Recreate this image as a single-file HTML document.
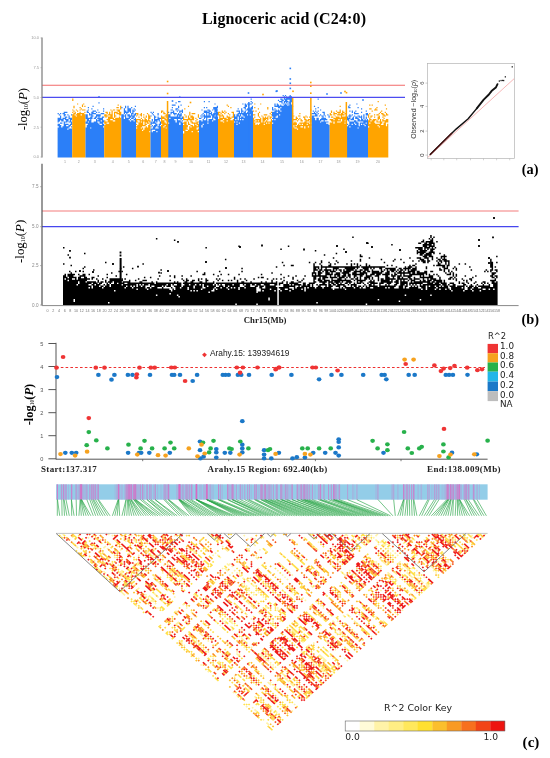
<!DOCTYPE html>
<html><head><meta charset="utf-8"><title>Lignoceric acid (C24:0)</title>
<style>
html,body{margin:0;padding:0;background:#fff;}
body{width:550px;height:758px;overflow:hidden;position:relative;}
svg{position:absolute;left:0;top:0;display:block;}
.serif{font-family:'Liberation Serif', 'Times New Roman', serif;}
.sans{font-family:'Liberation Sans', Arial, sans-serif;}
</style></head><body>
<svg width="550" height="758" viewBox="0 0 550 758" shape-rendering="auto">
<rect width="550" height="758" fill="#fff"/>
<text x="202" y="23.5" class="serif" font-weight="bold" font-size="16" textLength="164" lengthAdjust="spacing">Lignoceric acid (C24:0)</text>
<path d="M63.7 111.8h3.7v1.2h-3.7zM57.6 113h1.2v1.2h-1.2zM60 113h1.2v1.2h-1.2zM62.5 113h2.4v1.2h-2.4zM58.8 114.2h1.2v1.2h-1.2zM63.7 114.2h2.4v1.2h-2.4zM67.3 114.2h1.2v1.2h-1.2zM71 114.2h1.2v1.2h-1.2zM60 115.4h1.2v1.2h-1.2zM63.7 115.4h1.2v1.2h-1.2zM68.5 115.4h1.2v1.2h-1.2zM60 116.6h1.2v1.2h-1.2zM64.9 116.6h2.4v1.2h-2.4zM68.5 116.6h1.2v1.2h-1.2zM57.6 117.8h3.7v1.2h-3.7zM62.5 117.8h3.7v1.2h-3.7zM68.5 117.8h3.7v1.2h-3.7zM57.6 119h6.1v1.2h-6.1zM64.9 119h3.7v1.2h-3.7zM69.8 119h2.4v1.2h-2.4zM57.6 120.2h2.4v1.2h-2.4zM61.2 120.2h2.4v1.2h-2.4zM66.1 120.2h2.4v1.2h-2.4zM69.8 120.2h1.2v1.2h-1.2zM57.6 121.4h1.2v1.2h-1.2zM63.7 121.4h3.7v1.2h-3.7zM68.5 121.4h3.7v1.2h-3.7zM60 122.6h2.4v1.2h-2.4zM63.7 122.6h1.2v1.2h-1.2zM71 122.6h1.2v1.2h-1.2zM57.6 123.8h2.4v1.2h-2.4zM63.7 123.8h4.9v1.2h-4.9zM69.8 123.8h2.4v1.2h-2.4zM57.6 125h3.7v1.2h-3.7zM63.7 125h2.4v1.2h-2.4zM68.5 125h2.4v1.2h-2.4zM58.8 126.2h2.4v1.2h-2.4zM62.5 126.2h7.3v1.2h-7.3zM71 126.2h1.2v1.2h-1.2zM57.6 127.4h11v1.2h-11zM57.6 128.6h9.7v1.2h-9.7zM68.5 128.6h3.7v1.2h-3.7zM57.6 129.8h14.6v1.2h-14.6zM57.6 131h14.6v1.2h-14.6zM57.6 132.2h14.6v1.2h-14.6zM57.6 133.4h14.6v1.2h-14.6zM57.6 134.6h14.6v1.2h-14.6zM57.6 135.8h14.6v1.2h-14.6zM57.6 137h14.6v1.2h-14.6zM57.6 138.2h14.6v1.2h-14.6zM57.6 139.4h14.6v1.2h-14.6zM57.6 140.6h14.6v1.2h-14.6zM57.6 141.8h14.6v1.2h-14.6zM57.6 143h14.6v1.2h-14.6zM57.6 144.2h14.6v1.2h-14.6zM57.6 145.4h14.6v1.2h-14.6zM57.6 146.6h14.6v1.2h-14.6zM57.6 147.8h14.6v1.2h-14.6zM57.6 149h14.6v1.2h-14.6zM57.6 150.2h14.6v1.2h-14.6zM57.6 151.4h14.6v1.2h-14.6zM57.6 152.6h14.6v1.2h-14.6zM57.6 153.8h14.6v1.2h-14.6zM57.6 155h14.6v1.2h-14.6zM57.6 156.2h14.6v1.2h-14.6z" fill="#2b7ff8"/>
<path d="M72.2 98.6h1.2v1.2h-1.2zM72.2 99.8h1.2v1.2h-1.2zM77 103.4h1.2v1.2h-1.2zM83.1 103.4h1.2v1.2h-1.2zM81.9 104.6h1.2v1.2h-1.2zM73.4 105.8h1.2v1.2h-1.2zM81.9 105.8h1.2v1.2h-1.2zM84.3 105.8h1.2v1.2h-1.2zM73.4 107h1.2v1.2h-1.2zM79.5 107h1.2v1.2h-1.2zM80.7 108.2h1.2v1.2h-1.2zM72.2 109.4h1.2v1.2h-1.2zM75.8 109.4h1.2v1.2h-1.2zM79.5 109.4h1.2v1.2h-1.2zM81.9 109.4h3.6v1.2h-3.6zM73.4 110.6h1.2v1.2h-1.2zM77 110.6h1.2v1.2h-1.2zM72.2 111.8h1.2v1.2h-1.2zM74.6 111.8h1.2v1.2h-1.2zM79.5 111.8h1.2v1.2h-1.2zM84.3 111.8h1.2v1.2h-1.2zM73.4 113h2.4v1.2h-2.4zM77 113h7.3v1.2h-7.3zM72.2 114.2h2.4v1.2h-2.4zM75.8 114.2h4.8v1.2h-4.8zM81.9 114.2h3.6v1.2h-3.6zM72.2 115.4h3.6v1.2h-3.6zM77 115.4h8.5v1.2h-8.5zM72.2 116.6h13.3v1.2h-13.3zM72.2 117.8h13.3v1.2h-13.3zM72.2 119h13.3v1.2h-13.3zM72.2 120.2h13.3v1.2h-13.3zM72.2 121.4h13.3v1.2h-13.3zM72.2 122.6h13.3v1.2h-13.3zM72.2 123.8h13.3v1.2h-13.3zM72.2 125h13.3v1.2h-13.3zM72.2 126.2h13.3v1.2h-13.3zM72.2 127.4h13.3v1.2h-13.3zM72.2 128.6h13.3v1.2h-13.3zM72.2 129.8h13.3v1.2h-13.3zM72.2 131h13.3v1.2h-13.3zM72.2 132.2h13.3v1.2h-13.3zM72.2 133.4h13.3v1.2h-13.3zM72.2 134.6h13.3v1.2h-13.3zM72.2 135.8h13.3v1.2h-13.3zM72.2 137h13.3v1.2h-13.3zM72.2 138.2h13.3v1.2h-13.3zM72.2 139.4h13.3v1.2h-13.3zM72.2 140.6h13.3v1.2h-13.3zM72.2 141.8h13.3v1.2h-13.3zM72.2 143h13.3v1.2h-13.3zM72.2 144.2h13.3v1.2h-13.3zM72.2 145.4h13.3v1.2h-13.3zM72.2 146.6h13.3v1.2h-13.3zM72.2 147.8h13.3v1.2h-13.3zM72.2 149h13.3v1.2h-13.3zM72.2 150.2h13.3v1.2h-13.3zM72.2 151.4h13.3v1.2h-13.3zM72.2 152.6h13.3v1.2h-13.3zM72.2 153.8h13.3v1.2h-13.3zM72.2 155h13.3v1.2h-13.3zM72.2 156.2h13.3v1.2h-13.3z" fill="#ffa400"/>
<path d="M98.4 102.2h1.2v1.2h-1.2zM92.5 105.8h1.2v1.2h-1.2zM87.8 107h1.2v1.2h-1.2zM91.3 108.2h1.2v1.2h-1.2zM103 108.2h1.2v1.2h-1.2zM87.8 109.4h1.2v1.2h-1.2zM97.2 109.4h1.2v1.2h-1.2zM86.7 110.6h1.2v1.2h-1.2zM92.5 110.6h3.5v1.2h-3.5zM103 110.6h1.2v1.2h-1.2zM86.7 111.8h2.3v1.2h-2.3zM91.3 111.8h2.3v1.2h-2.3zM96 111.8h1.2v1.2h-1.2zM98.4 111.8h1.2v1.2h-1.2zM89 113h1.2v1.2h-1.2zM91.3 113h4.7v1.2h-4.7zM100.7 113h3.5v1.2h-3.5zM85.5 114.2h2.3v1.2h-2.3zM89 114.2h3.5v1.2h-3.5zM96 114.2h4.7v1.2h-4.7zM85.5 115.4h2.3v1.2h-2.3zM91.3 115.4h2.3v1.2h-2.3zM96 115.4h4.7v1.2h-4.7zM85.5 116.6h2.3v1.2h-2.3zM90.2 116.6h2.3v1.2h-2.3zM94.8 116.6h2.3v1.2h-2.3zM98.4 116.6h1.2v1.2h-1.2zM101.9 116.6h2.3v1.2h-2.3zM85.5 117.8h7v1.2h-7zM93.7 117.8h2.3v1.2h-2.3zM97.2 117.8h5.8v1.2h-5.8zM86.7 119h2.3v1.2h-2.3zM90.2 119h1.2v1.2h-1.2zM96 119h1.2v1.2h-1.2zM98.4 119h4.7v1.2h-4.7zM86.7 120.2h4.7v1.2h-4.7zM96 120.2h4.7v1.2h-4.7zM101.9 120.2h2.3v1.2h-2.3zM85.5 121.4h2.3v1.2h-2.3zM89 121.4h2.3v1.2h-2.3zM93.7 121.4h3.5v1.2h-3.5zM99.5 121.4h4.7v1.2h-4.7zM85.5 122.6h12.9v1.2h-12.9zM99.5 122.6h3.5v1.2h-3.5zM87.8 123.8h11.7v1.2h-11.7zM101.9 123.8h2.3v1.2h-2.3zM86.7 125h17.5v1.2h-17.5zM86.7 126.2h16.4v1.2h-16.4zM85.5 127.4h4.7v1.2h-4.7zM91.3 127.4h12.9v1.2h-12.9zM85.5 128.6h18.7v1.2h-18.7zM85.5 129.8h18.7v1.2h-18.7zM85.5 131h18.7v1.2h-18.7zM85.5 132.2h18.7v1.2h-18.7zM85.5 133.4h18.7v1.2h-18.7zM85.5 134.6h18.7v1.2h-18.7zM85.5 135.8h18.7v1.2h-18.7zM85.5 137h18.7v1.2h-18.7zM85.5 138.2h18.7v1.2h-18.7zM85.5 139.4h18.7v1.2h-18.7zM85.5 140.6h18.7v1.2h-18.7zM85.5 141.8h18.7v1.2h-18.7zM85.5 143h18.7v1.2h-18.7zM85.5 144.2h18.7v1.2h-18.7zM85.5 145.4h18.7v1.2h-18.7zM85.5 146.6h18.7v1.2h-18.7zM85.5 147.8h18.7v1.2h-18.7zM85.5 149h18.7v1.2h-18.7zM85.5 150.2h18.7v1.2h-18.7zM85.5 151.4h18.7v1.2h-18.7zM85.5 152.6h18.7v1.2h-18.7zM85.5 153.8h18.7v1.2h-18.7zM85.5 155h18.7v1.2h-18.7zM85.5 156.2h18.7v1.2h-18.7z" fill="#2b7ff8"/>
<path d="M117.6 104.6h1.2v1.2h-1.2zM120.1 105.8h1.2v1.2h-1.2zM116.4 107h2.4v1.2h-2.4zM120.1 107h1.2v1.2h-1.2zM120.1 108.2h1.2v1.2h-1.2zM110.3 109.4h1.2v1.2h-1.2zM112.8 109.4h2.4v1.2h-2.4zM116.4 109.4h3.7v1.2h-3.7zM111.5 110.6h1.2v1.2h-1.2zM117.6 110.6h2.4v1.2h-2.4zM105.4 111.8h2.4v1.2h-2.4zM109.1 111.8h1.2v1.2h-1.2zM111.5 111.8h1.2v1.2h-1.2zM114 111.8h3.7v1.2h-3.7zM118.9 111.8h2.4v1.2h-2.4zM106.6 113h1.2v1.2h-1.2zM109.1 113h1.2v1.2h-1.2zM111.5 113h1.2v1.2h-1.2zM114 113h1.2v1.2h-1.2zM116.4 113h4.9v1.2h-4.9zM104.2 114.2h2.4v1.2h-2.4zM107.9 114.2h4.9v1.2h-4.9zM114 114.2h1.2v1.2h-1.2zM118.9 114.2h2.4v1.2h-2.4zM104.2 115.4h3.7v1.2h-3.7zM110.3 115.4h2.4v1.2h-2.4zM114 115.4h2.4v1.2h-2.4zM105.4 116.6h1.2v1.2h-1.2zM107.9 116.6h4.9v1.2h-4.9zM114 116.6h1.2v1.2h-1.2zM118.9 116.6h1.2v1.2h-1.2zM107.9 117.8h6.1v1.2h-6.1zM115.2 117.8h6.1v1.2h-6.1zM106.6 119h3.7v1.2h-3.7zM112.8 119h8.5v1.2h-8.5zM104.2 120.2h1.2v1.2h-1.2zM107.9 120.2h4.9v1.2h-4.9zM115.2 120.2h6.1v1.2h-6.1zM104.2 121.4h17.1v1.2h-17.1zM104.2 122.6h2.4v1.2h-2.4zM109.1 122.6h12.2v1.2h-12.2zM105.4 123.8h15.9v1.2h-15.9zM104.2 125h17.1v1.2h-17.1zM104.2 126.2h17.1v1.2h-17.1zM104.2 127.4h17.1v1.2h-17.1zM104.2 128.6h17.1v1.2h-17.1zM104.2 129.8h17.1v1.2h-17.1zM104.2 131h17.1v1.2h-17.1zM104.2 132.2h17.1v1.2h-17.1zM104.2 133.4h17.1v1.2h-17.1zM104.2 134.6h17.1v1.2h-17.1zM104.2 135.8h17.1v1.2h-17.1zM104.2 137h17.1v1.2h-17.1zM104.2 138.2h17.1v1.2h-17.1zM104.2 139.4h17.1v1.2h-17.1zM104.2 140.6h17.1v1.2h-17.1zM104.2 141.8h17.1v1.2h-17.1zM104.2 143h17.1v1.2h-17.1zM104.2 144.2h17.1v1.2h-17.1zM104.2 145.4h17.1v1.2h-17.1zM104.2 146.6h17.1v1.2h-17.1zM104.2 147.8h17.1v1.2h-17.1zM104.2 149h17.1v1.2h-17.1zM104.2 150.2h17.1v1.2h-17.1zM104.2 151.4h17.1v1.2h-17.1zM104.2 152.6h17.1v1.2h-17.1zM104.2 153.8h17.1v1.2h-17.1zM104.2 155h17.1v1.2h-17.1zM104.2 156.2h17.1v1.2h-17.1z" fill="#ffa400"/>
<path d="M125 105.8h1.2v1.2h-1.2zM127.4 105.8h1.2v1.2h-1.2zM134.8 105.8h1.2v1.2h-1.2zM121.3 107h1.2v1.2h-1.2zM125 107h1.2v1.2h-1.2zM127.4 107h1.2v1.2h-1.2zM131.1 107h1.2v1.2h-1.2zM123.8 108.2h1.2v1.2h-1.2zM127.4 108.2h3.7v1.2h-3.7zM133.6 108.2h1.2v1.2h-1.2zM123.8 109.4h1.2v1.2h-1.2zM127.4 109.4h3.7v1.2h-3.7zM132.3 109.4h1.2v1.2h-1.2zM134.8 109.4h1.2v1.2h-1.2zM123.8 110.6h2.5v1.2h-2.5zM127.4 110.6h3.7v1.2h-3.7zM132.3 110.6h2.5v1.2h-2.5zM123.8 111.8h4.9v1.2h-4.9zM129.9 111.8h1.2v1.2h-1.2zM132.3 111.8h1.2v1.2h-1.2zM123.8 113h1.2v1.2h-1.2zM126.2 113h1.2v1.2h-1.2zM131.1 113h2.5v1.2h-2.5zM134.8 113h1.2v1.2h-1.2zM121.3 114.2h2.5v1.2h-2.5zM125 114.2h1.2v1.2h-1.2zM127.4 114.2h2.5v1.2h-2.5zM131.1 114.2h1.2v1.2h-1.2zM133.6 114.2h2.5v1.2h-2.5zM121.3 115.4h4.9v1.2h-4.9zM127.4 115.4h7.4v1.2h-7.4zM121.3 116.6h2.5v1.2h-2.5zM125 116.6h1.2v1.2h-1.2zM128.7 116.6h2.5v1.2h-2.5zM132.3 116.6h2.5v1.2h-2.5zM121.3 117.8h2.5v1.2h-2.5zM125 117.8h4.9v1.2h-4.9zM131.1 117.8h2.5v1.2h-2.5zM134.8 117.8h1.2v1.2h-1.2zM121.3 119h7.4v1.2h-7.4zM129.9 119h1.2v1.2h-1.2zM133.6 119h2.5v1.2h-2.5zM121.3 120.2h8.6v1.2h-8.6zM131.1 120.2h2.5v1.2h-2.5zM134.8 120.2h1.2v1.2h-1.2zM121.3 121.4h14.7v1.2h-14.7zM121.3 122.6h14.7v1.2h-14.7zM121.3 123.8h14.7v1.2h-14.7zM121.3 125h14.7v1.2h-14.7zM121.3 126.2h14.7v1.2h-14.7zM121.3 127.4h14.7v1.2h-14.7zM121.3 128.6h14.7v1.2h-14.7zM121.3 129.8h14.7v1.2h-14.7zM121.3 131h14.7v1.2h-14.7zM121.3 132.2h14.7v1.2h-14.7zM121.3 133.4h14.7v1.2h-14.7zM121.3 134.6h14.7v1.2h-14.7zM121.3 135.8h14.7v1.2h-14.7zM121.3 137h14.7v1.2h-14.7zM121.3 138.2h14.7v1.2h-14.7zM121.3 139.4h14.7v1.2h-14.7zM121.3 140.6h14.7v1.2h-14.7zM121.3 141.8h14.7v1.2h-14.7zM121.3 143h14.7v1.2h-14.7zM121.3 144.2h14.7v1.2h-14.7zM121.3 145.4h14.7v1.2h-14.7zM121.3 146.6h14.7v1.2h-14.7zM121.3 147.8h14.7v1.2h-14.7zM121.3 149h14.7v1.2h-14.7zM121.3 150.2h14.7v1.2h-14.7zM121.3 151.4h14.7v1.2h-14.7zM121.3 152.6h14.7v1.2h-14.7zM121.3 153.8h14.7v1.2h-14.7zM121.3 155h14.7v1.2h-14.7zM121.3 156.2h14.7v1.2h-14.7z" fill="#2b7ff8"/>
<path d="M136 113h2.4v1.2h-2.4zM140.8 113h1.2v1.2h-1.2zM146.9 113h1.2v1.2h-1.2zM137.2 114.2h1.2v1.2h-1.2zM139.6 114.2h2.4v1.2h-2.4zM143.2 114.2h1.2v1.2h-1.2zM148.1 114.2h1.2v1.2h-1.2zM136 115.4h1.2v1.2h-1.2zM140.8 115.4h1.2v1.2h-1.2zM145.7 115.4h1.2v1.2h-1.2zM148.1 115.4h2.4v1.2h-2.4zM138.4 116.6h1.2v1.2h-1.2zM143.2 116.6h1.2v1.2h-1.2zM145.7 116.6h1.2v1.2h-1.2zM148.1 116.6h2.4v1.2h-2.4zM140.8 117.8h1.2v1.2h-1.2zM144.5 117.8h1.2v1.2h-1.2zM148.1 117.8h2.4v1.2h-2.4zM136 119h4.8v1.2h-4.8zM142 119h1.2v1.2h-1.2zM144.5 119h2.4v1.2h-2.4zM148.1 119h1.2v1.2h-1.2zM136 120.2h1.2v1.2h-1.2zM139.6 120.2h10.9v1.2h-10.9zM136 121.4h2.4v1.2h-2.4zM139.6 121.4h1.2v1.2h-1.2zM142 121.4h1.2v1.2h-1.2zM144.5 121.4h3.6v1.2h-3.6zM149.3 121.4h1.2v1.2h-1.2zM138.4 122.6h4.8v1.2h-4.8zM144.5 122.6h1.2v1.2h-1.2zM146.9 122.6h2.4v1.2h-2.4zM136 123.8h1.2v1.2h-1.2zM138.4 123.8h4.8v1.2h-4.8zM144.5 123.8h2.4v1.2h-2.4zM149.3 123.8h1.2v1.2h-1.2zM137.2 125h8.5v1.2h-8.5zM148.1 125h2.4v1.2h-2.4zM136 126.2h6v1.2h-6zM145.7 126.2h1.2v1.2h-1.2zM148.1 126.2h2.4v1.2h-2.4zM137.2 127.4h3.6v1.2h-3.6zM142 127.4h1.2v1.2h-1.2zM144.5 127.4h6v1.2h-6zM136 128.6h7.2v1.2h-7.2zM144.5 128.6h6v1.2h-6zM136 129.8h6v1.2h-6zM143.2 129.8h7.2v1.2h-7.2zM136 131h13.3v1.2h-13.3zM136 132.2h14.5v1.2h-14.5zM136 133.4h14.5v1.2h-14.5zM136 134.6h14.5v1.2h-14.5zM136 135.8h14.5v1.2h-14.5zM136 137h14.5v1.2h-14.5zM136 138.2h14.5v1.2h-14.5zM136 139.4h14.5v1.2h-14.5zM136 140.6h14.5v1.2h-14.5zM136 141.8h14.5v1.2h-14.5zM136 143h14.5v1.2h-14.5zM136 144.2h14.5v1.2h-14.5zM136 145.4h14.5v1.2h-14.5zM136 146.6h14.5v1.2h-14.5zM136 147.8h14.5v1.2h-14.5zM136 149h14.5v1.2h-14.5zM136 150.2h14.5v1.2h-14.5zM136 151.4h14.5v1.2h-14.5zM136 152.6h14.5v1.2h-14.5zM136 153.8h14.5v1.2h-14.5zM136 155h14.5v1.2h-14.5zM136 156.2h14.5v1.2h-14.5z" fill="#ffa400"/>
<path d="M150.5 111.8h1.2v1.2h-1.2zM152.8 111.8h1.2v1.2h-1.2zM151.7 113h1.2v1.2h-1.2zM157.5 113h1.2v1.2h-1.2zM152.8 114.2h1.2v1.2h-1.2zM157.5 114.2h1.2v1.2h-1.2zM150.5 115.4h1.2v1.2h-1.2zM154 115.4h1.2v1.2h-1.2zM154 116.6h2.3v1.2h-2.3zM157.5 116.6h1.2v1.2h-1.2zM154 117.8h1.2v1.2h-1.2zM157.5 117.8h3.5v1.2h-3.5zM151.7 119h1.2v1.2h-1.2zM154 119h5.8v1.2h-5.8zM151.7 120.2h1.2v1.2h-1.2zM154 120.2h3.5v1.2h-3.5zM158.7 120.2h1.2v1.2h-1.2zM150.5 121.4h1.2v1.2h-1.2zM152.8 121.4h2.3v1.2h-2.3zM156.3 121.4h1.2v1.2h-1.2zM159.8 121.4h1.2v1.2h-1.2zM150.5 122.6h5.8v1.2h-5.8zM159.8 122.6h1.2v1.2h-1.2zM150.5 123.8h1.2v1.2h-1.2zM155.2 123.8h2.3v1.2h-2.3zM158.7 123.8h2.3v1.2h-2.3zM151.7 125h1.2v1.2h-1.2zM154 125h3.5v1.2h-3.5zM158.7 125h1.2v1.2h-1.2zM150.5 126.2h1.2v1.2h-1.2zM152.8 126.2h3.5v1.2h-3.5zM157.5 126.2h3.5v1.2h-3.5zM152.8 127.4h2.3v1.2h-2.3zM158.7 127.4h2.3v1.2h-2.3zM150.5 128.6h10.5v1.2h-10.5zM150.5 129.8h1.2v1.2h-1.2zM155.2 129.8h5.8v1.2h-5.8zM150.5 131h1.2v1.2h-1.2zM152.8 131h3.5v1.2h-3.5zM157.5 131h3.5v1.2h-3.5zM150.5 132.2h10.5v1.2h-10.5zM150.5 133.4h10.5v1.2h-10.5zM150.5 134.6h10.5v1.2h-10.5zM150.5 135.8h10.5v1.2h-10.5zM150.5 137h10.5v1.2h-10.5zM150.5 138.2h10.5v1.2h-10.5zM150.5 139.4h10.5v1.2h-10.5zM150.5 140.6h10.5v1.2h-10.5zM150.5 141.8h10.5v1.2h-10.5zM150.5 143h10.5v1.2h-10.5zM150.5 144.2h10.5v1.2h-10.5zM150.5 145.4h10.5v1.2h-10.5zM150.5 146.6h10.5v1.2h-10.5zM150.5 147.8h10.5v1.2h-10.5zM150.5 149h10.5v1.2h-10.5zM150.5 150.2h10.5v1.2h-10.5zM150.5 151.4h10.5v1.2h-10.5zM150.5 152.6h10.5v1.2h-10.5zM150.5 153.8h10.5v1.2h-10.5zM150.5 155h10.5v1.2h-10.5zM150.5 156.2h10.5v1.2h-10.5z" fill="#2b7ff8"/>
<path d="M161 110.6h2.3v1.2h-2.3zM166.8 110.6h1.2v1.2h-1.2zM161 111.8h1.2v1.2h-1.2zM163.3 111.8h1.2v1.2h-1.2zM163.3 113h2.3v1.2h-2.3zM165.7 114.2h2.3v1.2h-2.3zM161 115.4h1.2v1.2h-1.2zM164.5 115.4h2.3v1.2h-2.3zM161 116.6h3.5v1.2h-3.5zM165.7 116.6h1.2v1.2h-1.2zM161 117.8h4.7v1.2h-4.7zM166.8 117.8h1.2v1.2h-1.2zM161 119h1.2v1.2h-1.2zM164.5 119h2.3v1.2h-2.3zM161 120.2h3.5v1.2h-3.5zM165.7 120.2h1.2v1.2h-1.2zM161 121.4h3.5v1.2h-3.5zM166.8 121.4h1.2v1.2h-1.2zM161 122.6h4.7v1.2h-4.7zM166.8 122.6h1.2v1.2h-1.2zM162.2 123.8h5.8v1.2h-5.8zM161 125h3.5v1.2h-3.5zM165.7 125h2.3v1.2h-2.3zM161 126.2h2.3v1.2h-2.3zM164.5 126.2h3.5v1.2h-3.5zM161 127.4h4.7v1.2h-4.7zM166.8 127.4h1.2v1.2h-1.2zM161 128.6h7v1.2h-7zM161 129.8h7v1.2h-7zM161 131h7v1.2h-7zM161 132.2h7v1.2h-7zM161 133.4h7v1.2h-7zM161 134.6h7v1.2h-7zM161 135.8h7v1.2h-7zM161 137h7v1.2h-7zM161 138.2h7v1.2h-7zM161 139.4h7v1.2h-7zM161 140.6h7v1.2h-7zM161 141.8h7v1.2h-7zM161 143h7v1.2h-7zM161 144.2h7v1.2h-7zM161 145.4h7v1.2h-7zM161 146.6h7v1.2h-7zM161 147.8h7v1.2h-7zM161 149h7v1.2h-7zM161 150.2h7v1.2h-7zM161 151.4h7v1.2h-7zM161 152.6h7v1.2h-7zM161 153.8h7v1.2h-7zM161 155h7v1.2h-7zM161 156.2h7v1.2h-7z" fill="#ffa400"/>
<path d="M179.2 96.2h1.2v1.2h-1.2zM178 101h2.5v1.2h-2.5zM175.5 102.2h1.2v1.2h-1.2zM171.8 104.6h3.8v1.2h-3.8zM180.5 104.6h1.2v1.2h-1.2zM178 105.8h1.2v1.2h-1.2zM171.8 107h1.2v1.2h-1.2zM178 107h1.2v1.2h-1.2zM175.5 108.2h2.5v1.2h-2.5zM170.5 109.4h2.5v1.2h-2.5zM175.5 109.4h1.2v1.2h-1.2zM178 109.4h1.2v1.2h-1.2zM181.8 109.4h1.2v1.2h-1.2zM173 110.6h1.2v1.2h-1.2zM176.8 110.6h1.2v1.2h-1.2zM179.2 110.6h3.8v1.2h-3.8zM168 111.8h1.2v1.2h-1.2zM170.5 111.8h3.8v1.2h-3.8zM179.2 111.8h1.2v1.2h-1.2zM181.8 111.8h1.2v1.2h-1.2zM170.5 113h1.2v1.2h-1.2zM173 113h3.8v1.2h-3.8zM178 113h1.2v1.2h-1.2zM180.5 113h1.2v1.2h-1.2zM168 114.2h2.5v1.2h-2.5zM174.2 114.2h1.2v1.2h-1.2zM176.8 114.2h5v1.2h-5zM168 115.4h2.5v1.2h-2.5zM176.8 115.4h1.2v1.2h-1.2zM179.2 115.4h2.5v1.2h-2.5zM168 116.6h12.5v1.2h-12.5zM181.8 116.6h1.2v1.2h-1.2zM168 117.8h1.2v1.2h-1.2zM170.5 117.8h12.5v1.2h-12.5zM168 119h6.2v1.2h-6.2zM176.8 119h1.2v1.2h-1.2zM180.5 119h1.2v1.2h-1.2zM168 120.2h7.5v1.2h-7.5zM176.8 120.2h3.8v1.2h-3.8zM181.8 120.2h1.2v1.2h-1.2zM168 121.4h7.5v1.2h-7.5zM176.8 121.4h5v1.2h-5zM169.2 122.6h10v1.2h-10zM180.5 122.6h2.5v1.2h-2.5zM168 123.8h11.2v1.2h-11.2zM180.5 123.8h2.5v1.2h-2.5zM168 125h15v1.2h-15zM168 126.2h15v1.2h-15zM168 127.4h15v1.2h-15zM168 128.6h15v1.2h-15zM168 129.8h15v1.2h-15zM168 131h15v1.2h-15zM168 132.2h15v1.2h-15zM168 133.4h15v1.2h-15zM168 134.6h15v1.2h-15zM168 135.8h15v1.2h-15zM168 137h15v1.2h-15zM168 138.2h15v1.2h-15zM168 139.4h15v1.2h-15zM168 140.6h15v1.2h-15zM168 141.8h15v1.2h-15zM168 143h15v1.2h-15zM168 144.2h15v1.2h-15zM168 145.4h15v1.2h-15zM168 146.6h15v1.2h-15zM168 147.8h15v1.2h-15zM168 149h15v1.2h-15zM168 150.2h15v1.2h-15zM168 151.4h15v1.2h-15zM168 152.6h15v1.2h-15zM168 153.8h15v1.2h-15zM168 155h15v1.2h-15zM168 156.2h15v1.2h-15z" fill="#2b7ff8"/>
<path d="M187.9 105.8h1.2v1.2h-1.2zM184.2 108.2h1.2v1.2h-1.2zM189.2 111.8h1.2v1.2h-1.2zM189.2 113h1.2v1.2h-1.2zM191.6 113h3.7v1.2h-3.7zM184.2 114.2h1.2v1.2h-1.2zM189.2 114.2h1.2v1.2h-1.2zM197.8 114.2h1.2v1.2h-1.2zM185.5 115.4h1.2v1.2h-1.2zM187.9 115.4h1.2v1.2h-1.2zM190.4 115.4h2.5v1.2h-2.5zM197.8 115.4h1.2v1.2h-1.2zM183 116.6h1.2v1.2h-1.2zM185.5 116.6h1.2v1.2h-1.2zM187.9 116.6h1.2v1.2h-1.2zM190.4 116.6h3.7v1.2h-3.7zM197.8 116.6h1.2v1.2h-1.2zM183 117.8h1.2v1.2h-1.2zM187.9 117.8h2.5v1.2h-2.5zM191.6 117.8h2.5v1.2h-2.5zM195.3 117.8h1.2v1.2h-1.2zM183 119h11.1v1.2h-11.1zM196.5 119h1.2v1.2h-1.2zM186.7 120.2h1.2v1.2h-1.2zM190.4 120.2h1.2v1.2h-1.2zM195.3 120.2h1.2v1.2h-1.2zM184.2 121.4h2.5v1.2h-2.5zM187.9 121.4h1.2v1.2h-1.2zM190.4 121.4h2.5v1.2h-2.5zM196.5 121.4h2.5v1.2h-2.5zM183 122.6h3.7v1.2h-3.7zM187.9 122.6h1.2v1.2h-1.2zM191.6 122.6h6.2v1.2h-6.2zM184.2 123.8h2.5v1.2h-2.5zM187.9 123.8h2.5v1.2h-2.5zM194.1 123.8h1.2v1.2h-1.2zM196.5 123.8h2.5v1.2h-2.5zM183 125h4.9v1.2h-4.9zM190.4 125h2.5v1.2h-2.5zM194.1 125h2.5v1.2h-2.5zM197.8 125h1.2v1.2h-1.2zM183 126.2h4.9v1.2h-4.9zM189.2 126.2h1.2v1.2h-1.2zM191.6 126.2h7.4v1.2h-7.4zM183 127.4h3.7v1.2h-3.7zM189.2 127.4h7.4v1.2h-7.4zM183 128.6h4.9v1.2h-4.9zM189.2 128.6h7.4v1.2h-7.4zM197.8 128.6h1.2v1.2h-1.2zM183 129.8h2.5v1.2h-2.5zM187.9 129.8h11.1v1.2h-11.1zM184.2 131h7.4v1.2h-7.4zM192.8 131h4.9v1.2h-4.9zM184.2 132.2h14.8v1.2h-14.8zM183 133.4h16v1.2h-16zM183 134.6h16v1.2h-16zM183 135.8h16v1.2h-16zM183 137h16v1.2h-16zM183 138.2h16v1.2h-16zM183 139.4h16v1.2h-16zM183 140.6h16v1.2h-16zM183 141.8h16v1.2h-16zM183 143h16v1.2h-16zM183 144.2h16v1.2h-16zM183 145.4h16v1.2h-16zM183 146.6h16v1.2h-16zM183 147.8h16v1.2h-16zM183 149h16v1.2h-16zM183 150.2h16v1.2h-16zM183 151.4h16v1.2h-16zM183 152.6h16v1.2h-16zM183 153.8h16v1.2h-16zM183 155h16v1.2h-16zM183 156.2h16v1.2h-16z" fill="#ffa400"/>
<path d="M203.8 101h1.2v1.2h-1.2zM208.5 101h1.2v1.2h-1.2zM214.4 103.4h1.2v1.2h-1.2zM216.8 105.8h1.2v1.2h-1.2zM203.8 107h1.2v1.2h-1.2zM206.1 107h1.2v1.2h-1.2zM213.2 107h4.8v1.2h-4.8zM213.2 108.2h3.6v1.2h-3.6zM201.4 109.4h1.2v1.2h-1.2zM207.3 109.4h2.4v1.2h-2.4zM212.1 109.4h1.2v1.2h-1.2zM214.4 109.4h3.6v1.2h-3.6zM203.8 110.6h3.6v1.2h-3.6zM208.5 110.6h2.4v1.2h-2.4zM214.4 110.6h2.4v1.2h-2.4zM203.8 111.8h5.9v1.2h-5.9zM210.9 111.8h1.2v1.2h-1.2zM214.4 111.8h1.2v1.2h-1.2zM216.8 111.8h1.2v1.2h-1.2zM202.6 113h1.2v1.2h-1.2zM206.1 113h1.2v1.2h-1.2zM208.5 113h3.6v1.2h-3.6zM213.2 113h4.8v1.2h-4.8zM201.4 114.2h1.2v1.2h-1.2zM203.8 114.2h1.2v1.2h-1.2zM206.1 114.2h1.2v1.2h-1.2zM208.5 114.2h1.2v1.2h-1.2zM210.9 114.2h4.8v1.2h-4.8zM216.8 114.2h1.2v1.2h-1.2zM200.2 115.4h1.2v1.2h-1.2zM202.6 115.4h8.3v1.2h-8.3zM212.1 115.4h2.4v1.2h-2.4zM215.6 115.4h1.2v1.2h-1.2zM201.4 116.6h1.2v1.2h-1.2zM203.8 116.6h7.1v1.2h-7.1zM212.1 116.6h5.9v1.2h-5.9zM199 117.8h2.4v1.2h-2.4zM203.8 117.8h1.2v1.2h-1.2zM206.1 117.8h1.2v1.2h-1.2zM212.1 117.8h1.2v1.2h-1.2zM214.4 117.8h3.6v1.2h-3.6zM202.6 119h1.2v1.2h-1.2zM206.1 119h1.2v1.2h-1.2zM208.5 119h4.8v1.2h-4.8zM215.6 119h2.4v1.2h-2.4zM199 120.2h2.4v1.2h-2.4zM202.6 120.2h4.8v1.2h-4.8zM208.5 120.2h3.6v1.2h-3.6zM213.2 120.2h4.8v1.2h-4.8zM199 121.4h19v1.2h-19zM199 122.6h8.3v1.2h-8.3zM208.5 122.6h9.5v1.2h-9.5zM199 123.8h3.6v1.2h-3.6zM203.8 123.8h14.2v1.2h-14.2zM199 125h2.4v1.2h-2.4zM202.6 125h15.4v1.2h-15.4zM199 126.2h2.4v1.2h-2.4zM202.6 126.2h15.4v1.2h-15.4zM199 127.4h19v1.2h-19zM199 128.6h19v1.2h-19zM199 129.8h19v1.2h-19zM199 131h19v1.2h-19zM199 132.2h19v1.2h-19zM199 133.4h19v1.2h-19zM199 134.6h19v1.2h-19zM199 135.8h19v1.2h-19zM199 137h19v1.2h-19zM199 138.2h19v1.2h-19zM199 139.4h19v1.2h-19zM199 140.6h19v1.2h-19zM199 141.8h19v1.2h-19zM199 143h19v1.2h-19zM199 144.2h19v1.2h-19zM199 145.4h19v1.2h-19zM199 146.6h19v1.2h-19zM199 147.8h19v1.2h-19zM199 149h19v1.2h-19zM199 150.2h19v1.2h-19zM199 151.4h19v1.2h-19zM199 152.6h19v1.2h-19zM199 153.8h19v1.2h-19zM199 155h19v1.2h-19zM199 156.2h19v1.2h-19z" fill="#2b7ff8"/>
<path d="M226.6 104.6h1.2v1.2h-1.2zM227.8 105.8h1.2v1.2h-1.2zM230.3 107h1.2v1.2h-1.2zM221.7 110.6h1.2v1.2h-1.2zM224.2 110.6h1.2v1.2h-1.2zM218 111.8h2.5v1.2h-2.5zM221.7 111.8h2.5v1.2h-2.5zM225.4 111.8h1.2v1.2h-1.2zM231.5 111.8h2.5v1.2h-2.5zM218 113h1.2v1.2h-1.2zM220.5 113h1.2v1.2h-1.2zM224.2 113h1.2v1.2h-1.2zM227.8 113h1.2v1.2h-1.2zM232.8 113h1.2v1.2h-1.2zM218 114.2h2.5v1.2h-2.5zM221.7 114.2h1.2v1.2h-1.2zM229.1 114.2h1.2v1.2h-1.2zM232.8 114.2h1.2v1.2h-1.2zM219.2 115.4h4.9v1.2h-4.9zM226.6 115.4h1.2v1.2h-1.2zM232.8 115.4h1.2v1.2h-1.2zM219.2 116.6h1.2v1.2h-1.2zM222.9 116.6h1.2v1.2h-1.2zM226.6 116.6h3.7v1.2h-3.7zM231.5 116.6h2.5v1.2h-2.5zM219.2 117.8h7.4v1.2h-7.4zM227.8 117.8h3.7v1.2h-3.7zM218 119h4.9v1.2h-4.9zM224.2 119h6.2v1.2h-6.2zM232.8 119h1.2v1.2h-1.2zM218 120.2h2.5v1.2h-2.5zM222.9 120.2h3.7v1.2h-3.7zM227.8 120.2h6.2v1.2h-6.2zM218 121.4h4.9v1.2h-4.9zM224.2 121.4h9.8v1.2h-9.8zM218 122.6h16v1.2h-16zM218 123.8h16v1.2h-16zM218 125h16v1.2h-16zM218 126.2h16v1.2h-16zM218 127.4h16v1.2h-16zM218 128.6h16v1.2h-16zM218 129.8h16v1.2h-16zM218 131h16v1.2h-16zM218 132.2h16v1.2h-16zM218 133.4h16v1.2h-16zM218 134.6h16v1.2h-16zM218 135.8h16v1.2h-16zM218 137h16v1.2h-16zM218 138.2h16v1.2h-16zM218 139.4h16v1.2h-16zM218 140.6h16v1.2h-16zM218 141.8h16v1.2h-16zM218 143h16v1.2h-16zM218 144.2h16v1.2h-16zM218 145.4h16v1.2h-16zM218 146.6h16v1.2h-16zM218 147.8h16v1.2h-16zM218 149h16v1.2h-16zM218 150.2h16v1.2h-16zM218 151.4h16v1.2h-16zM218 152.6h16v1.2h-16zM218 153.8h16v1.2h-16zM218 155h16v1.2h-16zM218 156.2h16v1.2h-16z" fill="#ffa400"/>
<path d="M250.6 98.6h1.2v1.2h-1.2zM250.6 101h1.2v1.2h-1.2zM251.8 102.2h1.2v1.2h-1.2zM242.3 103.4h1.2v1.2h-1.2zM244.7 103.4h1.2v1.2h-1.2zM247.1 103.4h4.8v1.2h-4.8zM244.7 104.6h2.4v1.2h-2.4zM248.2 104.6h1.2v1.2h-1.2zM244.7 105.8h2.4v1.2h-2.4zM251.8 105.8h1.2v1.2h-1.2zM243.5 107h2.4v1.2h-2.4zM248.2 107h1.2v1.2h-1.2zM250.6 107h2.4v1.2h-2.4zM237.6 108.2h1.2v1.2h-1.2zM241.1 108.2h1.2v1.2h-1.2zM244.7 108.2h1.2v1.2h-1.2zM247.1 108.2h5.9v1.2h-5.9zM241.1 109.4h1.2v1.2h-1.2zM245.9 109.4h5.9v1.2h-5.9zM236.4 110.6h3.6v1.2h-3.6zM241.1 110.6h2.4v1.2h-2.4zM244.7 110.6h1.2v1.2h-1.2zM248.2 110.6h4.8v1.2h-4.8zM238.8 111.8h1.2v1.2h-1.2zM241.1 111.8h1.2v1.2h-1.2zM243.5 111.8h2.4v1.2h-2.4zM247.1 111.8h1.2v1.2h-1.2zM249.4 111.8h3.6v1.2h-3.6zM237.6 113h15.4v1.2h-15.4zM234 114.2h1.2v1.2h-1.2zM236.4 114.2h2.4v1.2h-2.4zM239.9 114.2h1.2v1.2h-1.2zM242.3 114.2h4.8v1.2h-4.8zM248.2 114.2h1.2v1.2h-1.2zM250.6 114.2h2.4v1.2h-2.4zM234 115.4h1.2v1.2h-1.2zM236.4 115.4h4.8v1.2h-4.8zM243.5 115.4h9.5v1.2h-9.5zM234 116.6h3.6v1.2h-3.6zM238.8 116.6h1.2v1.2h-1.2zM241.1 116.6h2.4v1.2h-2.4zM244.7 116.6h8.3v1.2h-8.3zM234 117.8h3.6v1.2h-3.6zM238.8 117.8h14.2v1.2h-14.2zM234 119h1.2v1.2h-1.2zM236.4 119h1.2v1.2h-1.2zM238.8 119h1.2v1.2h-1.2zM241.1 119h1.2v1.2h-1.2zM243.5 119h9.5v1.2h-9.5zM234 120.2h19v1.2h-19zM235.2 121.4h1.2v1.2h-1.2zM237.6 121.4h15.4v1.2h-15.4zM234 122.6h4.8v1.2h-4.8zM239.9 122.6h13.1v1.2h-13.1zM234 123.8h2.4v1.2h-2.4zM237.6 123.8h15.4v1.2h-15.4zM234 125h19v1.2h-19zM234 126.2h19v1.2h-19zM234 127.4h19v1.2h-19zM234 128.6h19v1.2h-19zM234 129.8h19v1.2h-19zM234 131h19v1.2h-19zM234 132.2h19v1.2h-19zM234 133.4h19v1.2h-19zM234 134.6h19v1.2h-19zM234 135.8h19v1.2h-19zM234 137h19v1.2h-19zM234 138.2h19v1.2h-19zM234 139.4h19v1.2h-19zM234 140.6h19v1.2h-19zM234 141.8h19v1.2h-19zM234 143h19v1.2h-19zM234 144.2h19v1.2h-19zM234 145.4h19v1.2h-19zM234 146.6h19v1.2h-19zM234 147.8h19v1.2h-19zM234 149h19v1.2h-19zM234 150.2h19v1.2h-19zM234 151.4h19v1.2h-19zM234 152.6h19v1.2h-19zM234 153.8h19v1.2h-19zM234 155h19v1.2h-19zM234 156.2h19v1.2h-19z" fill="#2b7ff8"/>
<path d="M254.2 103.4h1.2v1.2h-1.2zM260.1 103.4h1.2v1.2h-1.2zM254.2 107h1.2v1.2h-1.2zM267.2 107h1.2v1.2h-1.2zM257.8 108.2h1.2v1.2h-1.2zM267.2 108.2h1.2v1.2h-1.2zM253 110.6h1.2v1.2h-1.2zM255.4 110.6h1.2v1.2h-1.2zM258.9 111.8h1.2v1.2h-1.2zM270.8 111.8h1.2v1.2h-1.2zM257.8 113h1.2v1.2h-1.2zM269.6 113h1.2v1.2h-1.2zM253 114.2h2.4v1.2h-2.4zM257.8 114.2h1.2v1.2h-1.2zM263.7 114.2h3.6v1.2h-3.6zM270.8 114.2h1.2v1.2h-1.2zM257.8 115.4h1.2v1.2h-1.2zM261.3 115.4h1.2v1.2h-1.2zM268.4 115.4h1.2v1.2h-1.2zM254.2 116.6h1.2v1.2h-1.2zM258.9 116.6h1.2v1.2h-1.2zM262.5 116.6h1.2v1.2h-1.2zM264.9 116.6h1.2v1.2h-1.2zM267.2 116.6h1.2v1.2h-1.2zM269.6 116.6h2.4v1.2h-2.4zM253 117.8h1.2v1.2h-1.2zM260.1 117.8h1.2v1.2h-1.2zM262.5 117.8h5.9v1.2h-5.9zM269.6 117.8h1.2v1.2h-1.2zM253 119h1.2v1.2h-1.2zM255.4 119h5.9v1.2h-5.9zM262.5 119h3.6v1.2h-3.6zM267.2 119h1.2v1.2h-1.2zM270.8 119h1.2v1.2h-1.2zM253 120.2h2.4v1.2h-2.4zM256.6 120.2h1.2v1.2h-1.2zM258.9 120.2h2.4v1.2h-2.4zM262.5 120.2h2.4v1.2h-2.4zM266.1 120.2h1.2v1.2h-1.2zM270.8 120.2h1.2v1.2h-1.2zM253 121.4h1.2v1.2h-1.2zM255.4 121.4h5.9v1.2h-5.9zM262.5 121.4h1.2v1.2h-1.2zM264.9 121.4h7.1v1.2h-7.1zM253 122.6h2.4v1.2h-2.4zM260.1 122.6h5.9v1.2h-5.9zM267.2 122.6h1.2v1.2h-1.2zM269.6 122.6h2.4v1.2h-2.4zM253 123.8h2.4v1.2h-2.4zM256.6 123.8h1.2v1.2h-1.2zM258.9 123.8h4.8v1.2h-4.8zM264.9 123.8h7.1v1.2h-7.1zM253 125h19v1.2h-19zM253 126.2h19v1.2h-19zM253 127.4h19v1.2h-19zM253 128.6h19v1.2h-19zM253 129.8h19v1.2h-19zM253 131h19v1.2h-19zM253 132.2h19v1.2h-19zM253 133.4h19v1.2h-19zM253 134.6h19v1.2h-19zM253 135.8h19v1.2h-19zM253 137h19v1.2h-19zM253 138.2h19v1.2h-19zM253 139.4h19v1.2h-19zM253 140.6h19v1.2h-19zM253 141.8h19v1.2h-19zM253 143h19v1.2h-19zM253 144.2h19v1.2h-19zM253 145.4h19v1.2h-19zM253 146.6h19v1.2h-19zM253 147.8h19v1.2h-19zM253 149h19v1.2h-19zM253 150.2h19v1.2h-19zM253 151.4h19v1.2h-19zM253 152.6h19v1.2h-19zM253 153.8h19v1.2h-19zM253 155h19v1.2h-19zM253 156.2h19v1.2h-19z" fill="#ffa400"/>
<path d="M282.6 95h1.2v1.2h-1.2zM284.9 95h1.2v1.2h-1.2zM289.6 95h1.2v1.2h-1.2zM283.8 96.2h1.2v1.2h-1.2zM286.1 96.2h1.2v1.2h-1.2zM288.5 96.2h3.5v1.2h-3.5zM283.8 97.4h1.2v1.2h-1.2zM286.1 97.4h5.9v1.2h-5.9zM280.2 98.6h2.4v1.2h-2.4zM283.8 98.6h8.2v1.2h-8.2zM277.9 99.8h1.2v1.2h-1.2zM281.4 99.8h2.4v1.2h-2.4zM284.9 99.8h2.4v1.2h-2.4zM290.8 99.8h1.2v1.2h-1.2zM279.1 101h3.5v1.2h-3.5zM283.8 101h4.7v1.2h-4.7zM289.6 101h2.4v1.2h-2.4zM281.4 102.2h1.2v1.2h-1.2zM283.8 102.2h1.2v1.2h-1.2zM286.1 102.2h1.2v1.2h-1.2zM288.5 102.2h2.4v1.2h-2.4zM274.4 103.4h1.2v1.2h-1.2zM276.7 103.4h1.2v1.2h-1.2zM282.6 103.4h1.2v1.2h-1.2zM284.9 103.4h1.2v1.2h-1.2zM287.3 103.4h1.2v1.2h-1.2zM289.6 103.4h1.2v1.2h-1.2zM274.4 104.6h1.2v1.2h-1.2zM276.7 104.6h2.4v1.2h-2.4zM280.2 104.6h1.2v1.2h-1.2zM283.8 104.6h3.5v1.2h-3.5zM288.5 104.6h1.2v1.2h-1.2zM290.8 104.6h1.2v1.2h-1.2zM274.4 105.8h17.6v1.2h-17.6zM272 107h1.2v1.2h-1.2zM277.9 107h2.4v1.2h-2.4zM281.4 107h10.6v1.2h-10.6zM272 108.2h1.2v1.2h-1.2zM274.4 108.2h1.2v1.2h-1.2zM280.2 108.2h11.8v1.2h-11.8zM272 109.4h2.4v1.2h-2.4zM275.5 109.4h1.2v1.2h-1.2zM277.9 109.4h1.2v1.2h-1.2zM280.2 109.4h11.8v1.2h-11.8zM274.4 110.6h5.9v1.2h-5.9zM281.4 110.6h10.6v1.2h-10.6zM272 111.8h4.7v1.2h-4.7zM277.9 111.8h14.1v1.2h-14.1zM272 113h20v1.2h-20zM272 114.2h7.1v1.2h-7.1zM280.2 114.2h11.8v1.2h-11.8zM272 115.4h4.7v1.2h-4.7zM277.9 115.4h14.1v1.2h-14.1zM273.2 116.6h2.4v1.2h-2.4zM277.9 116.6h14.1v1.2h-14.1zM272 117.8h20v1.2h-20zM273.2 119h1.2v1.2h-1.2zM275.5 119h16.5v1.2h-16.5zM272 120.2h20v1.2h-20zM272 121.4h20v1.2h-20zM273.2 122.6h18.8v1.2h-18.8zM272 123.8h20v1.2h-20zM272 125h20v1.2h-20zM272 126.2h20v1.2h-20zM272 127.4h20v1.2h-20zM272 128.6h20v1.2h-20zM272 129.8h20v1.2h-20zM272 131h20v1.2h-20zM272 132.2h20v1.2h-20zM272 133.4h20v1.2h-20zM272 134.6h20v1.2h-20zM272 135.8h20v1.2h-20zM272 137h20v1.2h-20zM272 138.2h20v1.2h-20zM272 139.4h20v1.2h-20zM272 140.6h20v1.2h-20zM272 141.8h20v1.2h-20zM272 143h20v1.2h-20zM272 144.2h20v1.2h-20zM272 145.4h20v1.2h-20zM272 146.6h20v1.2h-20zM272 147.8h20v1.2h-20zM272 149h20v1.2h-20zM272 150.2h20v1.2h-20zM272 151.4h20v1.2h-20zM272 152.6h20v1.2h-20zM272 153.8h20v1.2h-20zM272 155h20v1.2h-20zM272 156.2h20v1.2h-20z" fill="#2b7ff8"/>
<path d="M292 105.8h1.2v1.2h-1.2zM310.3 109.4h1.2v1.2h-1.2zM292 113h1.2v1.2h-1.2zM299.3 113h1.2v1.2h-1.2zM310.3 114.2h1.2v1.2h-1.2zM293.2 115.4h1.2v1.2h-1.2zM298.1 115.4h2.4v1.2h-2.4zM305.4 115.4h1.2v1.2h-1.2zM292 116.6h1.2v1.2h-1.2zM295.7 116.6h1.2v1.2h-1.2zM303 116.6h2.4v1.2h-2.4zM306.6 116.6h1.2v1.2h-1.2zM309.1 116.6h1.2v1.2h-1.2zM292 117.8h1.2v1.2h-1.2zM295.7 117.8h2.4v1.2h-2.4zM299.3 117.8h1.2v1.2h-1.2zM304.2 117.8h1.2v1.2h-1.2zM310.3 117.8h1.2v1.2h-1.2zM292 119h4.9v1.2h-4.9zM298.1 119h1.2v1.2h-1.2zM300.5 119h1.2v1.2h-1.2zM304.2 119h2.4v1.2h-2.4zM307.8 119h3.7v1.2h-3.7zM292 120.2h1.2v1.2h-1.2zM296.9 120.2h1.2v1.2h-1.2zM300.5 120.2h2.4v1.2h-2.4zM305.4 120.2h3.7v1.2h-3.7zM310.3 120.2h1.2v1.2h-1.2zM294.4 121.4h1.2v1.2h-1.2zM304.2 121.4h2.4v1.2h-2.4zM309.1 121.4h2.4v1.2h-2.4zM293.2 122.6h3.7v1.2h-3.7zM299.3 122.6h9.8v1.2h-9.8zM292 123.8h4.9v1.2h-4.9zM298.1 123.8h1.2v1.2h-1.2zM300.5 123.8h1.2v1.2h-1.2zM303 123.8h3.7v1.2h-3.7zM307.8 123.8h3.7v1.2h-3.7zM292 125h1.2v1.2h-1.2zM294.4 125h1.2v1.2h-1.2zM296.9 125h14.6v1.2h-14.6zM292 126.2h1.2v1.2h-1.2zM294.4 126.2h6.1v1.2h-6.1zM303 126.2h1.2v1.2h-1.2zM305.4 126.2h2.4v1.2h-2.4zM309.1 126.2h1.2v1.2h-1.2zM292 127.4h2.4v1.2h-2.4zM296.9 127.4h7.3v1.2h-7.3zM305.4 127.4h6.1v1.2h-6.1zM292 128.6h4.9v1.2h-4.9zM298.1 128.6h13.4v1.2h-13.4zM292 129.8h19.5v1.2h-19.5zM292 131h19.5v1.2h-19.5zM292 132.2h19.5v1.2h-19.5zM292 133.4h19.5v1.2h-19.5zM292 134.6h19.5v1.2h-19.5zM292 135.8h19.5v1.2h-19.5zM292 137h19.5v1.2h-19.5zM292 138.2h19.5v1.2h-19.5zM292 139.4h19.5v1.2h-19.5zM292 140.6h19.5v1.2h-19.5zM292 141.8h19.5v1.2h-19.5zM292 143h19.5v1.2h-19.5zM292 144.2h19.5v1.2h-19.5zM292 145.4h19.5v1.2h-19.5zM292 146.6h19.5v1.2h-19.5zM292 147.8h19.5v1.2h-19.5zM292 149h19.5v1.2h-19.5zM292 150.2h19.5v1.2h-19.5zM292 151.4h19.5v1.2h-19.5zM292 152.6h19.5v1.2h-19.5zM292 153.8h19.5v1.2h-19.5zM292 155h19.5v1.2h-19.5zM292 156.2h19.5v1.2h-19.5z" fill="#ffa400"/>
<path d="M317.6 98.6h1.2v1.2h-1.2zM313.9 105.8h1.2v1.2h-1.2zM317.6 107h1.2v1.2h-1.2zM315.1 108.2h1.2v1.2h-1.2zM320 109.4h1.2v1.2h-1.2zM312.7 110.6h1.2v1.2h-1.2zM315.1 110.6h1.2v1.2h-1.2zM317.6 110.6h1.2v1.2h-1.2zM313.9 111.8h1.2v1.2h-1.2zM316.4 111.8h1.2v1.2h-1.2zM322.4 111.8h2.4v1.2h-2.4zM311.5 113h4.9v1.2h-4.9zM317.6 113h1.2v1.2h-1.2zM323.6 113h1.2v1.2h-1.2zM315.1 114.2h2.4v1.2h-2.4zM320 114.2h1.2v1.2h-1.2zM323.6 114.2h1.2v1.2h-1.2zM327.3 114.2h1.2v1.2h-1.2zM311.5 115.4h6.1v1.2h-6.1zM318.8 115.4h1.2v1.2h-1.2zM321.2 115.4h2.4v1.2h-2.4zM324.8 115.4h1.2v1.2h-1.2zM328.5 115.4h1.2v1.2h-1.2zM311.5 116.6h2.4v1.2h-2.4zM322.4 116.6h1.2v1.2h-1.2zM328.5 116.6h1.2v1.2h-1.2zM311.5 117.8h3.6v1.2h-3.6zM316.4 117.8h2.4v1.2h-2.4zM321.2 117.8h4.9v1.2h-4.9zM311.5 119h3.6v1.2h-3.6zM316.4 119h2.4v1.2h-2.4zM320 119h7.3v1.2h-7.3zM311.5 120.2h9.7v1.2h-9.7zM323.6 120.2h1.2v1.2h-1.2zM311.5 121.4h8.5v1.2h-8.5zM321.2 121.4h7.3v1.2h-7.3zM311.5 122.6h14.6v1.2h-14.6zM311.5 123.8h17v1.2h-17zM311.5 125h18.2v1.2h-18.2zM311.5 126.2h18.2v1.2h-18.2zM311.5 127.4h18.2v1.2h-18.2zM311.5 128.6h18.2v1.2h-18.2zM311.5 129.8h18.2v1.2h-18.2zM311.5 131h18.2v1.2h-18.2zM311.5 132.2h18.2v1.2h-18.2zM311.5 133.4h18.2v1.2h-18.2zM311.5 134.6h18.2v1.2h-18.2zM311.5 135.8h18.2v1.2h-18.2zM311.5 137h18.2v1.2h-18.2zM311.5 138.2h18.2v1.2h-18.2zM311.5 139.4h18.2v1.2h-18.2zM311.5 140.6h18.2v1.2h-18.2zM311.5 141.8h18.2v1.2h-18.2zM311.5 143h18.2v1.2h-18.2zM311.5 144.2h18.2v1.2h-18.2zM311.5 145.4h18.2v1.2h-18.2zM311.5 146.6h18.2v1.2h-18.2zM311.5 147.8h18.2v1.2h-18.2zM311.5 149h18.2v1.2h-18.2zM311.5 150.2h18.2v1.2h-18.2zM311.5 151.4h18.2v1.2h-18.2zM311.5 152.6h18.2v1.2h-18.2zM311.5 153.8h18.2v1.2h-18.2zM311.5 155h18.2v1.2h-18.2zM311.5 156.2h18.2v1.2h-18.2z" fill="#2b7ff8"/>
<path d="M339.6 105.8h1.2v1.2h-1.2zM339.6 109.4h1.2v1.2h-1.2zM330.9 110.6h1.2v1.2h-1.2zM335.9 110.6h1.2v1.2h-1.2zM339.6 110.6h1.2v1.2h-1.2zM342.1 110.6h1.2v1.2h-1.2zM345.8 110.6h1.2v1.2h-1.2zM330.9 111.8h1.2v1.2h-1.2zM333.4 111.8h1.2v1.2h-1.2zM337.1 111.8h3.7v1.2h-3.7zM342.1 111.8h2.5v1.2h-2.5zM329.7 113h1.2v1.2h-1.2zM333.4 113h3.7v1.2h-3.7zM338.4 113h1.2v1.2h-1.2zM340.8 113h2.5v1.2h-2.5zM344.5 113h2.5v1.2h-2.5zM329.7 114.2h2.5v1.2h-2.5zM333.4 114.2h1.2v1.2h-1.2zM337.1 114.2h7.4v1.2h-7.4zM345.8 114.2h1.2v1.2h-1.2zM334.6 115.4h1.2v1.2h-1.2zM340.8 115.4h1.2v1.2h-1.2zM345.8 115.4h1.2v1.2h-1.2zM330.9 116.6h2.5v1.2h-2.5zM335.9 116.6h3.7v1.2h-3.7zM340.8 116.6h6.2v1.2h-6.2zM333.4 117.8h13.6v1.2h-13.6zM329.7 119h3.7v1.2h-3.7zM334.6 119h3.7v1.2h-3.7zM339.6 119h1.2v1.2h-1.2zM342.1 119h3.7v1.2h-3.7zM330.9 120.2h9.9v1.2h-9.9zM342.1 120.2h2.5v1.2h-2.5zM345.8 120.2h1.2v1.2h-1.2zM332.2 121.4h1.2v1.2h-1.2zM334.6 121.4h2.5v1.2h-2.5zM340.8 121.4h6.2v1.2h-6.2zM329.7 122.6h3.7v1.2h-3.7zM334.6 122.6h9.9v1.2h-9.9zM345.8 122.6h1.2v1.2h-1.2zM329.7 123.8h17.3v1.2h-17.3zM329.7 125h17.3v1.2h-17.3zM329.7 126.2h17.3v1.2h-17.3zM329.7 127.4h17.3v1.2h-17.3zM329.7 128.6h17.3v1.2h-17.3zM329.7 129.8h17.3v1.2h-17.3zM329.7 131h17.3v1.2h-17.3zM329.7 132.2h17.3v1.2h-17.3zM329.7 133.4h17.3v1.2h-17.3zM329.7 134.6h17.3v1.2h-17.3zM329.7 135.8h17.3v1.2h-17.3zM329.7 137h17.3v1.2h-17.3zM329.7 138.2h17.3v1.2h-17.3zM329.7 139.4h17.3v1.2h-17.3zM329.7 140.6h17.3v1.2h-17.3zM329.7 141.8h17.3v1.2h-17.3zM329.7 143h17.3v1.2h-17.3zM329.7 144.2h17.3v1.2h-17.3zM329.7 145.4h17.3v1.2h-17.3zM329.7 146.6h17.3v1.2h-17.3zM329.7 147.8h17.3v1.2h-17.3zM329.7 149h17.3v1.2h-17.3zM329.7 150.2h17.3v1.2h-17.3zM329.7 151.4h17.3v1.2h-17.3zM329.7 152.6h17.3v1.2h-17.3zM329.7 153.8h17.3v1.2h-17.3zM329.7 155h17.3v1.2h-17.3zM329.7 156.2h17.3v1.2h-17.3z" fill="#ffa400"/>
<path d="M356.3 103.4h1.2v1.2h-1.2zM349.3 104.6h1.2v1.2h-1.2zM348.2 105.8h1.2v1.2h-1.2zM348.2 107h2.3v1.2h-2.3zM357.5 107h1.2v1.2h-1.2zM361 108.2h1.2v1.2h-1.2zM349.3 110.6h1.2v1.2h-1.2zM351.7 110.6h1.2v1.2h-1.2zM355.2 110.6h1.2v1.2h-1.2zM365.7 110.6h1.2v1.2h-1.2zM351.7 111.8h1.2v1.2h-1.2zM354 111.8h1.2v1.2h-1.2zM361 111.8h1.2v1.2h-1.2zM354 113h4.7v1.2h-4.7zM365.7 113h2.3v1.2h-2.3zM349.3 114.2h1.2v1.2h-1.2zM351.7 114.2h1.2v1.2h-1.2zM363.3 114.2h1.2v1.2h-1.2zM365.7 114.2h2.3v1.2h-2.3zM348.2 115.4h3.5v1.2h-3.5zM354 115.4h1.2v1.2h-1.2zM357.5 115.4h2.3v1.2h-2.3zM361 115.4h1.2v1.2h-1.2zM363.3 115.4h1.2v1.2h-1.2zM347 116.6h1.2v1.2h-1.2zM349.3 116.6h1.2v1.2h-1.2zM352.8 116.6h1.2v1.2h-1.2zM355.2 116.6h2.3v1.2h-2.3zM358.7 116.6h3.5v1.2h-3.5zM363.3 116.6h1.2v1.2h-1.2zM365.7 116.6h1.2v1.2h-1.2zM347 117.8h3.5v1.2h-3.5zM351.7 117.8h2.3v1.2h-2.3zM355.2 117.8h3.5v1.2h-3.5zM361 117.8h1.2v1.2h-1.2zM363.3 117.8h1.2v1.2h-1.2zM365.7 117.8h1.2v1.2h-1.2zM347 119h2.3v1.2h-2.3zM350.5 119h3.5v1.2h-3.5zM357.5 119h2.3v1.2h-2.3zM361 119h2.3v1.2h-2.3zM364.5 119h1.2v1.2h-1.2zM366.8 119h1.2v1.2h-1.2zM348.2 120.2h1.2v1.2h-1.2zM354 120.2h2.3v1.2h-2.3zM357.5 120.2h10.5v1.2h-10.5zM349.3 121.4h8.2v1.2h-8.2zM363.3 121.4h4.7v1.2h-4.7zM349.3 122.6h4.7v1.2h-4.7zM355.2 122.6h3.5v1.2h-3.5zM359.8 122.6h5.8v1.2h-5.8zM366.8 122.6h1.2v1.2h-1.2zM347 123.8h1.2v1.2h-1.2zM349.3 123.8h2.3v1.2h-2.3zM352.8 123.8h2.3v1.2h-2.3zM356.3 123.8h2.3v1.2h-2.3zM359.8 123.8h1.2v1.2h-1.2zM362.2 123.8h1.2v1.2h-1.2zM364.5 123.8h3.5v1.2h-3.5zM348.2 125h10.5v1.2h-10.5zM359.8 125h4.7v1.2h-4.7zM365.7 125h2.3v1.2h-2.3zM347 126.2h2.3v1.2h-2.3zM350.5 126.2h17.5v1.2h-17.5zM347 127.4h10.5v1.2h-10.5zM358.7 127.4h9.3v1.2h-9.3zM347 128.6h21v1.2h-21zM347 129.8h21v1.2h-21zM347 131h21v1.2h-21zM347 132.2h21v1.2h-21zM347 133.4h21v1.2h-21zM347 134.6h21v1.2h-21zM347 135.8h21v1.2h-21zM347 137h21v1.2h-21zM347 138.2h21v1.2h-21zM347 139.4h21v1.2h-21zM347 140.6h21v1.2h-21zM347 141.8h21v1.2h-21zM347 143h21v1.2h-21zM347 144.2h21v1.2h-21zM347 145.4h21v1.2h-21zM347 146.6h21v1.2h-21zM347 147.8h21v1.2h-21zM347 149h21v1.2h-21zM347 150.2h21v1.2h-21zM347 151.4h21v1.2h-21zM347 152.6h21v1.2h-21zM347 153.8h21v1.2h-21zM347 155h21v1.2h-21zM347 156.2h21v1.2h-21z" fill="#2b7ff8"/>
<path d="M377.6 101h1.2v1.2h-1.2zM369.2 104.6h1.2v1.2h-1.2zM371.6 104.6h1.2v1.2h-1.2zM384.7 104.6h1.2v1.2h-1.2zM376.4 107h1.2v1.2h-1.2zM369.2 108.2h2.4v1.2h-2.4zM375.2 108.2h1.2v1.2h-1.2zM385.9 108.2h1.2v1.2h-1.2zM374 109.4h3.6v1.2h-3.6zM371.6 110.6h1.2v1.2h-1.2zM381.1 110.6h1.2v1.2h-1.2zM379.9 111.8h1.2v1.2h-1.2zM384.7 111.8h1.2v1.2h-1.2zM369.2 113h1.2v1.2h-1.2zM378.7 113h1.2v1.2h-1.2zM381.1 113h2.4v1.2h-2.4zM385.9 113h1.2v1.2h-1.2zM368 114.2h1.2v1.2h-1.2zM374 114.2h1.2v1.2h-1.2zM376.4 114.2h2.4v1.2h-2.4zM382.3 114.2h2.4v1.2h-2.4zM385.9 114.2h2.4v1.2h-2.4zM368 115.4h1.2v1.2h-1.2zM370.4 115.4h2.4v1.2h-2.4zM378.7 115.4h1.2v1.2h-1.2zM383.5 115.4h2.4v1.2h-2.4zM368 116.6h1.2v1.2h-1.2zM370.4 116.6h1.2v1.2h-1.2zM374 116.6h1.2v1.2h-1.2zM377.6 116.6h2.4v1.2h-2.4zM382.3 116.6h1.2v1.2h-1.2zM369.2 117.8h1.2v1.2h-1.2zM377.6 117.8h2.4v1.2h-2.4zM383.5 117.8h1.2v1.2h-1.2zM369.2 119h2.4v1.2h-2.4zM372.8 119h3.6v1.2h-3.6zM377.6 119h1.2v1.2h-1.2zM379.9 119h1.2v1.2h-1.2zM382.3 119h1.2v1.2h-1.2zM385.9 119h2.4v1.2h-2.4zM368 120.2h2.4v1.2h-2.4zM371.6 120.2h3.6v1.2h-3.6zM376.4 120.2h1.2v1.2h-1.2zM379.9 120.2h1.2v1.2h-1.2zM382.3 120.2h6v1.2h-6zM368 121.4h6v1.2h-6zM376.4 121.4h6v1.2h-6zM384.7 121.4h3.6v1.2h-3.6zM368 122.6h1.2v1.2h-1.2zM370.4 122.6h4.8v1.2h-4.8zM379.9 122.6h2.4v1.2h-2.4zM383.5 122.6h2.4v1.2h-2.4zM368 123.8h13.1v1.2h-13.1zM383.5 123.8h2.4v1.2h-2.4zM387.1 123.8h1.2v1.2h-1.2zM368 125h9.6v1.2h-9.6zM378.7 125h7.2v1.2h-7.2zM387.1 125h1.2v1.2h-1.2zM369.2 126.2h9.6v1.2h-9.6zM379.9 126.2h8.4v1.2h-8.4zM368 127.4h20.3v1.2h-20.3zM368 128.6h20.3v1.2h-20.3zM368 129.8h20.3v1.2h-20.3zM368 131h20.3v1.2h-20.3zM368 132.2h20.3v1.2h-20.3zM368 133.4h20.3v1.2h-20.3zM368 134.6h20.3v1.2h-20.3zM368 135.8h20.3v1.2h-20.3zM368 137h20.3v1.2h-20.3zM368 138.2h20.3v1.2h-20.3zM368 139.4h20.3v1.2h-20.3zM368 140.6h20.3v1.2h-20.3zM368 141.8h20.3v1.2h-20.3zM368 143h20.3v1.2h-20.3zM368 144.2h20.3v1.2h-20.3zM368 145.4h20.3v1.2h-20.3zM368 146.6h20.3v1.2h-20.3zM368 147.8h20.3v1.2h-20.3zM368 149h20.3v1.2h-20.3zM368 150.2h20.3v1.2h-20.3zM368 151.4h20.3v1.2h-20.3zM368 152.6h20.3v1.2h-20.3zM368 153.8h20.3v1.2h-20.3zM368 155h20.3v1.2h-20.3zM368 156.2h20.3v1.2h-20.3z" fill="#ffa400"/>
<rect x="166.8" y="101" width="1.5" height="56" fill="#ffa400"/>
<rect x="215.8" y="107" width="1.5" height="50" fill="#2b7ff8"/>
<rect x="248.1" y="102" width="1.5" height="55" fill="#2b7ff8"/>
<rect x="289.6" y="97" width="1.5" height="60" fill="#2b7ff8"/>
<rect x="310.1" y="97" width="1.5" height="60" fill="#ffa400"/>
<rect x="345.6" y="102" width="1.5" height="55" fill="#ffa400"/>
<rect x="291.9" y="97" width="1.5" height="60" fill="#ffa400"/>
<rect x="166.8" y="80.7" width="1.6" height="1.6" fill="#ffa400"/>
<rect x="166.8" y="92.7" width="1.6" height="1.6" fill="#ffa400"/>
<rect x="289.5" y="67.6" width="1.6" height="1.6" fill="#2b7ff8"/>
<rect x="289.5" y="78.2" width="1.6" height="1.6" fill="#2b7ff8"/>
<rect x="289.5" y="82.5" width="1.6" height="1.6" fill="#2b7ff8"/>
<rect x="289.5" y="87.6" width="1.6" height="1.6" fill="#2b7ff8"/>
<rect x="292.2" y="90.5" width="1.6" height="1.6" fill="#ffa400"/>
<rect x="310" y="81.7" width="1.6" height="1.6" fill="#ffa400"/>
<rect x="310" y="85.4" width="1.6" height="1.6" fill="#ffa400"/>
<rect x="310" y="92.4" width="1.6" height="1.6" fill="#ffa400"/>
<rect x="275.5" y="90.5" width="1.6" height="1.6" fill="#2b7ff8"/>
<rect x="345.7" y="91.9" width="1.6" height="1.6" fill="#ffa400"/>
<rect x="247.7" y="92.2" width="1.6" height="1.6" fill="#2b7ff8"/>
<rect x="276.2" y="90.2" width="1.6" height="1.6" fill="#2b7ff8"/>
<rect x="262.2" y="93.7" width="1.6" height="1.6" fill="#ffa400"/>
<rect x="340.2" y="92.2" width="1.6" height="1.6" fill="#2b7ff8"/>
<rect x="98.2" y="96.2" width="1.6" height="1.6" fill="#2b7ff8"/>
<rect x="362.2" y="99.2" width="1.6" height="1.6" fill="#2b7ff8"/>
<rect x="171.7" y="100.2" width="1.6" height="1.6" fill="#2b7ff8"/>
<rect x="189.7" y="101.7" width="1.6" height="1.6" fill="#ffa400"/>
<rect x="344.2" y="90.7" width="1.6" height="1.6" fill="#ffa400"/>
<rect x="326.2" y="93.2" width="1.6" height="1.6" fill="#2b7ff8"/>
<line x1="42" y1="85.2" x2="405" y2="85.2" stroke="#f26a6a" stroke-width="1.1"/>
<line x1="42" y1="97.4" x2="405" y2="97.4" stroke="#4c4cf0" stroke-width="1.1"/>
<line x1="42" y1="37.5" x2="42" y2="157.5" stroke="#7a7a7a" stroke-width="1.2"/>
<text x="39" y="39.4" text-anchor="end" class="sans" font-size="4" fill="#999">10.0</text>
<line x1="40.5" y1="38" x2="42" y2="38" stroke="#999" stroke-width="0.6"/>
<text x="39" y="69.1" text-anchor="end" class="sans" font-size="4" fill="#999">7.5</text>
<line x1="40.5" y1="67.7" x2="42" y2="67.7" stroke="#999" stroke-width="0.6"/>
<text x="39" y="98.9" text-anchor="end" class="sans" font-size="4" fill="#999">5.0</text>
<line x1="40.5" y1="97.5" x2="42" y2="97.5" stroke="#999" stroke-width="0.6"/>
<text x="39" y="128.6" text-anchor="end" class="sans" font-size="4" fill="#999">2.5</text>
<line x1="40.5" y1="127.2" x2="42" y2="127.2" stroke="#999" stroke-width="0.6"/>
<text x="39" y="158.4" text-anchor="end" class="sans" font-size="4" fill="#999">0.0</text>
<line x1="40.5" y1="157" x2="42" y2="157" stroke="#999" stroke-width="0.6"/>
<text x="64.9" y="163.4" text-anchor="middle" class="sans" font-size="3.6" fill="#999">1</text>
<text x="78.8" y="163.4" text-anchor="middle" class="sans" font-size="3.6" fill="#999">2</text>
<text x="94.8" y="163.4" text-anchor="middle" class="sans" font-size="3.6" fill="#999">3</text>
<text x="112.8" y="163.4" text-anchor="middle" class="sans" font-size="3.6" fill="#999">4</text>
<text x="128.7" y="163.4" text-anchor="middle" class="sans" font-size="3.6" fill="#999">5</text>
<text x="143.2" y="163.4" text-anchor="middle" class="sans" font-size="3.6" fill="#999">6</text>
<text x="155.8" y="163.4" text-anchor="middle" class="sans" font-size="3.6" fill="#999">7</text>
<text x="164.5" y="163.4" text-anchor="middle" class="sans" font-size="3.6" fill="#999">8</text>
<text x="175.5" y="163.4" text-anchor="middle" class="sans" font-size="3.6" fill="#999">9</text>
<text x="191" y="163.4" text-anchor="middle" class="sans" font-size="3.6" fill="#999">10</text>
<text x="208.5" y="163.4" text-anchor="middle" class="sans" font-size="3.6" fill="#999">11</text>
<text x="226" y="163.4" text-anchor="middle" class="sans" font-size="3.6" fill="#999">12</text>
<text x="243.5" y="163.4" text-anchor="middle" class="sans" font-size="3.6" fill="#999">13</text>
<text x="262.5" y="163.4" text-anchor="middle" class="sans" font-size="3.6" fill="#999">14</text>
<text x="282" y="163.4" text-anchor="middle" class="sans" font-size="3.6" fill="#999">15</text>
<text x="301.8" y="163.4" text-anchor="middle" class="sans" font-size="3.6" fill="#999">16</text>
<text x="320.6" y="163.4" text-anchor="middle" class="sans" font-size="3.6" fill="#999">17</text>
<text x="338.4" y="163.4" text-anchor="middle" class="sans" font-size="3.6" fill="#999">18</text>
<text x="357.5" y="163.4" text-anchor="middle" class="sans" font-size="3.6" fill="#999">19</text>
<text x="378.1" y="163.4" text-anchor="middle" class="sans" font-size="3.6" fill="#999">20</text>
<text transform="translate(27.0,109.1) rotate(-90)" text-anchor="middle" class="serif" font-weight="normal" font-size="12.2" textLength="42.4" lengthAdjust="spacingAndGlyphs">-log<tspan font-size="5.5" font-weight="normal" dy="1.2">10</tspan><tspan dy="-1.2">(</tspan><tspan font-style="italic">P</tspan>)</text>
<rect x="427.5" y="63.5" width="87" height="95" fill="none" stroke="#b4b4b4" stroke-width="0.7"/>
<line x1="427.9" y1="157.3" x2="514.1" y2="78.7" stroke="#f5a3a3" stroke-width="0.8"/>
<path d="M430.2 154.6 L442.3 142.6 L456.1 129.1 L468.2 118.7 L476.8 108.4" fill="none" stroke="#111" stroke-width="1.45" stroke-linecap="round" stroke-linejoin="round"/>
<path d="M476.8 108.4 L483.7 99.7 L488.9 94.5 L491.5 91.1 L495.8 87.6 L497.5 84.2" fill="none" stroke="#111" stroke-width="1.9" stroke-linecap="round" stroke-linejoin="round"/>
<path d="M430.2 154.6 L442.3 142.6 L452 133" fill="none" stroke="#4a0d0d" stroke-width="1.3"/>
<rect x="498.7" y="80.4" width="1.3" height="1.3" fill="#222"/>
<rect x="500.4" y="79.9" width="1.3" height="1.3" fill="#222"/>
<rect x="501.9" y="79.8" width="1.3" height="1.3" fill="#222"/>
<rect x="503" y="79.9" width="1.3" height="1.3" fill="#222"/>
<rect x="504.7" y="76.2" width="1.3" height="1.3" fill="#222"/>
<rect x="511.6" y="66.2" width="1.3" height="1.3" fill="#222"/>
<text transform="translate(423.9,155.1) rotate(-90)" text-anchor="middle" class="sans" font-size="5.8" fill="#333">0</text>
<line x1="425.5" y1="155.1" x2="427.5" y2="155.1" stroke="#999" stroke-width="0.5"/>
<text transform="translate(423.9,131.1) rotate(-90)" text-anchor="middle" class="sans" font-size="5.8" fill="#333">2</text>
<line x1="425.5" y1="131.1" x2="427.5" y2="131.1" stroke="#999" stroke-width="0.5"/>
<text transform="translate(423.9,106.4) rotate(-90)" text-anchor="middle" class="sans" font-size="5.8" fill="#333">4</text>
<line x1="425.5" y1="106.4" x2="427.5" y2="106.4" stroke="#999" stroke-width="0.5"/>
<text transform="translate(423.9,83.1) rotate(-90)" text-anchor="middle" class="sans" font-size="5.8" fill="#333">6</text>
<line x1="425.5" y1="83.1" x2="427.5" y2="83.1" stroke="#999" stroke-width="0.5"/>
<line x1="431.2" y1="158.5" x2="431.2" y2="160.3" stroke="#aaa" stroke-width="0.5"/>
<line x1="443.8" y1="158.5" x2="443.8" y2="160.3" stroke="#aaa" stroke-width="0.5"/>
<line x1="456.7" y1="158.5" x2="456.7" y2="160.3" stroke="#aaa" stroke-width="0.5"/>
<line x1="470.5" y1="158.5" x2="470.5" y2="160.3" stroke="#aaa" stroke-width="0.5"/>
<line x1="483.5" y1="158.5" x2="483.5" y2="160.3" stroke="#aaa" stroke-width="0.5"/>
<line x1="496.6" y1="158.5" x2="496.6" y2="160.3" stroke="#aaa" stroke-width="0.5"/>
<line x1="509.7" y1="158.5" x2="509.7" y2="160.3" stroke="#aaa" stroke-width="0.5"/>
<text transform="translate(416.4,109.3) rotate(-90)" text-anchor="middle" class="sans" font-size="6.8" textLength="58.9" lengthAdjust="spacingAndGlyphs" fill="#333">Observed  −log<tspan font-size="4" dy="1">10</tspan><tspan dy="-1">(</tspan><tspan font-style="italic">p</tspan>)</text>
<text x="521.8" y="173.8" class="serif" font-weight="bold" font-size="13.8" textLength="16.7" lengthAdjust="spacingAndGlyphs">(a)</text>
<line x1="42" y1="211" x2="518.6" y2="211" stroke="#f47c7c" stroke-width="1.1"/>
<line x1="42" y1="226.6" x2="518.6" y2="226.6" stroke="#4646ee" stroke-width="1.1"/>
<path d="M430.2 235h1.5v1.5h-1.5zM352.2 236.5h1.5v1.5h-1.5zM430.2 236.5h1.5v1.5h-1.5zM433.2 236.5h1.5v1.5h-1.5zM155.9 237.9h1.5v1.5h-1.5zM428.7 237.9h1.5v1.5h-1.5zM431.7 237.9h1.5v1.5h-1.5zM173.9 239.4h1.5v1.5h-1.5zM422.7 239.4h1.5v1.5h-1.5zM430.2 239.4h3v1.5h-3zM421.2 240.9h3v1.5h-3zM425.7 240.9h7.5v1.5h-7.5zM436.2 240.9h1.5v1.5h-1.5zM367.2 242.4h1.5v1.5h-1.5zM418.2 242.4h3v1.5h-3zM424.2 242.4h3v1.5h-3zM428.7 242.4h6v1.5h-6zM391.2 243.9h1.5v1.5h-1.5zM422.7 243.9h9v1.5h-9zM433.2 243.9h1.5v1.5h-1.5zM238.3 245.4h1.5v1.5h-1.5zM287.8 245.4h1.5v1.5h-1.5zM422.7 245.4h4.5v1.5h-4.5zM428.7 245.4h6v1.5h-6zM63 246.9h1.5v1.5h-1.5zM205.4 246.9h1.5v1.5h-1.5zM415.2 246.9h7.5v1.5h-7.5zM424.2 246.9h6v1.5h-6zM431.7 246.9h1.5v1.5h-1.5zM434.7 246.9h1.5v1.5h-1.5zM280.3 248.4h1.5v1.5h-1.5zM343.2 248.4h1.5v1.5h-1.5zM418.2 248.4h4.5v1.5h-4.5zM424.2 248.4h1.5v1.5h-1.5zM427.2 248.4h1.5v1.5h-1.5zM430.2 248.4h4.5v1.5h-4.5zM314.8 249.9h1.5v1.5h-1.5zM416.7 249.9h1.5v1.5h-1.5zM419.7 249.9h7.5v1.5h-7.5zM430.2 249.9h3v1.5h-3zM416.7 251.4h9v1.5h-9zM428.7 251.4h6v1.5h-6zM84 252.8h1.5v1.5h-1.5zM335.7 252.8h1.5v1.5h-1.5zM416.7 252.8h1.5v1.5h-1.5zM419.7 252.8h4.5v1.5h-4.5zM425.7 252.8h6v1.5h-6zM433.2 252.8h1.5v1.5h-1.5zM439.2 252.8h1.5v1.5h-1.5zM67.5 254.3h1.5v1.5h-1.5zM323.8 254.3h1.5v1.5h-1.5zM359.7 254.3h1.5v1.5h-1.5zM419.7 254.3h3v1.5h-3zM424.2 254.3h7.5v1.5h-7.5zM443.6 254.3h1.5v1.5h-1.5zM359.7 255.8h3v1.5h-3zM422.7 255.8h4.5v1.5h-4.5zM428.7 255.8h4.5v1.5h-4.5zM440.7 255.8h6v1.5h-6zM496.1 255.8h1.5v1.5h-1.5zM332.8 257.3h1.5v1.5h-1.5zM368.7 257.3h1.5v1.5h-1.5zM409.2 257.3h1.5v1.5h-1.5zM416.7 257.3h4.5v1.5h-4.5zM424.2 257.3h4.5v1.5h-4.5zM431.7 257.3h1.5v1.5h-1.5zM436.2 257.3h1.5v1.5h-1.5zM440.7 257.3h1.5v1.5h-1.5zM443.6 257.3h1.5v1.5h-1.5zM224.9 258.8h1.5v1.5h-1.5zM359.7 258.8h1.5v1.5h-1.5zM380.7 258.8h1.5v1.5h-1.5zM394.2 258.8h1.5v1.5h-1.5zM400.2 258.8h1.5v1.5h-1.5zM419.7 258.8h4.5v1.5h-4.5zM427.2 258.8h1.5v1.5h-1.5zM431.7 258.8h1.5v1.5h-1.5zM437.7 258.8h3v1.5h-3zM442.2 258.8h4.5v1.5h-4.5zM490.1 258.8h1.5v1.5h-1.5zM320.8 260.3h1.5v1.5h-1.5zM335.7 260.3h1.5v1.5h-1.5zM350.7 260.3h1.5v1.5h-1.5zM359.7 260.3h1.5v1.5h-1.5zM392.7 260.3h1.5v1.5h-1.5zM412.2 260.3h1.5v1.5h-1.5zM418.2 260.3h1.5v1.5h-1.5zM421.2 260.3h4.5v1.5h-4.5zM427.2 260.3h3v1.5h-3zM436.2 260.3h1.5v1.5h-1.5zM439.2 260.3h3v1.5h-3zM443.6 260.3h6v1.5h-6zM490.1 260.3h1.5v1.5h-1.5zM105 261.8h1.5v1.5h-1.5zM281.8 261.8h1.5v1.5h-1.5zM308.8 261.8h1.5v1.5h-1.5zM314.8 261.8h1.5v1.5h-1.5zM320.8 261.8h1.5v1.5h-1.5zM328.3 261.8h1.5v1.5h-1.5zM337.2 261.8h1.5v1.5h-1.5zM383.7 261.8h1.5v1.5h-1.5zM403.2 261.8h1.5v1.5h-1.5zM422.7 261.8h3v1.5h-3zM427.2 261.8h1.5v1.5h-1.5zM437.7 261.8h1.5v1.5h-1.5zM440.7 261.8h1.5v1.5h-1.5zM445.1 261.8h1.5v1.5h-1.5zM448.1 261.8h1.5v1.5h-1.5zM490.1 261.8h3v1.5h-3zM496.1 261.8h1.5v1.5h-1.5zM63 263.3h1.5v1.5h-1.5zM142.4 263.3h1.5v1.5h-1.5zM313.3 263.3h1.5v1.5h-1.5zM319.3 263.3h1.5v1.5h-1.5zM329.8 263.3h1.5v1.5h-1.5zM334.3 263.3h1.5v1.5h-1.5zM346.2 263.3h1.5v1.5h-1.5zM350.7 263.3h1.5v1.5h-1.5zM353.7 263.3h1.5v1.5h-1.5zM356.7 263.3h1.5v1.5h-1.5zM365.7 263.3h1.5v1.5h-1.5zM415.2 263.3h1.5v1.5h-1.5zM437.7 263.3h3v1.5h-3zM445.1 263.3h1.5v1.5h-1.5zM448.1 263.3h1.5v1.5h-1.5zM458.6 263.3h1.5v1.5h-1.5zM464.6 263.3h1.5v1.5h-1.5zM490.1 263.3h3v1.5h-3zM70.5 264.8h1.5v1.5h-1.5zM283.3 264.8h1.5v1.5h-1.5zM290.8 264.8h3v1.5h-3zM313.3 264.8h1.5v1.5h-1.5zM320.8 264.8h1.5v1.5h-1.5zM328.3 264.8h3v1.5h-3zM350.7 264.8h1.5v1.5h-1.5zM356.7 264.8h1.5v1.5h-1.5zM359.7 264.8h1.5v1.5h-1.5zM365.7 264.8h1.5v1.5h-1.5zM368.7 264.8h1.5v1.5h-1.5zM386.7 264.8h1.5v1.5h-1.5zM391.2 264.8h1.5v1.5h-1.5zM409.2 264.8h1.5v1.5h-1.5zM412.2 264.8h3v1.5h-3zM433.2 264.8h1.5v1.5h-1.5zM436.2 264.8h9v1.5h-9zM446.6 264.8h3v1.5h-3zM490.1 264.8h3v1.5h-3zM84 266.3h1.5v1.5h-1.5zM122.9 266.3h1.5v1.5h-1.5zM275.8 266.3h1.5v1.5h-1.5zM313.3 266.3h6v1.5h-6zM320.8 266.3h39v1.5h-39zM361.2 266.3h24v1.5h-24zM395.7 266.3h1.5v1.5h-1.5zM404.7 266.3h1.5v1.5h-1.5zM407.7 266.3h4.5v1.5h-4.5zM415.2 266.3h1.5v1.5h-1.5zM425.7 266.3h1.5v1.5h-1.5zM442.2 266.3h3v1.5h-3zM446.6 266.3h1.5v1.5h-1.5zM454.1 266.3h1.5v1.5h-1.5zM469.1 266.3h1.5v1.5h-1.5zM490.1 266.3h3v1.5h-3zM494.6 266.3h1.5v1.5h-1.5zM82.5 267.7h1.5v1.5h-1.5zM119.9 267.7h1.5v1.5h-1.5zM131.9 267.7h1.5v1.5h-1.5zM241.3 267.7h1.5v1.5h-1.5zM313.3 267.7h3v1.5h-3zM317.8 267.7h1.5v1.5h-1.5zM320.8 267.7h1.5v1.5h-1.5zM325.3 267.7h1.5v1.5h-1.5zM332.8 267.7h6v1.5h-6zM344.7 267.7h10.5v1.5h-10.5zM356.7 267.7h1.5v1.5h-1.5zM362.7 267.7h6v1.5h-6zM370.2 267.7h1.5v1.5h-1.5zM373.2 267.7h1.5v1.5h-1.5zM379.2 267.7h3v1.5h-3zM385.2 267.7h10.5v1.5h-10.5zM398.7 267.7h3v1.5h-3zM403.2 267.7h7.5v1.5h-7.5zM412.2 267.7h4.5v1.5h-4.5zM425.7 267.7h1.5v1.5h-1.5zM439.2 267.7h1.5v1.5h-1.5zM443.6 267.7h4.5v1.5h-4.5zM452.6 267.7h1.5v1.5h-1.5zM455.6 267.7h1.5v1.5h-1.5zM491.6 267.7h1.5v1.5h-1.5zM93 269.2h1.5v1.5h-1.5zM160.4 269.2h1.5v1.5h-1.5zM313.3 269.2h4.5v1.5h-4.5zM319.3 269.2h3v1.5h-3zM323.8 269.2h7.5v1.5h-7.5zM332.8 269.2h1.5v1.5h-1.5zM335.7 269.2h1.5v1.5h-1.5zM338.7 269.2h3v1.5h-3zM343.2 269.2h1.5v1.5h-1.5zM346.2 269.2h7.5v1.5h-7.5zM355.2 269.2h1.5v1.5h-1.5zM359.7 269.2h3v1.5h-3zM364.2 269.2h4.5v1.5h-4.5zM371.7 269.2h1.5v1.5h-1.5zM380.7 269.2h1.5v1.5h-1.5zM383.7 269.2h1.5v1.5h-1.5zM386.7 269.2h1.5v1.5h-1.5zM389.7 269.2h6v1.5h-6zM397.2 269.2h1.5v1.5h-1.5zM400.2 269.2h3v1.5h-3zM404.7 269.2h1.5v1.5h-1.5zM407.7 269.2h1.5v1.5h-1.5zM410.7 269.2h6v1.5h-6zM439.2 269.2h3v1.5h-3zM443.6 269.2h1.5v1.5h-1.5zM448.1 269.2h1.5v1.5h-1.5zM455.6 269.2h1.5v1.5h-1.5zM470.6 269.2h1.5v1.5h-1.5zM485.6 269.2h1.5v1.5h-1.5zM490.1 269.2h3v1.5h-3zM494.6 269.2h3v1.5h-3zM69 270.7h1.5v1.5h-1.5zM75 270.7h1.5v1.5h-1.5zM82.5 270.7h1.5v1.5h-1.5zM118.4 270.7h1.5v1.5h-1.5zM121.4 270.7h1.5v1.5h-1.5zM196.4 270.7h1.5v1.5h-1.5zM218.9 270.7h1.5v1.5h-1.5zM241.3 270.7h1.5v1.5h-1.5zM313.3 270.7h1.5v1.5h-1.5zM317.8 270.7h3v1.5h-3zM322.3 270.7h1.5v1.5h-1.5zM325.3 270.7h3v1.5h-3zM329.8 270.7h6v1.5h-6zM340.2 270.7h1.5v1.5h-1.5zM343.2 270.7h7.5v1.5h-7.5zM353.7 270.7h7.5v1.5h-7.5zM362.7 270.7h3v1.5h-3zM367.2 270.7h3v1.5h-3zM371.7 270.7h7.5v1.5h-7.5zM380.7 270.7h3v1.5h-3zM386.7 270.7h3v1.5h-3zM391.2 270.7h3v1.5h-3zM395.7 270.7h1.5v1.5h-1.5zM398.7 270.7h3v1.5h-3zM403.2 270.7h1.5v1.5h-1.5zM407.7 270.7h7.5v1.5h-7.5zM416.7 270.7h3v1.5h-3zM424.2 270.7h3v1.5h-3zM430.2 270.7h3v1.5h-3zM443.6 270.7h1.5v1.5h-1.5zM448.1 270.7h1.5v1.5h-1.5zM451.1 270.7h1.5v1.5h-1.5zM484.1 270.7h1.5v1.5h-1.5zM487.1 270.7h1.5v1.5h-1.5zM490.1 270.7h1.5v1.5h-1.5zM496.1 270.7h1.5v1.5h-1.5zM70.5 272.2h1.5v1.5h-1.5zM111 272.2h1.5v1.5h-1.5zM160.4 272.2h1.5v1.5h-1.5zM203.9 272.2h1.5v1.5h-1.5zM271.3 272.2h1.5v1.5h-1.5zM311.8 272.2h4.5v1.5h-4.5zM317.8 272.2h4.5v1.5h-4.5zM325.3 272.2h4.5v1.5h-4.5zM331.3 272.2h1.5v1.5h-1.5zM335.7 272.2h4.5v1.5h-4.5zM341.7 272.2h7.5v1.5h-7.5zM352.2 272.2h4.5v1.5h-4.5zM359.7 272.2h7.5v1.5h-7.5zM371.7 272.2h10.5v1.5h-10.5zM385.2 272.2h4.5v1.5h-4.5zM394.2 272.2h1.5v1.5h-1.5zM397.2 272.2h13.5v1.5h-13.5zM412.2 272.2h3v1.5h-3zM416.7 272.2h10.5v1.5h-10.5zM445.1 272.2h1.5v1.5h-1.5zM449.6 272.2h1.5v1.5h-1.5zM452.6 272.2h1.5v1.5h-1.5zM491.6 272.2h4.5v1.5h-4.5zM64.5 273.7h1.5v1.5h-1.5zM67.5 273.7h7.5v1.5h-7.5zM78 273.7h1.5v1.5h-1.5zM82.5 273.7h3v1.5h-3zM88.5 273.7h1.5v1.5h-1.5zM106.5 273.7h1.5v1.5h-1.5zM125.9 273.7h1.5v1.5h-1.5zM202.4 273.7h3v1.5h-3zM212.9 273.7h1.5v1.5h-1.5zM220.4 273.7h1.5v1.5h-1.5zM227.8 273.7h1.5v1.5h-1.5zM238.3 273.7h1.5v1.5h-1.5zM260.8 273.7h1.5v1.5h-1.5zM280.3 273.7h1.5v1.5h-1.5zM311.8 273.7h1.5v1.5h-1.5zM314.8 273.7h1.5v1.5h-1.5zM317.8 273.7h3v1.5h-3zM325.3 273.7h7.5v1.5h-7.5zM334.3 273.7h6v1.5h-6zM343.2 273.7h3v1.5h-3zM347.7 273.7h3v1.5h-3zM352.2 273.7h12v1.5h-12zM365.7 273.7h1.5v1.5h-1.5zM370.2 273.7h4.5v1.5h-4.5zM376.2 273.7h4.5v1.5h-4.5zM382.2 273.7h7.5v1.5h-7.5zM391.2 273.7h1.5v1.5h-1.5zM394.2 273.7h3v1.5h-3zM400.2 273.7h1.5v1.5h-1.5zM403.2 273.7h1.5v1.5h-1.5zM409.2 273.7h15v1.5h-15zM425.7 273.7h1.5v1.5h-1.5zM428.7 273.7h1.5v1.5h-1.5zM433.2 273.7h1.5v1.5h-1.5zM436.2 273.7h1.5v1.5h-1.5zM446.6 273.7h4.5v1.5h-4.5zM452.6 273.7h1.5v1.5h-1.5zM455.6 273.7h1.5v1.5h-1.5zM491.6 273.7h3v1.5h-3zM63 275.2h3v1.5h-3zM67.5 275.2h6v1.5h-6zM79.5 275.2h6v1.5h-6zM97.5 275.2h1.5v1.5h-1.5zM115.5 275.2h1.5v1.5h-1.5zM158.9 275.2h1.5v1.5h-1.5zM169.4 275.2h1.5v1.5h-1.5zM173.9 275.2h1.5v1.5h-1.5zM181.4 275.2h1.5v1.5h-1.5zM190.4 275.2h1.5v1.5h-1.5zM217.4 275.2h1.5v1.5h-1.5zM287.8 275.2h1.5v1.5h-1.5zM295.3 275.2h1.5v1.5h-1.5zM304.3 275.2h1.5v1.5h-1.5zM311.8 275.2h15v1.5h-15zM329.8 275.2h1.5v1.5h-1.5zM334.3 275.2h1.5v1.5h-1.5zM337.2 275.2h3v1.5h-3zM341.7 275.2h4.5v1.5h-4.5zM347.7 275.2h3v1.5h-3zM353.7 275.2h3v1.5h-3zM359.7 275.2h3v1.5h-3zM365.7 275.2h6v1.5h-6zM374.7 275.2h4.5v1.5h-4.5zM385.2 275.2h3v1.5h-3zM391.2 275.2h4.5v1.5h-4.5zM397.2 275.2h4.5v1.5h-4.5zM403.2 275.2h9v1.5h-9zM419.7 275.2h1.5v1.5h-1.5zM422.7 275.2h1.5v1.5h-1.5zM428.7 275.2h4.5v1.5h-4.5zM437.7 275.2h1.5v1.5h-1.5zM452.6 275.2h1.5v1.5h-1.5zM455.6 275.2h1.5v1.5h-1.5zM464.6 275.2h1.5v1.5h-1.5zM475.1 275.2h1.5v1.5h-1.5zM490.1 275.2h3v1.5h-3zM494.6 275.2h3v1.5h-3zM63 276.7h4.5v1.5h-4.5zM69 276.7h7.5v1.5h-7.5zM78 276.7h3v1.5h-3zM84 276.7h3v1.5h-3zM91.5 276.7h3v1.5h-3zM106.5 276.7h1.5v1.5h-1.5zM143.9 276.7h1.5v1.5h-1.5zM149.9 276.7h1.5v1.5h-1.5zM173.9 276.7h1.5v1.5h-1.5zM233.8 276.7h1.5v1.5h-1.5zM257.8 276.7h1.5v1.5h-1.5zM260.8 276.7h3v1.5h-3zM283.3 276.7h1.5v1.5h-1.5zM292.3 276.7h1.5v1.5h-1.5zM313.3 276.7h3v1.5h-3zM319.3 276.7h1.5v1.5h-1.5zM322.3 276.7h6v1.5h-6zM329.8 276.7h7.5v1.5h-7.5zM338.7 276.7h6v1.5h-6zM346.2 276.7h1.5v1.5h-1.5zM349.2 276.7h1.5v1.5h-1.5zM353.7 276.7h1.5v1.5h-1.5zM356.7 276.7h1.5v1.5h-1.5zM359.7 276.7h1.5v1.5h-1.5zM364.2 276.7h6v1.5h-6zM371.7 276.7h1.5v1.5h-1.5zM377.7 276.7h1.5v1.5h-1.5zM385.2 276.7h4.5v1.5h-4.5zM392.7 276.7h1.5v1.5h-1.5zM397.2 276.7h3v1.5h-3zM401.7 276.7h1.5v1.5h-1.5zM407.7 276.7h3v1.5h-3zM413.7 276.7h1.5v1.5h-1.5zM419.7 276.7h13.5v1.5h-13.5zM439.2 276.7h1.5v1.5h-1.5zM449.6 276.7h3v1.5h-3zM454.1 276.7h1.5v1.5h-1.5zM472.1 276.7h1.5v1.5h-1.5zM491.6 276.7h3v1.5h-3zM496.1 276.7h1.5v1.5h-1.5zM63 278.2h1.5v1.5h-1.5zM66 278.2h6v1.5h-6zM75 278.2h1.5v1.5h-1.5zM78 278.2h12v1.5h-12zM91.5 278.2h1.5v1.5h-1.5zM96 278.2h1.5v1.5h-1.5zM102 278.2h1.5v1.5h-1.5zM109.5 278.2h10.5v1.5h-10.5zM121.4 278.2h1.5v1.5h-1.5zM124.4 278.2h1.5v1.5h-1.5zM137.9 278.2h1.5v1.5h-1.5zM157.4 278.2h1.5v1.5h-1.5zM181.4 278.2h1.5v1.5h-1.5zM185.9 278.2h1.5v1.5h-1.5zM197.9 278.2h1.5v1.5h-1.5zM200.9 278.2h1.5v1.5h-1.5zM205.4 278.2h1.5v1.5h-1.5zM215.9 278.2h1.5v1.5h-1.5zM218.9 278.2h1.5v1.5h-1.5zM233.8 278.2h1.5v1.5h-1.5zM239.8 278.2h1.5v1.5h-1.5zM244.3 278.2h1.5v1.5h-1.5zM253.3 278.2h1.5v1.5h-1.5zM266.8 278.2h1.5v1.5h-1.5zM272.8 278.2h1.5v1.5h-1.5zM275.8 278.2h1.5v1.5h-1.5zM280.3 278.2h1.5v1.5h-1.5zM292.3 278.2h1.5v1.5h-1.5zM302.8 278.2h1.5v1.5h-1.5zM313.3 278.2h3v1.5h-3zM317.8 278.2h3v1.5h-3zM322.3 278.2h3v1.5h-3zM331.3 278.2h1.5v1.5h-1.5zM337.2 278.2h4.5v1.5h-4.5zM344.7 278.2h1.5v1.5h-1.5zM350.7 278.2h3v1.5h-3zM355.2 278.2h3v1.5h-3zM359.7 278.2h1.5v1.5h-1.5zM364.2 278.2h3v1.5h-3zM368.7 278.2h1.5v1.5h-1.5zM371.7 278.2h1.5v1.5h-1.5zM377.7 278.2h1.5v1.5h-1.5zM380.7 278.2h3v1.5h-3zM385.2 278.2h10.5v1.5h-10.5zM397.2 278.2h10.5v1.5h-10.5zM409.2 278.2h3v1.5h-3zM413.7 278.2h6v1.5h-6zM422.7 278.2h1.5v1.5h-1.5zM427.2 278.2h1.5v1.5h-1.5zM430.2 278.2h6v1.5h-6zM439.2 278.2h1.5v1.5h-1.5zM448.1 278.2h3v1.5h-3zM452.6 278.2h1.5v1.5h-1.5zM455.6 278.2h1.5v1.5h-1.5zM461.6 278.2h1.5v1.5h-1.5zM469.1 278.2h3v1.5h-3zM494.6 278.2h1.5v1.5h-1.5zM63 279.7h4.5v1.5h-4.5zM69 279.7h18v1.5h-18zM97.5 279.7h1.5v1.5h-1.5zM105 279.7h1.5v1.5h-1.5zM109.5 279.7h13.5v1.5h-13.5zM128.9 279.7h1.5v1.5h-1.5zM134.9 279.7h1.5v1.5h-1.5zM142.4 279.7h4.5v1.5h-4.5zM169.4 279.7h1.5v1.5h-1.5zM182.9 279.7h1.5v1.5h-1.5zM185.9 279.7h3v1.5h-3zM191.9 279.7h3v1.5h-3zM197.9 279.7h1.5v1.5h-1.5zM205.4 279.7h3v1.5h-3zM217.4 279.7h1.5v1.5h-1.5zM221.9 279.7h1.5v1.5h-1.5zM227.8 279.7h1.5v1.5h-1.5zM230.8 279.7h1.5v1.5h-1.5zM236.8 279.7h1.5v1.5h-1.5zM245.8 279.7h1.5v1.5h-1.5zM271.3 279.7h1.5v1.5h-1.5zM283.3 279.7h1.5v1.5h-1.5zM296.8 279.7h1.5v1.5h-1.5zM301.3 279.7h1.5v1.5h-1.5zM313.3 279.7h1.5v1.5h-1.5zM317.8 279.7h4.5v1.5h-4.5zM323.8 279.7h6v1.5h-6zM331.3 279.7h19.5v1.5h-19.5zM353.7 279.7h1.5v1.5h-1.5zM356.7 279.7h9v1.5h-9zM370.2 279.7h1.5v1.5h-1.5zM373.2 279.7h1.5v1.5h-1.5zM377.7 279.7h1.5v1.5h-1.5zM380.7 279.7h9v1.5h-9zM391.2 279.7h1.5v1.5h-1.5zM395.7 279.7h3v1.5h-3zM400.2 279.7h1.5v1.5h-1.5zM403.2 279.7h1.5v1.5h-1.5zM407.7 279.7h1.5v1.5h-1.5zM410.7 279.7h4.5v1.5h-4.5zM419.7 279.7h1.5v1.5h-1.5zM422.7 279.7h3v1.5h-3zM427.2 279.7h4.5v1.5h-4.5zM433.2 279.7h9v1.5h-9zM443.6 279.7h1.5v1.5h-1.5zM455.6 279.7h1.5v1.5h-1.5zM463.1 279.7h1.5v1.5h-1.5zM466.1 279.7h1.5v1.5h-1.5zM470.6 279.7h1.5v1.5h-1.5zM490.1 279.7h6v1.5h-6zM63 281.2h15v1.5h-15zM79.5 281.2h6v1.5h-6zM87 281.2h9v1.5h-9zM97.5 281.2h1.5v1.5h-1.5zM100.5 281.2h3v1.5h-3zM105 281.2h1.5v1.5h-1.5zM108 281.2h4.5v1.5h-4.5zM114 281.2h7.5v1.5h-7.5zM122.9 281.2h7.5v1.5h-7.5zM139.4 281.2h3v1.5h-3zM151.4 281.2h1.5v1.5h-1.5zM155.9 281.2h1.5v1.5h-1.5zM173.9 281.2h1.5v1.5h-1.5zM176.9 281.2h1.5v1.5h-1.5zM184.4 281.2h3v1.5h-3zM190.4 281.2h3v1.5h-3zM199.4 281.2h3v1.5h-3zM205.4 281.2h1.5v1.5h-1.5zM212.9 281.2h1.5v1.5h-1.5zM236.8 281.2h1.5v1.5h-1.5zM241.3 281.2h3v1.5h-3zM250.3 281.2h1.5v1.5h-1.5zM260.8 281.2h1.5v1.5h-1.5zM265.3 281.2h1.5v1.5h-1.5zM271.3 281.2h1.5v1.5h-1.5zM275.8 281.2h1.5v1.5h-1.5zM281.8 281.2h1.5v1.5h-1.5zM286.3 281.2h1.5v1.5h-1.5zM290.8 281.2h3v1.5h-3zM298.3 281.2h3v1.5h-3zM313.3 281.2h3v1.5h-3zM319.3 281.2h7.5v1.5h-7.5zM328.3 281.2h4.5v1.5h-4.5zM334.3 281.2h6v1.5h-6zM341.7 281.2h1.5v1.5h-1.5zM346.2 281.2h6v1.5h-6zM356.7 281.2h1.5v1.5h-1.5zM359.7 281.2h3v1.5h-3zM368.7 281.2h6v1.5h-6zM380.7 281.2h12v1.5h-12zM394.2 281.2h4.5v1.5h-4.5zM400.2 281.2h7.5v1.5h-7.5zM410.7 281.2h1.5v1.5h-1.5zM413.7 281.2h16.5v1.5h-16.5zM431.7 281.2h3v1.5h-3zM436.2 281.2h6v1.5h-6zM443.6 281.2h1.5v1.5h-1.5zM458.6 281.2h1.5v1.5h-1.5zM466.1 281.2h1.5v1.5h-1.5zM475.1 281.2h1.5v1.5h-1.5zM482.6 281.2h3v1.5h-3zM491.6 281.2h3v1.5h-3zM496.1 281.2h1.5v1.5h-1.5zM63 282.6h15v1.5h-15zM79.5 282.6h12v1.5h-12zM93 282.6h4.5v1.5h-4.5zM99 282.6h3v1.5h-3zM106.5 282.6h1.5v1.5h-1.5zM109.5 282.6h1.5v1.5h-1.5zM114 282.6h3v1.5h-3zM118.4 282.6h6v1.5h-6zM127.4 282.6h27v1.5h-27zM155.9 282.6h25.5v1.5h-25.5zM182.9 282.6h31.5v1.5h-31.5zM215.9 282.6h61.4v1.5h-61.4zM278.8 282.6h4.5v1.5h-4.5zM286.3 282.6h1.5v1.5h-1.5zM289.3 282.6h9v1.5h-9zM302.8 282.6h3v1.5h-3zM308.8 282.6h6v1.5h-6zM322.3 282.6h3v1.5h-3zM328.3 282.6h1.5v1.5h-1.5zM331.3 282.6h3v1.5h-3zM335.7 282.6h3v1.5h-3zM340.2 282.6h1.5v1.5h-1.5zM344.7 282.6h3v1.5h-3zM349.2 282.6h1.5v1.5h-1.5zM353.7 282.6h1.5v1.5h-1.5zM356.7 282.6h4.5v1.5h-4.5zM362.7 282.6h1.5v1.5h-1.5zM367.2 282.6h1.5v1.5h-1.5zM370.2 282.6h7.5v1.5h-7.5zM379.2 282.6h4.5v1.5h-4.5zM386.7 282.6h4.5v1.5h-4.5zM395.7 282.6h3v1.5h-3zM400.2 282.6h7.5v1.5h-7.5zM409.2 282.6h13.5v1.5h-13.5zM427.2 282.6h6v1.5h-6zM434.7 282.6h4.5v1.5h-4.5zM440.7 282.6h6v1.5h-6zM449.6 282.6h4.5v1.5h-4.5zM458.6 282.6h1.5v1.5h-1.5zM461.6 282.6h3v1.5h-3zM467.6 282.6h1.5v1.5h-1.5zM473.6 282.6h1.5v1.5h-1.5zM481.1 282.6h1.5v1.5h-1.5zM484.1 282.6h1.5v1.5h-1.5zM487.1 282.6h1.5v1.5h-1.5zM491.6 282.6h6v1.5h-6zM63 284.1h13.5v1.5h-13.5zM78 284.1h10.5v1.5h-10.5zM91.5 284.1h3v1.5h-3zM96 284.1h4.5v1.5h-4.5zM103.5 284.1h1.5v1.5h-1.5zM106.5 284.1h3v1.5h-3zM111 284.1h9v1.5h-9zM122.9 284.1h13.5v1.5h-13.5zM137.9 284.1h1.5v1.5h-1.5zM140.9 284.1h1.5v1.5h-1.5zM143.9 284.1h4.5v1.5h-4.5zM149.9 284.1h16.5v1.5h-16.5zM167.9 284.1h3v1.5h-3zM172.4 284.1h1.5v1.5h-1.5zM176.9 284.1h4.5v1.5h-4.5zM184.4 284.1h4.5v1.5h-4.5zM190.4 284.1h4.5v1.5h-4.5zM196.4 284.1h3v1.5h-3zM200.9 284.1h1.5v1.5h-1.5zM203.9 284.1h9v1.5h-9zM214.4 284.1h1.5v1.5h-1.5zM217.4 284.1h1.5v1.5h-1.5zM220.4 284.1h1.5v1.5h-1.5zM224.9 284.1h7.5v1.5h-7.5zM233.8 284.1h6v1.5h-6zM242.8 284.1h1.5v1.5h-1.5zM245.8 284.1h4.5v1.5h-4.5zM251.8 284.1h3v1.5h-3zM256.3 284.1h4.5v1.5h-4.5zM263.8 284.1h6v1.5h-6zM274.3 284.1h3v1.5h-3zM278.8 284.1h1.5v1.5h-1.5zM283.3 284.1h6v1.5h-6zM290.8 284.1h1.5v1.5h-1.5zM293.8 284.1h7.5v1.5h-7.5zM302.8 284.1h3v1.5h-3zM307.3 284.1h3v1.5h-3zM311.8 284.1h1.5v1.5h-1.5zM316.3 284.1h1.5v1.5h-1.5zM319.3 284.1h7.5v1.5h-7.5zM328.3 284.1h3v1.5h-3zM332.8 284.1h3v1.5h-3zM337.2 284.1h7.5v1.5h-7.5zM347.7 284.1h1.5v1.5h-1.5zM350.7 284.1h6v1.5h-6zM364.2 284.1h1.5v1.5h-1.5zM368.7 284.1h3v1.5h-3zM373.2 284.1h1.5v1.5h-1.5zM379.2 284.1h1.5v1.5h-1.5zM385.2 284.1h1.5v1.5h-1.5zM388.2 284.1h1.5v1.5h-1.5zM394.2 284.1h3v1.5h-3zM400.2 284.1h4.5v1.5h-4.5zM406.2 284.1h1.5v1.5h-1.5zM409.2 284.1h1.5v1.5h-1.5zM412.2 284.1h1.5v1.5h-1.5zM415.2 284.1h1.5v1.5h-1.5zM419.7 284.1h1.5v1.5h-1.5zM422.7 284.1h18v1.5h-18zM442.2 284.1h4.5v1.5h-4.5zM448.1 284.1h1.5v1.5h-1.5zM452.6 284.1h3v1.5h-3zM463.1 284.1h3v1.5h-3zM470.6 284.1h1.5v1.5h-1.5zM476.6 284.1h1.5v1.5h-1.5zM482.6 284.1h1.5v1.5h-1.5zM488.6 284.1h1.5v1.5h-1.5zM493.1 284.1h4.5v1.5h-4.5zM63 285.6h28.5v1.5h-28.5zM93 285.6h6v1.5h-6zM100.5 285.6h3v1.5h-3zM105 285.6h4.5v1.5h-4.5zM111 285.6h15v1.5h-15zM127.4 285.6h3v1.5h-3zM131.9 285.6h1.5v1.5h-1.5zM134.9 285.6h1.5v1.5h-1.5zM137.9 285.6h3v1.5h-3zM142.4 285.6h3v1.5h-3zM149.9 285.6h1.5v1.5h-1.5zM154.4 285.6h7.5v1.5h-7.5zM163.4 285.6h1.5v1.5h-1.5zM166.4 285.6h4.5v1.5h-4.5zM173.9 285.6h7.5v1.5h-7.5zM182.9 285.6h10.5v1.5h-10.5zM194.9 285.6h7.5v1.5h-7.5zM203.9 285.6h3v1.5h-3zM208.4 285.6h7.5v1.5h-7.5zM218.9 285.6h4.5v1.5h-4.5zM224.9 285.6h3v1.5h-3zM229.3 285.6h10.5v1.5h-10.5zM244.3 285.6h6v1.5h-6zM254.8 285.6h3v1.5h-3zM259.3 285.6h4.5v1.5h-4.5zM265.3 285.6h10.5v1.5h-10.5zM283.3 285.6h12v1.5h-12zM298.3 285.6h1.5v1.5h-1.5zM301.3 285.6h9v1.5h-9zM311.8 285.6h1.5v1.5h-1.5zM317.8 285.6h3v1.5h-3zM325.3 285.6h1.5v1.5h-1.5zM328.3 285.6h4.5v1.5h-4.5zM335.7 285.6h4.5v1.5h-4.5zM343.2 285.6h3v1.5h-3zM350.7 285.6h1.5v1.5h-1.5zM353.7 285.6h3v1.5h-3zM358.2 285.6h3v1.5h-3zM362.7 285.6h1.5v1.5h-1.5zM365.7 285.6h1.5v1.5h-1.5zM368.7 285.6h9v1.5h-9zM379.2 285.6h16.5v1.5h-16.5zM398.7 285.6h4.5v1.5h-4.5zM404.7 285.6h3v1.5h-3zM410.7 285.6h1.5v1.5h-1.5zM413.7 285.6h1.5v1.5h-1.5zM416.7 285.6h1.5v1.5h-1.5zM419.7 285.6h6v1.5h-6zM427.2 285.6h1.5v1.5h-1.5zM430.2 285.6h4.5v1.5h-4.5zM436.2 285.6h3v1.5h-3zM440.7 285.6h1.5v1.5h-1.5zM443.6 285.6h4.5v1.5h-4.5zM449.6 285.6h6v1.5h-6zM457.1 285.6h7.5v1.5h-7.5zM466.1 285.6h1.5v1.5h-1.5zM469.1 285.6h4.5v1.5h-4.5zM475.1 285.6h1.5v1.5h-1.5zM478.1 285.6h12v1.5h-12zM493.1 285.6h4.5v1.5h-4.5zM63 287.1h25.5v1.5h-25.5zM90 287.1h1.5v1.5h-1.5zM93 287.1h9v1.5h-9zM103.5 287.1h21v1.5h-21zM125.9 287.1h6v1.5h-6zM133.4 287.1h12v1.5h-12zM146.9 287.1h3v1.5h-3zM151.4 287.1h6v1.5h-6zM161.9 287.1h1.5v1.5h-1.5zM170.9 287.1h1.5v1.5h-1.5zM175.4 287.1h4.5v1.5h-4.5zM181.4 287.1h6v1.5h-6zM188.9 287.1h4.5v1.5h-4.5zM194.9 287.1h7.5v1.5h-7.5zM205.4 287.1h9v1.5h-9zM215.9 287.1h4.5v1.5h-4.5zM221.9 287.1h4.5v1.5h-4.5zM227.8 287.1h3v1.5h-3zM232.3 287.1h1.5v1.5h-1.5zM235.3 287.1h3v1.5h-3zM239.8 287.1h4.5v1.5h-4.5zM245.8 287.1h10.5v1.5h-10.5zM259.3 287.1h3v1.5h-3zM265.3 287.1h12v1.5h-12zM278.8 287.1h10.5v1.5h-10.5zM293.8 287.1h1.5v1.5h-1.5zM296.8 287.1h7.5v1.5h-7.5zM305.8 287.1h1.5v1.5h-1.5zM308.8 287.1h6v1.5h-6zM316.3 287.1h6v1.5h-6zM323.8 287.1h7.5v1.5h-7.5zM338.7 287.1h1.5v1.5h-1.5zM341.7 287.1h1.5v1.5h-1.5zM344.7 287.1h9v1.5h-9zM355.2 287.1h4.5v1.5h-4.5zM361.2 287.1h1.5v1.5h-1.5zM365.7 287.1h4.5v1.5h-4.5zM373.2 287.1h12v1.5h-12zM386.7 287.1h1.5v1.5h-1.5zM389.7 287.1h4.5v1.5h-4.5zM398.7 287.1h4.5v1.5h-4.5zM404.7 287.1h1.5v1.5h-1.5zM409.2 287.1h9v1.5h-9zM421.2 287.1h4.5v1.5h-4.5zM427.2 287.1h9v1.5h-9zM437.7 287.1h10.5v1.5h-10.5zM451.1 287.1h10.5v1.5h-10.5zM463.1 287.1h1.5v1.5h-1.5zM467.6 287.1h4.5v1.5h-4.5zM473.6 287.1h4.5v1.5h-4.5zM481.1 287.1h16.5v1.5h-16.5zM63 288.6h73.4v1.5h-73.4zM137.9 288.6h9v1.5h-9zM148.4 288.6h21v1.5h-21zM172.4 288.6h1.5v1.5h-1.5zM175.4 288.6h12v1.5h-12zM188.9 288.6h12v1.5h-12zM202.4 288.6h10.5v1.5h-10.5zM214.4 288.6h1.5v1.5h-1.5zM217.4 288.6h10.5v1.5h-10.5zM229.3 288.6h9v1.5h-9zM239.8 288.6h16.5v1.5h-16.5zM260.8 288.6h9v1.5h-9zM271.3 288.6h6v1.5h-6zM280.3 288.6h4.5v1.5h-4.5zM287.8 288.6h4.5v1.5h-4.5zM293.8 288.6h7.5v1.5h-7.5zM302.8 288.6h1.5v1.5h-1.5zM305.8 288.6h27v1.5h-27zM334.3 288.6h10.5v1.5h-10.5zM346.2 288.6h74.9v1.5h-74.9zM422.7 288.6h3v1.5h-3zM427.2 288.6h7.5v1.5h-7.5zM436.2 288.6h3v1.5h-3zM440.7 288.6h4.5v1.5h-4.5zM446.6 288.6h3v1.5h-3zM451.1 288.6h13.5v1.5h-13.5zM467.6 288.6h3v1.5h-3zM472.1 288.6h10.5v1.5h-10.5zM485.6 288.6h3v1.5h-3zM490.1 288.6h3v1.5h-3zM494.6 288.6h3v1.5h-3zM63 290.1h51v1.5h-51zM115.5 290.1h55.4v1.5h-55.4zM172.4 290.1h18v1.5h-18zM191.9 290.1h1.5v1.5h-1.5zM194.9 290.1h1.5v1.5h-1.5zM197.9 290.1h13.5v1.5h-13.5zM214.4 290.1h42v1.5h-42zM260.8 290.1h1.5v1.5h-1.5zM263.8 290.1h10.5v1.5h-10.5zM275.8 290.1h1.5v1.5h-1.5zM278.8 290.1h1.5v1.5h-1.5zM281.8 290.1h7.5v1.5h-7.5zM290.8 290.1h13.5v1.5h-13.5zM305.8 290.1h145.4v1.5h-145.4zM452.6 290.1h10.5v1.5h-10.5zM464.6 290.1h7.5v1.5h-7.5zM473.6 290.1h6v1.5h-6zM481.1 290.1h16.5v1.5h-16.5zM63 291.6h145.4v1.5h-145.4zM209.9 291.6h46.5v1.5h-46.5zM257.8 291.6h19.5v1.5h-19.5zM278.8 291.6h218.8v1.5h-218.8zM63 293.1h106.4v1.5h-106.4zM170.9 293.1h106.4v1.5h-106.4zM278.8 293.1h218.8v1.5h-218.8zM63 294.6h92.9v1.5h-92.9zM157.4 294.6h19.5v1.5h-19.5zM178.4 294.6h98.9v1.5h-98.9zM278.8 294.6h125.9v1.5h-125.9zM406.2 294.6h24v1.5h-24zM431.7 294.6h65.9v1.5h-65.9zM63 296.1h115.4v1.5h-115.4zM179.9 296.1h97.4v1.5h-97.4zM278.8 296.1h218.8v1.5h-218.8zM63 297.5h205.3v1.5h-205.3zM269.8 297.5h7.5v1.5h-7.5zM278.8 297.5h218.8v1.5h-218.8zM63 299h10.5v1.5h-10.5zM75 299h193.3v1.5h-193.3zM269.8 299h7.5v1.5h-7.5zM278.8 299h98.9v1.5h-98.9zM379.2 299h40.5v1.5h-40.5zM421.2 299h76.4v1.5h-76.4zM63 300.5h10.5v1.5h-10.5zM75 300.5h202.3v1.5h-202.3zM278.8 300.5h119.9v1.5h-119.9zM400.2 300.5h97.4v1.5h-97.4zM63 302h45v1.5h-45zM109.5 302h167.8v1.5h-167.8zM278.8 302h37.5v1.5h-37.5zM317.8 302h179.8v1.5h-179.8zM63 303.5h172.3v1.5h-172.3zM236.8 303.5h19.5v1.5h-19.5zM257.8 303.5h19.5v1.5h-19.5zM278.8 303.5h86.9v1.5h-86.9zM367.2 303.5h130.4v1.5h-130.4z" fill="#000"/>
<rect x="119.6" y="258" width="2" height="40" fill="#000"/>
<path d="M119.6 251.6h1.8v1.8h-1.8zM119.6 254.6h1.8v1.8h-1.8zM493.1 217.1h1.8v1.8h-1.8zM492.1 236.5h1.8v1.8h-1.8zM478.1 239.1h1.8v1.8h-1.8zM478.1 245.1h1.8v1.8h-1.8zM177.1 240.9h1.8v1.8h-1.8zM239.1 246.1h1.8v1.8h-1.8zM261.1 244.6h1.8v1.8h-1.8zM303.1 248.6h1.8v1.8h-1.8zM399.1 249.1h1.8v1.8h-1.8zM488.1 257.1h1.8v1.8h-1.8zM488.1 262.1h1.8v1.8h-1.8zM69.1 249.9h1.8v1.8h-1.8zM69.1 256.8h1.8v1.8h-1.8zM112.1 263.1h1.8v1.8h-1.8zM137.1 265.7h1.8v1.8h-1.8zM158.1 271.7h1.8v1.8h-1.8zM167.1 270.1h1.8v1.8h-1.8zM205.1 261.1h1.8v1.8h-1.8zM225.1 267.1h1.8v1.8h-1.8zM336.1 245.1h1.8v1.8h-1.8zM345.1 251.1h1.8v1.8h-1.8zM366.1 242.1h1.8v1.8h-1.8zM371.1 246.1h1.8v1.8h-1.8zM92.1 271.1h1.8v1.8h-1.8zM79.1 270.1h1.8v1.8h-1.8z" fill="#000"/>
<line x1="42" y1="163.8" x2="42" y2="305.5" stroke="#555" stroke-width="1.2"/>
<line x1="42" y1="305.6" x2="518.6" y2="305.6" stroke="#888" stroke-width="1"/>
<text x="38.5" y="188.3" text-anchor="end" class="sans" font-size="4.6" fill="#888">7.5</text>
<line x1="40" y1="186.7" x2="42" y2="186.7" stroke="#888" stroke-width="0.6"/>
<text x="38.5" y="228.3" text-anchor="end" class="sans" font-size="4.6" fill="#888">5.0</text>
<line x1="40" y1="226.7" x2="42" y2="226.7" stroke="#888" stroke-width="0.6"/>
<text x="38.5" y="267.2" text-anchor="end" class="sans" font-size="4.6" fill="#888">2.5</text>
<line x1="40" y1="265.6" x2="42" y2="265.6" stroke="#888" stroke-width="0.6"/>
<text x="38.5" y="306.6" text-anchor="end" class="sans" font-size="4.6" fill="#888">0.0</text>
<line x1="40" y1="305" x2="42" y2="305" stroke="#888" stroke-width="0.6"/>
<text x="47.6" y="312.4" text-anchor="middle" class="sans" font-size="3.7" fill="#777">0</text>
<text x="53.3" y="312.4" text-anchor="middle" class="sans" font-size="3.7" fill="#777">2</text>
<text x="59" y="312.4" text-anchor="middle" class="sans" font-size="3.7" fill="#777">4</text>
<text x="64.7" y="312.4" text-anchor="middle" class="sans" font-size="3.7" fill="#777">6</text>
<text x="70.4" y="312.4" text-anchor="middle" class="sans" font-size="3.7" fill="#777">8</text>
<text x="76" y="312.4" text-anchor="middle" class="sans" font-size="3.7" fill="#777">10</text>
<text x="81.7" y="312.4" text-anchor="middle" class="sans" font-size="3.7" fill="#777">12</text>
<text x="87.4" y="312.4" text-anchor="middle" class="sans" font-size="3.7" fill="#777">14</text>
<text x="93.1" y="312.4" text-anchor="middle" class="sans" font-size="3.7" fill="#777">16</text>
<text x="98.8" y="312.4" text-anchor="middle" class="sans" font-size="3.7" fill="#777">18</text>
<text x="104.5" y="312.4" text-anchor="middle" class="sans" font-size="3.7" fill="#777">20</text>
<text x="110.2" y="312.4" text-anchor="middle" class="sans" font-size="3.7" fill="#777">22</text>
<text x="115.9" y="312.4" text-anchor="middle" class="sans" font-size="3.7" fill="#777">24</text>
<text x="121.6" y="312.4" text-anchor="middle" class="sans" font-size="3.7" fill="#777">26</text>
<text x="127.2" y="312.4" text-anchor="middle" class="sans" font-size="3.7" fill="#777">28</text>
<text x="132.9" y="312.4" text-anchor="middle" class="sans" font-size="3.7" fill="#777">30</text>
<text x="138.6" y="312.4" text-anchor="middle" class="sans" font-size="3.7" fill="#777">32</text>
<text x="144.3" y="312.4" text-anchor="middle" class="sans" font-size="3.7" fill="#777">34</text>
<text x="150" y="312.4" text-anchor="middle" class="sans" font-size="3.7" fill="#777">36</text>
<text x="155.7" y="312.4" text-anchor="middle" class="sans" font-size="3.7" fill="#777">38</text>
<text x="161.4" y="312.4" text-anchor="middle" class="sans" font-size="3.7" fill="#777">40</text>
<text x="167.1" y="312.4" text-anchor="middle" class="sans" font-size="3.7" fill="#777">42</text>
<text x="172.7" y="312.4" text-anchor="middle" class="sans" font-size="3.7" fill="#777">44</text>
<text x="178.4" y="312.4" text-anchor="middle" class="sans" font-size="3.7" fill="#777">46</text>
<text x="184.1" y="312.4" text-anchor="middle" class="sans" font-size="3.7" fill="#777">48</text>
<text x="189.8" y="312.4" text-anchor="middle" class="sans" font-size="3.7" fill="#777">50</text>
<text x="195.5" y="312.4" text-anchor="middle" class="sans" font-size="3.7" fill="#777">52</text>
<text x="201.2" y="312.4" text-anchor="middle" class="sans" font-size="3.7" fill="#777">54</text>
<text x="206.9" y="312.4" text-anchor="middle" class="sans" font-size="3.7" fill="#777">56</text>
<text x="212.6" y="312.4" text-anchor="middle" class="sans" font-size="3.7" fill="#777">58</text>
<text x="218.3" y="312.4" text-anchor="middle" class="sans" font-size="3.7" fill="#777">60</text>
<text x="223.9" y="312.4" text-anchor="middle" class="sans" font-size="3.7" fill="#777">62</text>
<text x="229.6" y="312.4" text-anchor="middle" class="sans" font-size="3.7" fill="#777">64</text>
<text x="235.3" y="312.4" text-anchor="middle" class="sans" font-size="3.7" fill="#777">66</text>
<text x="241" y="312.4" text-anchor="middle" class="sans" font-size="3.7" fill="#777">68</text>
<text x="246.7" y="312.4" text-anchor="middle" class="sans" font-size="3.7" fill="#777">70</text>
<text x="252.4" y="312.4" text-anchor="middle" class="sans" font-size="3.7" fill="#777">72</text>
<text x="258.1" y="312.4" text-anchor="middle" class="sans" font-size="3.7" fill="#777">74</text>
<text x="263.8" y="312.4" text-anchor="middle" class="sans" font-size="3.7" fill="#777">76</text>
<text x="269.5" y="312.4" text-anchor="middle" class="sans" font-size="3.7" fill="#777">78</text>
<text x="275.1" y="312.4" text-anchor="middle" class="sans" font-size="3.7" fill="#777">80</text>
<text x="280.8" y="312.4" text-anchor="middle" class="sans" font-size="3.7" fill="#777">82</text>
<text x="286.5" y="312.4" text-anchor="middle" class="sans" font-size="3.7" fill="#777">84</text>
<text x="292.2" y="312.4" text-anchor="middle" class="sans" font-size="3.7" fill="#777">86</text>
<text x="297.9" y="312.4" text-anchor="middle" class="sans" font-size="3.7" fill="#777">88</text>
<text x="303.6" y="312.4" text-anchor="middle" class="sans" font-size="3.7" fill="#777">90</text>
<text x="309.3" y="312.4" text-anchor="middle" class="sans" font-size="3.7" fill="#777">92</text>
<text x="315" y="312.4" text-anchor="middle" class="sans" font-size="3.7" fill="#777">94</text>
<text x="320.7" y="312.4" text-anchor="middle" class="sans" font-size="3.7" fill="#777">96</text>
<text x="326.3" y="312.4" text-anchor="middle" class="sans" font-size="3.7" fill="#777">98</text>
<text x="332" y="312.4" text-anchor="middle" class="sans" font-size="3.7" fill="#777">100</text>
<text x="337.7" y="312.4" text-anchor="middle" class="sans" font-size="3.7" fill="#777">102</text>
<text x="343.4" y="312.4" text-anchor="middle" class="sans" font-size="3.7" fill="#777">104</text>
<text x="349.1" y="312.4" text-anchor="middle" class="sans" font-size="3.7" fill="#777">106</text>
<text x="354.8" y="312.4" text-anchor="middle" class="sans" font-size="3.7" fill="#777">108</text>
<text x="360.5" y="312.4" text-anchor="middle" class="sans" font-size="3.7" fill="#777">110</text>
<text x="366.2" y="312.4" text-anchor="middle" class="sans" font-size="3.7" fill="#777">112</text>
<text x="371.9" y="312.4" text-anchor="middle" class="sans" font-size="3.7" fill="#777">114</text>
<text x="377.5" y="312.4" text-anchor="middle" class="sans" font-size="3.7" fill="#777">116</text>
<text x="383.2" y="312.4" text-anchor="middle" class="sans" font-size="3.7" fill="#777">118</text>
<text x="388.9" y="312.4" text-anchor="middle" class="sans" font-size="3.7" fill="#777">120</text>
<text x="394.6" y="312.4" text-anchor="middle" class="sans" font-size="3.7" fill="#777">122</text>
<text x="400.3" y="312.4" text-anchor="middle" class="sans" font-size="3.7" fill="#777">124</text>
<text x="406" y="312.4" text-anchor="middle" class="sans" font-size="3.7" fill="#777">126</text>
<text x="411.7" y="312.4" text-anchor="middle" class="sans" font-size="3.7" fill="#777">128</text>
<text x="417.4" y="312.4" text-anchor="middle" class="sans" font-size="3.7" fill="#777">130</text>
<text x="423" y="312.4" text-anchor="middle" class="sans" font-size="3.7" fill="#777">132</text>
<text x="428.7" y="312.4" text-anchor="middle" class="sans" font-size="3.7" fill="#777">134</text>
<text x="434.4" y="312.4" text-anchor="middle" class="sans" font-size="3.7" fill="#777">136</text>
<text x="440.1" y="312.4" text-anchor="middle" class="sans" font-size="3.7" fill="#777">138</text>
<text x="445.8" y="312.4" text-anchor="middle" class="sans" font-size="3.7" fill="#777">140</text>
<text x="451.5" y="312.4" text-anchor="middle" class="sans" font-size="3.7" fill="#777">142</text>
<text x="457.2" y="312.4" text-anchor="middle" class="sans" font-size="3.7" fill="#777">144</text>
<text x="462.9" y="312.4" text-anchor="middle" class="sans" font-size="3.7" fill="#777">146</text>
<text x="468.6" y="312.4" text-anchor="middle" class="sans" font-size="3.7" fill="#777">148</text>
<text x="474.2" y="312.4" text-anchor="middle" class="sans" font-size="3.7" fill="#777">150</text>
<text x="479.9" y="312.4" text-anchor="middle" class="sans" font-size="3.7" fill="#777">152</text>
<text x="485.6" y="312.4" text-anchor="middle" class="sans" font-size="3.7" fill="#777">154</text>
<text x="491.3" y="312.4" text-anchor="middle" class="sans" font-size="3.7" fill="#777">156</text>
<text x="497" y="312.4" text-anchor="middle" class="sans" font-size="3.7" fill="#777">158</text>
<text x="243.8" y="323.3" class="serif" font-weight="bold" font-size="9.2" textLength="42.6" lengthAdjust="spacingAndGlyphs" fill="#222">Chr15(Mb)</text>
<text transform="translate(24.0,241.4) rotate(-90)" text-anchor="middle" class="serif" font-weight="normal" font-size="12.2" textLength="43.2" lengthAdjust="spacingAndGlyphs">-log<tspan font-size="5.5" font-weight="normal" dy="1.2">10</tspan><tspan dy="-1.2">(</tspan><tspan font-style="italic">P</tspan>)</text>
<text x="521.4" y="323.7" class="serif" font-weight="bold" font-size="13.8" textLength="17.6" lengthAdjust="spacingAndGlyphs">(b)</text>
<line x1="56" y1="342.8" x2="56" y2="459.4" stroke="#555" stroke-width="1"/>
<line x1="56" y1="459.2" x2="487.6" y2="459.2" stroke="#555" stroke-width="1"/>
<line x1="48.4" y1="458.8" x2="56" y2="458.8" stroke="#555" stroke-width="1"/>
<text x="41.8" y="460.8" text-anchor="middle" class="sans" font-size="5.6" fill="#555">0</text>
<line x1="48.4" y1="435.7" x2="56" y2="435.7" stroke="#555" stroke-width="1"/>
<text x="41.8" y="437.7" text-anchor="middle" class="sans" font-size="5.6" fill="#555">1</text>
<line x1="48.4" y1="412.7" x2="56" y2="412.7" stroke="#555" stroke-width="1"/>
<text x="41.8" y="414.7" text-anchor="middle" class="sans" font-size="5.6" fill="#555">2</text>
<line x1="48.4" y1="389.6" x2="56" y2="389.6" stroke="#555" stroke-width="1"/>
<text x="41.8" y="391.6" text-anchor="middle" class="sans" font-size="5.6" fill="#555">3</text>
<line x1="48.4" y1="366.5" x2="56" y2="366.5" stroke="#555" stroke-width="1"/>
<text x="41.8" y="368.5" text-anchor="middle" class="sans" font-size="5.6" fill="#555">4</text>
<line x1="48.4" y1="343.5" x2="56" y2="343.5" stroke="#555" stroke-width="1"/>
<text x="41.8" y="345.5" text-anchor="middle" class="sans" font-size="5.6" fill="#555">5</text>
<line x1="142.7" y1="459.2" x2="142.7" y2="461.2" stroke="#555" stroke-width="0.8"/>
<line x1="228.7" y1="459.2" x2="228.7" y2="461.2" stroke="#555" stroke-width="0.8"/>
<line x1="315.4" y1="459.2" x2="315.4" y2="461.2" stroke="#555" stroke-width="0.8"/>
<line x1="401" y1="459.2" x2="401" y2="461.2" stroke="#555" stroke-width="0.8"/>
<line x1="56" y1="367.5" x2="485" y2="367.5" stroke="#ee3030" stroke-width="1" stroke-dasharray="2.6,2.2"/>
<g fill="#1b78c8"><ellipse cx="57" cy="377.1" rx="2.35" ry="2.1"/><ellipse cx="98.4" cy="374.9" rx="2.35" ry="2.1"/><ellipse cx="111.5" cy="379.7" rx="2.35" ry="2.1"/><ellipse cx="114.4" cy="374.9" rx="2.35" ry="2.1"/><ellipse cx="127.9" cy="374.9" rx="2.35" ry="2.1"/><ellipse cx="132.5" cy="374.9" rx="2.35" ry="2.1"/><ellipse cx="150" cy="374.9" rx="2.35" ry="2.1"/><ellipse cx="172" cy="374.9" rx="2.35" ry="2.1"/><ellipse cx="174.2" cy="374.9" rx="2.35" ry="2.1"/><ellipse cx="180" cy="374.9" rx="2.35" ry="2.1"/><ellipse cx="197.1" cy="374.9" rx="2.35" ry="2.1"/><ellipse cx="222.8" cy="374.9" rx="2.35" ry="2.1"/><ellipse cx="225.5" cy="374.9" rx="2.35" ry="2.1"/><ellipse cx="228.7" cy="374.9" rx="2.35" ry="2.1"/><ellipse cx="237.9" cy="374.9" rx="2.35" ry="2.1"/><ellipse cx="241.2" cy="374.9" rx="2.35" ry="2.1"/><ellipse cx="249" cy="374.9" rx="2.35" ry="2.1"/><ellipse cx="271.7" cy="374.9" rx="2.35" ry="2.1"/><ellipse cx="192.7" cy="381" rx="2.35" ry="2.1"/><ellipse cx="242.3" cy="421.2" rx="2.35" ry="2.1"/><ellipse cx="291.4" cy="374.9" rx="2.35" ry="2.1"/><ellipse cx="331.5" cy="374.9" rx="2.35" ry="2.1"/><ellipse cx="341.4" cy="374.9" rx="2.35" ry="2.1"/><ellipse cx="363.2" cy="374.9" rx="2.35" ry="2.1"/><ellipse cx="381.7" cy="374.9" rx="2.35" ry="2.1"/><ellipse cx="384.6" cy="374.9" rx="2.35" ry="2.1"/><ellipse cx="319.1" cy="379.3" rx="2.35" ry="2.1"/><ellipse cx="386.3" cy="379.3" rx="2.35" ry="2.1"/><ellipse cx="408.7" cy="374.9" rx="2.35" ry="2.1"/><ellipse cx="414.7" cy="374.9" rx="2.35" ry="2.1"/><ellipse cx="445.8" cy="374.9" rx="2.35" ry="2.1"/><ellipse cx="449.1" cy="374.9" rx="2.35" ry="2.1"/><ellipse cx="452.9" cy="374.9" rx="2.35" ry="2.1"/><ellipse cx="467.5" cy="374.8" rx="2.35" ry="2.1"/><ellipse cx="65.3" cy="452.8" rx="2.35" ry="2.1"/><ellipse cx="71.8" cy="452.8" rx="2.35" ry="2.1"/><ellipse cx="76.2" cy="452.8" rx="2.35" ry="2.1"/><ellipse cx="128.1" cy="452.8" rx="2.35" ry="2.1"/><ellipse cx="139" cy="452.8" rx="2.35" ry="2.1"/><ellipse cx="141.2" cy="452.8" rx="2.35" ry="2.1"/><ellipse cx="149.3" cy="452.8" rx="2.35" ry="2.1"/><ellipse cx="169.8" cy="452.8" rx="2.35" ry="2.1"/><ellipse cx="200" cy="441.5" rx="2.35" ry="2.1"/><ellipse cx="200" cy="450.2" rx="2.35" ry="2.1"/><ellipse cx="200.4" cy="458.4" rx="2.35" ry="2.1"/><ellipse cx="203.6" cy="456.7" rx="2.35" ry="2.1"/><ellipse cx="216.3" cy="449.1" rx="2.35" ry="2.1"/><ellipse cx="216.3" cy="452.4" rx="2.35" ry="2.1"/><ellipse cx="216.3" cy="457.6" rx="2.35" ry="2.1"/><ellipse cx="224.8" cy="452.8" rx="2.35" ry="2.1"/><ellipse cx="230.3" cy="452.8" rx="2.35" ry="2.1"/><ellipse cx="242.3" cy="444.7" rx="2.35" ry="2.1"/><ellipse cx="242.3" cy="448.4" rx="2.35" ry="2.1"/><ellipse cx="242.3" cy="452.4" rx="2.35" ry="2.1"/><ellipse cx="264.1" cy="450.2" rx="2.35" ry="2.1"/><ellipse cx="264.1" cy="454.6" rx="2.35" ry="2.1"/><ellipse cx="264.1" cy="458.4" rx="2.35" ry="2.1"/><ellipse cx="271.3" cy="458.4" rx="2.35" ry="2.1"/><ellipse cx="278.9" cy="452.8" rx="2.35" ry="2.1"/><ellipse cx="292.5" cy="458.4" rx="2.35" ry="2.1"/><ellipse cx="296.8" cy="457.2" rx="2.35" ry="2.1"/><ellipse cx="304.9" cy="457.6" rx="2.35" ry="2.1"/><ellipse cx="313.2" cy="452.8" rx="2.35" ry="2.1"/><ellipse cx="325.2" cy="452.8" rx="2.35" ry="2.1"/><ellipse cx="335.5" cy="452.8" rx="2.35" ry="2.1"/><ellipse cx="338.7" cy="439.3" rx="2.35" ry="2.1"/><ellipse cx="338.7" cy="442" rx="2.35" ry="2.1"/><ellipse cx="338.7" cy="447.4" rx="2.35" ry="2.1"/><ellipse cx="338.7" cy="455.6" rx="2.35" ry="2.1"/><ellipse cx="383.5" cy="452.8" rx="2.35" ry="2.1"/><ellipse cx="452" cy="452.7" rx="2.35" ry="2.1"/><ellipse cx="476.8" cy="454.3" rx="2.35" ry="2.1"/></g>
<g fill="#27b14b"><ellipse cx="88.8" cy="432.1" rx="2.35" ry="2.1"/><ellipse cx="86.7" cy="445.2" rx="2.35" ry="2.1"/><ellipse cx="96.3" cy="440.4" rx="2.35" ry="2.1"/><ellipse cx="107.4" cy="448.4" rx="2.35" ry="2.1"/><ellipse cx="128.5" cy="444.7" rx="2.35" ry="2.1"/><ellipse cx="140.6" cy="448.4" rx="2.35" ry="2.1"/><ellipse cx="144.5" cy="440.8" rx="2.35" ry="2.1"/><ellipse cx="152.1" cy="448.4" rx="2.35" ry="2.1"/><ellipse cx="164.6" cy="448.4" rx="2.35" ry="2.1"/><ellipse cx="170.5" cy="442.6" rx="2.35" ry="2.1"/><ellipse cx="174.2" cy="448.4" rx="2.35" ry="2.1"/><ellipse cx="203" cy="442.6" rx="2.35" ry="2.1"/><ellipse cx="213.5" cy="440.8" rx="2.35" ry="2.1"/><ellipse cx="210.6" cy="448.4" rx="2.35" ry="2.1"/><ellipse cx="209.1" cy="452.4" rx="2.35" ry="2.1"/><ellipse cx="229.4" cy="448.4" rx="2.35" ry="2.1"/><ellipse cx="231.6" cy="449" rx="2.35" ry="2.1"/><ellipse cx="240.3" cy="441.5" rx="2.35" ry="2.1"/><ellipse cx="248.4" cy="448.4" rx="2.35" ry="2.1"/><ellipse cx="268" cy="450.2" rx="2.35" ry="2.1"/><ellipse cx="302.3" cy="448.4" rx="2.35" ry="2.1"/><ellipse cx="307.7" cy="448.4" rx="2.35" ry="2.1"/><ellipse cx="319.1" cy="448.4" rx="2.35" ry="2.1"/><ellipse cx="330.7" cy="448.4" rx="2.35" ry="2.1"/><ellipse cx="372.6" cy="440.8" rx="2.35" ry="2.1"/><ellipse cx="377.6" cy="448.4" rx="2.35" ry="2.1"/><ellipse cx="387.4" cy="444.3" rx="2.35" ry="2.1"/><ellipse cx="387.4" cy="450.2" rx="2.35" ry="2.1"/><ellipse cx="270" cy="449" rx="2.35" ry="2.1"/><ellipse cx="404.1" cy="432" rx="2.35" ry="2.1"/><ellipse cx="407.8" cy="448.4" rx="2.35" ry="2.1"/><ellipse cx="411.8" cy="453" rx="2.35" ry="2.1"/><ellipse cx="419.3" cy="448.4" rx="2.35" ry="2.1"/><ellipse cx="421.7" cy="446.8" rx="2.35" ry="2.1"/><ellipse cx="443.4" cy="444.4" rx="2.35" ry="2.1"/><ellipse cx="443.4" cy="451.5" rx="2.35" ry="2.1"/><ellipse cx="448.6" cy="457.4" rx="2.35" ry="2.1"/><ellipse cx="487.6" cy="440.7" rx="2.35" ry="2.1"/></g>
<g fill="#f6a21f"><ellipse cx="60.5" cy="454.1" rx="2.35" ry="2.1"/><ellipse cx="75.1" cy="455.6" rx="2.35" ry="2.1"/><ellipse cx="87.1" cy="451.7" rx="2.35" ry="2.1"/><ellipse cx="137.3" cy="454.6" rx="2.35" ry="2.1"/><ellipse cx="158" cy="455.2" rx="2.35" ry="2.1"/><ellipse cx="165.6" cy="455.6" rx="2.35" ry="2.1"/><ellipse cx="188.8" cy="448.4" rx="2.35" ry="2.1"/><ellipse cx="197.5" cy="456.3" rx="2.35" ry="2.1"/><ellipse cx="201.5" cy="444.7" rx="2.35" ry="2.1"/><ellipse cx="204.7" cy="453.5" rx="2.35" ry="2.1"/><ellipse cx="239.6" cy="454.6" rx="2.35" ry="2.1"/><ellipse cx="275.6" cy="453.9" rx="2.35" ry="2.1"/><ellipse cx="304.9" cy="453.9" rx="2.35" ry="2.1"/><ellipse cx="310.4" cy="454.6" rx="2.35" ry="2.1"/><ellipse cx="404.6" cy="359.6" rx="2.35" ry="2.1"/><ellipse cx="413.6" cy="359.6" rx="2.35" ry="2.1"/><ellipse cx="439.4" cy="456.1" rx="2.35" ry="2.1"/><ellipse cx="450.5" cy="454.6" rx="2.35" ry="2.1"/><ellipse cx="474.3" cy="454.3" rx="2.35" ry="2.1"/></g>
<g fill="#ef3434"><ellipse cx="56.5" cy="367.7" rx="2.35" ry="2.1"/><ellipse cx="63.1" cy="357" rx="2.35" ry="2.1"/><ellipse cx="95.8" cy="367.7" rx="2.35" ry="2.1"/><ellipse cx="104.5" cy="367.7" rx="2.35" ry="2.1"/><ellipse cx="136.8" cy="374.3" rx="2.35" ry="2.1"/><ellipse cx="136.4" cy="377.5" rx="2.35" ry="2.1"/><ellipse cx="139.5" cy="367.7" rx="2.35" ry="2.1"/><ellipse cx="150.8" cy="367.7" rx="2.35" ry="2.1"/><ellipse cx="154.7" cy="367.7" rx="2.35" ry="2.1"/><ellipse cx="88.8" cy="418.1" rx="2.35" ry="2.1"/><ellipse cx="171.3" cy="367.5" rx="2.35" ry="2.1"/><ellipse cx="174.8" cy="367.5" rx="2.35" ry="2.1"/><ellipse cx="236.8" cy="367.5" rx="2.35" ry="2.1"/><ellipse cx="242.9" cy="367.5" rx="2.35" ry="2.1"/><ellipse cx="257.5" cy="367.5" rx="2.35" ry="2.1"/><ellipse cx="275.6" cy="369.5" rx="2.35" ry="2.1"/><ellipse cx="278.9" cy="367.5" rx="2.35" ry="2.1"/><ellipse cx="185.1" cy="381" rx="2.35" ry="2.1"/><ellipse cx="240.1" cy="372.7" rx="2.35" ry="2.1"/><ellipse cx="276.1" cy="368.8" rx="2.35" ry="2.1"/><ellipse cx="279.2" cy="367.5" rx="2.35" ry="2.1"/><ellipse cx="312.5" cy="367.5" rx="2.35" ry="2.1"/><ellipse cx="315.8" cy="367.5" rx="2.35" ry="2.1"/><ellipse cx="337.6" cy="370.5" rx="2.35" ry="2.1"/><ellipse cx="405.7" cy="364" rx="2.35" ry="2.1"/><ellipse cx="434.4" cy="365.4" rx="2.35" ry="2.1"/><ellipse cx="440.9" cy="371.1" rx="2.35" ry="2.1"/><ellipse cx="443.6" cy="368.6" rx="2.35" ry="2.1"/><ellipse cx="450.2" cy="368.1" rx="2.35" ry="2.1"/><ellipse cx="454.5" cy="365.9" rx="2.35" ry="2.1"/><ellipse cx="467.2" cy="367.7" rx="2.35" ry="2.1"/><ellipse cx="477.4" cy="370.2" rx="2.35" ry="2.1"/><ellipse cx="482" cy="369.3" rx="2.35" ry="2.1"/><ellipse cx="444" cy="428.9" rx="2.35" ry="2.1"/></g>
<rect x="-1.7" y="-1.7" width="3.4" height="3.4" fill="#ef3434" transform="translate(204.5,354.8) rotate(45)"/>
<text x="209.9" y="356.1" class="sans" font-size="8.6" textLength="79.6" lengthAdjust="spacingAndGlyphs" fill="#222">Arahy.15: 139394619</text>
<text transform="translate(32.8,404.6) rotate(-90)" text-anchor="middle" class="serif" font-weight="bold" font-size="12.4" textLength="41.5" lengthAdjust="spacingAndGlyphs">-log<tspan font-size="5.6" font-weight="normal" dy="1.2">10</tspan><tspan dy="-1.2">(</tspan><tspan font-style="italic">P</tspan>)</text>
<text x="488" y="338.8" font-family="'DejaVu Sans', Verdana, sans-serif" font-size="8.4" fill="#222">R^2</text>
<rect x="487.6" y="343.9" width="10.4" height="9.3" fill="#ef3434"/>
<rect x="487.6" y="353.2" width="10.4" height="9.3" fill="#f6a21f"/>
<rect x="487.6" y="362.5" width="10.4" height="9.2" fill="#27b14b"/>
<rect x="487.6" y="371.7" width="10.4" height="9.9" fill="#22b6e8"/>
<rect x="487.6" y="381.6" width="10.4" height="9.6" fill="#1b78c8"/>
<rect x="487.6" y="391.2" width="10.4" height="9.9" fill="#bdbdbd"/>
<text x="500" y="348.7" font-family="'DejaVu Sans', Verdana, sans-serif" font-size="8.8" fill="#222">1.0</text>
<text x="500" y="358.5" font-family="'DejaVu Sans', Verdana, sans-serif" font-size="8.8" fill="#222">0.8</text>
<text x="500" y="368.2" font-family="'DejaVu Sans', Verdana, sans-serif" font-size="8.8" fill="#222">0.6</text>
<text x="500" y="378" font-family="'DejaVu Sans', Verdana, sans-serif" font-size="8.8" fill="#222">0.4</text>
<text x="500" y="387.9" font-family="'DejaVu Sans', Verdana, sans-serif" font-size="8.8" fill="#222">0.2</text>
<text x="500" y="397.5" font-family="'DejaVu Sans', Verdana, sans-serif" font-size="8.8" fill="#222">0.0</text>
<text x="500" y="407.4" font-family="'DejaVu Sans', Verdana, sans-serif" font-size="8.8" fill="#222">NA</text>
<text x="41" y="472.2" class="serif" font-weight="bold" font-size="9" textLength="55.8" lengthAdjust="spacing" fill="#222">Start:137.317</text>
<text x="207.6" y="472.4" class="serif" font-weight="bold" font-size="9" textLength="119.7" lengthAdjust="spacing" fill="#222">Arahy.15 Region: 692.40(kb)</text>
<text x="427" y="472.4" class="serif" font-weight="bold" font-size="9" textLength="73.6" lengthAdjust="spacing" fill="#222">End:138.009(Mb)</text>
<rect x="56.1" y="484.3" width="431.5" height="15.4" fill="#93cde8"/>
<path fill="#d070c8" fill-opacity="0.28" d="M465.6 484.3h0.8v15.4h-0.8zM60.7 484.3h0.8v15.4h-0.8zM116 484.3h0.8v15.4h-0.8zM143.8 484.3h0.8v15.4h-0.8zM166.7 484.3h0.8v15.4h-0.8zM437.8 484.3h0.8v15.4h-0.8zM182.3 484.3h0.8v15.4h-0.8zM134.5 484.3h0.8v15.4h-0.8zM195.3 484.3h0.8v15.4h-0.8zM302.7 484.3h0.8v15.4h-0.8zM203.7 484.3h0.8v15.4h-0.8zM137.3 484.3h0.8v15.4h-0.8zM95.2 484.3h0.8v15.4h-0.8zM78 484.3h0.8v15.4h-0.8zM227.1 484.3h0.8v15.4h-0.8zM132.3 484.3h0.8v15.4h-0.8zM260 484.3h0.8v15.4h-0.8zM299.3 484.3h0.8v15.4h-0.8zM202.9 484.3h0.8v15.4h-0.8zM239.6 484.3h0.8v15.4h-0.8zM81.8 484.3h0.8v15.4h-0.8zM262 484.3h0.8v15.4h-0.8zM135.3 484.3h0.8v15.4h-0.8zM211.5 484.3h0.8v15.4h-0.8zM93.6 484.3h0.8v15.4h-0.8zM150.5 484.3h0.8v15.4h-0.8zM206 484.3h0.8v15.4h-0.8zM229.1 484.3h0.8v15.4h-0.8zM63.2 484.3h0.8v15.4h-0.8zM453.1 484.3h0.8v15.4h-0.8zM206.1 484.3h0.8v15.4h-0.8zM130 484.3h0.8v15.4h-0.8zM133.6 484.3h0.8v15.4h-0.8zM323.5 484.3h0.8v15.4h-0.8zM205.9 484.3h0.8v15.4h-0.8zM153.2 484.3h0.8v15.4h-0.8zM209.8 484.3h0.8v15.4h-0.8zM134.6 484.3h0.8v15.4h-0.8zM131.2 484.3h0.8v15.4h-0.8zM183.6 484.3h0.8v15.4h-0.8zM466.6 484.3h0.8v15.4h-0.8zM84.6 484.3h0.8v15.4h-0.8zM259.5 484.3h0.8v15.4h-0.8zM456.1 484.3h0.8v15.4h-0.8zM212.8 484.3h0.8v15.4h-0.8zM185.2 484.3h0.8v15.4h-0.8zM257.9 484.3h0.8v15.4h-0.8zM122.3 484.3h0.8v15.4h-0.8zM309.6 484.3h0.8v15.4h-0.8zM56.8 484.3h0.8v15.4h-0.8zM261.6 484.3h0.8v15.4h-0.8zM76.6 484.3h0.8v15.4h-0.8zM61.3 484.3h0.8v15.4h-0.8zM132 484.3h0.8v15.4h-0.8zM319 484.3h0.8v15.4h-0.8zM206.1 484.3h0.8v15.4h-0.8zM204.7 484.3h0.8v15.4h-0.8zM277.1 484.3h0.8v15.4h-0.8zM82.6 484.3h0.8v15.4h-0.8zM469.2 484.3h0.8v15.4h-0.8zM229.3 484.3h0.8v15.4h-0.8zM446.3 484.3h0.8v15.4h-0.8zM335.3 484.3h0.8v15.4h-0.8zM139.3 484.3h0.8v15.4h-0.8zM168 484.3h0.8v15.4h-0.8zM271.5 484.3h0.8v15.4h-0.8zM417.9 484.3h0.8v15.4h-0.8zM454.1 484.3h0.8v15.4h-0.8zM232.8 484.3h0.8v15.4h-0.8zM97.4 484.3h0.8v15.4h-0.8zM479.2 484.3h0.8v15.4h-0.8zM434.7 484.3h0.8v15.4h-0.8zM319.9 484.3h0.8v15.4h-0.8zM191 484.3h0.8v15.4h-0.8zM121.1 484.3h0.8v15.4h-0.8zM375.5 484.3h0.8v15.4h-0.8zM135 484.3h0.8v15.4h-0.8zM179.7 484.3h0.8v15.4h-0.8zM447.3 484.3h0.8v15.4h-0.8zM284.8 484.3h0.8v15.4h-0.8zM165.9 484.3h0.8v15.4h-0.8zM238.7 484.3h0.8v15.4h-0.8zM277.2 484.3h0.8v15.4h-0.8zM91.2 484.3h0.8v15.4h-0.8zM160.6 484.3h0.8v15.4h-0.8zM334.5 484.3h0.8v15.4h-0.8zM285.8 484.3h0.8v15.4h-0.8zM414 484.3h0.8v15.4h-0.8zM333.5 484.3h0.8v15.4h-0.8zM230.4 484.3h0.8v15.4h-0.8zM164 484.3h0.8v15.4h-0.8zM197.1 484.3h0.8v15.4h-0.8zM136.7 484.3h0.8v15.4h-0.8zM456.6 484.3h0.8v15.4h-0.8zM65.5 484.3h0.8v15.4h-0.8zM188.6 484.3h0.8v15.4h-0.8zM81.9 484.3h0.8v15.4h-0.8zM443.7 484.3h0.8v15.4h-0.8zM302.2 484.3h0.8v15.4h-0.8zM204.9 484.3h0.8v15.4h-0.8zM397.7 484.3h0.8v15.4h-0.8zM197.3 484.3h0.8v15.4h-0.8zM221.6 484.3h0.8v15.4h-0.8zM188.6 484.3h0.8v15.4h-0.8zM337.6 484.3h0.8v15.4h-0.8zM78.7 484.3h0.8v15.4h-0.8zM259.6 484.3h0.8v15.4h-0.8zM157.3 484.3h0.8v15.4h-0.8zM469 484.3h0.8v15.4h-0.8zM138.5 484.3h0.8v15.4h-0.8zM196.7 484.3h0.8v15.4h-0.8zM78.9 484.3h0.8v15.4h-0.8zM232 484.3h0.8v15.4h-0.8zM260.1 484.3h0.8v15.4h-0.8zM338.8 484.3h0.8v15.4h-0.8zM205.8 484.3h0.8v15.4h-0.8zM140.5 484.3h0.8v15.4h-0.8zM68 484.3h0.8v15.4h-0.8zM455 484.3h0.8v15.4h-0.8zM128.2 484.3h0.8v15.4h-0.8zM352 484.3h0.8v15.4h-0.8zM451.6 484.3h0.8v15.4h-0.8zM177.2 484.3h0.8v15.4h-0.8zM118.7 484.3h0.8v15.4h-0.8zM300.9 484.3h0.8v15.4h-0.8zM195.5 484.3h0.8v15.4h-0.8zM72 484.3h0.8v15.4h-0.8zM460.6 484.3h0.8v15.4h-0.8zM446.6 484.3h0.8v15.4h-0.8zM95 484.3h0.8v15.4h-0.8zM328.3 484.3h0.8v15.4h-0.8zM190.6 484.3h0.8v15.4h-0.8zM81.6 484.3h0.8v15.4h-0.8zM406.2 484.3h0.8v15.4h-0.8zM431.5 484.3h0.8v15.4h-0.8zM66 484.3h0.8v15.4h-0.8zM92.2 484.3h0.8v15.4h-0.8zM85.1 484.3h0.8v15.4h-0.8zM461.1 484.3h0.8v15.4h-0.8zM457.8 484.3h0.8v15.4h-0.8zM420.5 484.3h0.8v15.4h-0.8zM307.6 484.3h0.8v15.4h-0.8zM94 484.3h0.8v15.4h-0.8zM142.5 484.3h0.8v15.4h-0.8zM242.1 484.3h0.8v15.4h-0.8zM230.5 484.3h0.8v15.4h-0.8zM95.7 484.3h0.8v15.4h-0.8zM142 484.3h0.8v15.4h-0.8zM311.6 484.3h0.8v15.4h-0.8zM444.8 484.3h0.8v15.4h-0.8zM94.1 484.3h0.8v15.4h-0.8zM455 484.3h0.8v15.4h-0.8zM179.7 484.3h0.8v15.4h-0.8zM79.1 484.3h0.8v15.4h-0.8zM450.2 484.3h0.8v15.4h-0.8zM249 484.3h0.8v15.4h-0.8zM306.7 484.3h0.8v15.4h-0.8zM125.6 484.3h0.8v15.4h-0.8zM448.7 484.3h0.8v15.4h-0.8zM199.8 484.3h0.8v15.4h-0.8zM187.8 484.3h0.8v15.4h-0.8zM339.4 484.3h0.8v15.4h-0.8zM334.5 484.3h0.8v15.4h-0.8zM320.2 484.3h0.8v15.4h-0.8zM136.7 484.3h0.8v15.4h-0.8zM136.5 484.3h0.8v15.4h-0.8zM266.3 484.3h0.8v15.4h-0.8zM180.8 484.3h0.8v15.4h-0.8zM71.9 484.3h0.8v15.4h-0.8zM200.8 484.3h0.8v15.4h-0.8zM353.4 484.3h0.8v15.4h-0.8zM201 484.3h0.8v15.4h-0.8zM199.2 484.3h0.8v15.4h-0.8zM305.7 484.3h0.8v15.4h-0.8zM468 484.3h0.8v15.4h-0.8zM391.4 484.3h0.8v15.4h-0.8zM119.6 484.3h0.8v15.4h-0.8zM176 484.3h0.8v15.4h-0.8zM256.2 484.3h0.8v15.4h-0.8zM204.5 484.3h0.8v15.4h-0.8zM134.4 484.3h0.8v15.4h-0.8zM82.4 484.3h0.8v15.4h-0.8zM290.8 484.3h0.8v15.4h-0.8zM191.5 484.3h0.8v15.4h-0.8zM180.1 484.3h0.8v15.4h-0.8zM460.3 484.3h0.8v15.4h-0.8zM417.5 484.3h0.8v15.4h-0.8zM230.8 484.3h0.8v15.4h-0.8zM445.2 484.3h0.8v15.4h-0.8zM264.5 484.3h0.8v15.4h-0.8zM456.2 484.3h0.8v15.4h-0.8zM283.6 484.3h0.8v15.4h-0.8zM185.2 484.3h0.8v15.4h-0.8zM267.7 484.3h0.8v15.4h-0.8zM305.8 484.3h0.8v15.4h-0.8zM406.4 484.3h0.8v15.4h-0.8zM467.8 484.3h0.8v15.4h-0.8zM143 484.3h0.8v15.4h-0.8zM89.4 484.3h0.8v15.4h-0.8zM177.9 484.3h0.8v15.4h-0.8zM266.1 484.3h0.8v15.4h-0.8zM437.4 484.3h0.8v15.4h-0.8zM452.7 484.3h0.8v15.4h-0.8zM233.5 484.3h0.8v15.4h-0.8zM75.2 484.3h0.8v15.4h-0.8zM460.2 484.3h0.8v15.4h-0.8zM136.8 484.3h0.8v15.4h-0.8zM114.7 484.3h0.8v15.4h-0.8zM135.8 484.3h0.8v15.4h-0.8zM376.8 484.3h0.8v15.4h-0.8zM250.8 484.3h0.8v15.4h-0.8zM227.8 484.3h0.8v15.4h-0.8zM187.7 484.3h0.8v15.4h-0.8zM221.9 484.3h0.8v15.4h-0.8zM314.6 484.3h0.8v15.4h-0.8zM441.7 484.3h0.8v15.4h-0.8zM466 484.3h0.8v15.4h-0.8zM116.8 484.3h0.8v15.4h-0.8zM330.7 484.3h0.8v15.4h-0.8zM241.6 484.3h0.8v15.4h-0.8zM185.9 484.3h0.8v15.4h-0.8zM135.1 484.3h0.8v15.4h-0.8zM81.1 484.3h0.8v15.4h-0.8zM180.3 484.3h0.8v15.4h-0.8zM128.3 484.3h0.8v15.4h-0.8zM405.4 484.3h0.8v15.4h-0.8zM445.9 484.3h0.8v15.4h-0.8zM195.9 484.3h0.8v15.4h-0.8zM196.8 484.3h0.8v15.4h-0.8zM397.3 484.3h0.8v15.4h-0.8zM130.4 484.3h0.8v15.4h-0.8zM65.1 484.3h0.8v15.4h-0.8zM138 484.3h0.8v15.4h-0.8zM472.6 484.3h0.8v15.4h-0.8zM205 484.3h0.8v15.4h-0.8zM463.1 484.3h0.8v15.4h-0.8zM72 484.3h0.8v15.4h-0.8zM304 484.3h0.8v15.4h-0.8zM142.3 484.3h0.8v15.4h-0.8zM124 484.3h0.8v15.4h-0.8zM289.5 484.3h0.8v15.4h-0.8zM298.2 484.3h0.8v15.4h-0.8zM392.3 484.3h0.8v15.4h-0.8zM129 484.3h0.8v15.4h-0.8zM421.3 484.3h0.8v15.4h-0.8zM192.3 484.3h0.8v15.4h-0.8zM83.5 484.3h0.8v15.4h-0.8zM76.7 484.3h0.8v15.4h-0.8zM86.6 484.3h0.8v15.4h-0.8zM80.1 484.3h0.8v15.4h-0.8zM288.1 484.3h0.8v15.4h-0.8zM130.1 484.3h0.8v15.4h-0.8zM260.1 484.3h0.8v15.4h-0.8zM126.9 484.3h0.8v15.4h-0.8zM334.8 484.3h0.8v15.4h-0.8zM413.8 484.3h0.8v15.4h-0.8zM411.5 484.3h0.8v15.4h-0.8zM131.3 484.3h0.8v15.4h-0.8zM205.7 484.3h0.8v15.4h-0.8zM413.3 484.3h0.8v15.4h-0.8z"/>
<g fill="#dd68c4"><rect x="56.9" y="484.3" width="0.9" height="15.4" opacity="0.5"/><rect x="57" y="484.3" width="0.9" height="15.4" opacity="0.5"/><rect x="61.3" y="484.3" width="0.9" height="15.4" opacity="0.5"/><rect x="63.1" y="484.3" width="0.9" height="15.4" opacity="0.5"/><rect x="63.6" y="484.3" width="0.9" height="15.4" opacity="0.5"/><rect x="65.6" y="484.3" width="0.9" height="15.4" opacity="0.5"/><rect x="70.9" y="484.3" width="0.9" height="15.4" opacity="0.5"/><rect x="71" y="484.3" width="0.9" height="15.4" opacity="0.5"/><rect x="75.8" y="484.3" width="0.9" height="15.4" opacity="0.5"/><rect x="79.7" y="484.3" width="0.9" height="15.4" opacity="0.5"/><rect x="79.9" y="484.3" width="0.9" height="15.4" opacity="0.5"/><rect x="80.5" y="484.3" width="0.9" height="15.4" opacity="0.5"/><rect x="80.7" y="484.3" width="0.9" height="15.4" opacity="0.5"/><rect x="81.2" y="484.3" width="0.9" height="15.4" opacity="0.5"/><rect x="81.2" y="484.3" width="0.9" height="15.4" opacity="0.5"/><rect x="86.4" y="484.3" width="0.9" height="15.4" opacity="0.5"/><rect x="89.4" y="484.3" width="0.9" height="15.4" opacity="0.5"/><rect x="91" y="484.3" width="0.9" height="15.4" opacity="0.5"/><rect x="92.5" y="484.3" width="0.9" height="15.4" opacity="0.5"/><rect x="93.3" y="484.3" width="0.9" height="15.4" opacity="0.5"/><rect x="95" y="484.3" width="0.9" height="15.4" opacity="0.5"/><rect x="97.4" y="484.3" width="0.9" height="15.4" opacity="0.5"/><rect x="98.1" y="484.3" width="0.9" height="15.4" opacity="0.5"/><rect x="117.7" y="484.3" width="0.9" height="15.4" opacity="0.5"/><rect x="117.9" y="484.3" width="0.9" height="15.4" opacity="0.5"/><rect x="118.2" y="484.3" width="0.9" height="15.4" opacity="0.5"/><rect x="118.4" y="484.3" width="0.9" height="15.4" opacity="0.5"/><rect x="125.6" y="484.3" width="0.9" height="15.4" opacity="0.5"/><rect x="125.8" y="484.3" width="0.9" height="15.4" opacity="0.5"/><rect x="127.2" y="484.3" width="0.9" height="15.4" opacity="0.5"/><rect x="127.8" y="484.3" width="0.9" height="15.4" opacity="0.5"/><rect x="128.1" y="484.3" width="0.9" height="15.4" opacity="0.5"/><rect x="129" y="484.3" width="0.9" height="15.4" opacity="0.5"/><rect x="129.1" y="484.3" width="0.9" height="15.4" opacity="0.5"/><rect x="130.4" y="484.3" width="0.9" height="15.4" opacity="0.5"/><rect x="130.5" y="484.3" width="0.9" height="15.4" opacity="0.5"/><rect x="131.1" y="484.3" width="0.9" height="15.4" opacity="0.5"/><rect x="133.2" y="484.3" width="0.9" height="15.4" opacity="0.5"/><rect x="133.3" y="484.3" width="0.9" height="15.4" opacity="0.5"/><rect x="134.3" y="484.3" width="0.9" height="15.4" opacity="0.5"/><rect x="134.4" y="484.3" width="0.9" height="15.4" opacity="0.5"/><rect x="135.1" y="484.3" width="0.9" height="15.4" opacity="0.5"/><rect x="135.4" y="484.3" width="0.9" height="15.4" opacity="0.5"/><rect x="140" y="484.3" width="0.9" height="15.4" opacity="0.5"/><rect x="142.1" y="484.3" width="0.9" height="15.4" opacity="0.5"/><rect x="146.6" y="484.3" width="0.9" height="15.4" opacity="0.5"/><rect x="146.6" y="484.3" width="0.9" height="15.4" opacity="0.5"/><rect x="149.1" y="484.3" width="0.9" height="15.4" opacity="0.5"/><rect x="150.6" y="484.3" width="0.9" height="15.4" opacity="0.5"/><rect x="154.7" y="484.3" width="0.9" height="15.4" opacity="0.5"/><rect x="154.8" y="484.3" width="0.9" height="15.4" opacity="0.5"/><rect x="163.5" y="484.3" width="0.9" height="15.4" opacity="0.5"/><rect x="164.9" y="484.3" width="0.9" height="15.4" opacity="0.5"/><rect x="167.5" y="484.3" width="0.9" height="15.4" opacity="0.5"/><rect x="168.1" y="484.3" width="0.9" height="15.4" opacity="0.5"/><rect x="168.5" y="484.3" width="0.9" height="15.4" opacity="0.5"/><rect x="178.2" y="484.3" width="0.9" height="15.4" opacity="0.5"/><rect x="178.5" y="484.3" width="0.9" height="15.4" opacity="0.5"/><rect x="178.9" y="484.3" width="0.9" height="15.4" opacity="0.5"/><rect x="179" y="484.3" width="0.9" height="15.4" opacity="0.5"/><rect x="179.1" y="484.3" width="0.9" height="15.4" opacity="0.5"/><rect x="179.4" y="484.3" width="0.9" height="15.4" opacity="0.5"/><rect x="179.9" y="484.3" width="0.9" height="15.4" opacity="0.5"/><rect x="182.5" y="484.3" width="0.9" height="15.4" opacity="0.5"/><rect x="185.6" y="484.3" width="0.9" height="15.4" opacity="0.5"/><rect x="186.8" y="484.3" width="0.9" height="15.4" opacity="0.5"/><rect x="189.2" y="484.3" width="0.9" height="15.4" opacity="0.5"/><rect x="191" y="484.3" width="0.9" height="15.4" opacity="0.5"/><rect x="195.8" y="484.3" width="0.9" height="15.4" opacity="0.5"/><rect x="195.8" y="484.3" width="0.9" height="15.4" opacity="0.5"/><rect x="195.9" y="484.3" width="0.9" height="15.4" opacity="0.5"/><rect x="195.9" y="484.3" width="0.9" height="15.4" opacity="0.5"/><rect x="196" y="484.3" width="0.9" height="15.4" opacity="0.5"/><rect x="196.1" y="484.3" width="0.9" height="15.4" opacity="0.5"/><rect x="196.3" y="484.3" width="0.9" height="15.4" opacity="0.5"/><rect x="206.2" y="484.3" width="0.9" height="15.4" opacity="0.5"/><rect x="206.2" y="484.3" width="0.9" height="15.4" opacity="0.5"/><rect x="206.2" y="484.3" width="0.9" height="15.4" opacity="0.5"/><rect x="206.4" y="484.3" width="0.9" height="15.4" opacity="0.5"/><rect x="206.9" y="484.3" width="0.9" height="15.4" opacity="0.5"/><rect x="207.3" y="484.3" width="0.9" height="15.4" opacity="0.5"/><rect x="209.6" y="484.3" width="0.9" height="15.4" opacity="0.5"/><rect x="218" y="484.3" width="0.9" height="15.4" opacity="0.5"/><rect x="218.2" y="484.3" width="0.9" height="15.4" opacity="0.5"/><rect x="219.9" y="484.3" width="0.9" height="15.4" opacity="0.5"/><rect x="227" y="484.3" width="0.9" height="15.4" opacity="0.5"/><rect x="227.6" y="484.3" width="0.9" height="15.4" opacity="0.5"/><rect x="231.6" y="484.3" width="0.9" height="15.4" opacity="0.5"/><rect x="231.7" y="484.3" width="0.9" height="15.4" opacity="0.5"/><rect x="232.7" y="484.3" width="0.9" height="15.4" opacity="0.5"/><rect x="235.9" y="484.3" width="0.9" height="15.4" opacity="0.5"/><rect x="240" y="484.3" width="0.9" height="15.4" opacity="0.5"/><rect x="244.3" y="484.3" width="0.9" height="15.4" opacity="0.5"/><rect x="247" y="484.3" width="0.9" height="15.4" opacity="0.5"/><rect x="248.8" y="484.3" width="0.9" height="15.4" opacity="0.5"/><rect x="254" y="484.3" width="0.9" height="15.4" opacity="0.5"/><rect x="254.8" y="484.3" width="0.9" height="15.4" opacity="0.5"/><rect x="256.2" y="484.3" width="0.9" height="15.4" opacity="0.5"/><rect x="260.4" y="484.3" width="0.9" height="15.4" opacity="0.5"/><rect x="261" y="484.3" width="0.9" height="15.4" opacity="0.5"/><rect x="262.3" y="484.3" width="0.9" height="15.4" opacity="0.5"/><rect x="263.9" y="484.3" width="0.9" height="15.4" opacity="0.5"/><rect x="264.8" y="484.3" width="0.9" height="15.4" opacity="0.5"/><rect x="265" y="484.3" width="0.9" height="15.4" opacity="0.5"/><rect x="267.7" y="484.3" width="0.9" height="15.4" opacity="0.5"/><rect x="269.1" y="484.3" width="0.9" height="15.4" opacity="0.5"/><rect x="270.4" y="484.3" width="0.9" height="15.4" opacity="0.5"/><rect x="273.1" y="484.3" width="0.9" height="15.4" opacity="0.5"/><rect x="275.7" y="484.3" width="0.9" height="15.4" opacity="0.5"/><rect x="276.5" y="484.3" width="0.9" height="15.4" opacity="0.5"/><rect x="280.2" y="484.3" width="0.9" height="15.4" opacity="0.5"/><rect x="280.8" y="484.3" width="0.9" height="15.4" opacity="0.5"/><rect x="281.6" y="484.3" width="0.9" height="15.4" opacity="0.5"/><rect x="285.2" y="484.3" width="0.9" height="15.4" opacity="0.5"/><rect x="286.8" y="484.3" width="0.9" height="15.4" opacity="0.5"/><rect x="291.5" y="484.3" width="0.9" height="15.4" opacity="0.5"/><rect x="291.9" y="484.3" width="0.9" height="15.4" opacity="0.5"/><rect x="296.5" y="484.3" width="0.9" height="15.4" opacity="0.5"/><rect x="297" y="484.3" width="0.9" height="15.4" opacity="0.5"/><rect x="300.3" y="484.3" width="0.9" height="15.4" opacity="0.5"/><rect x="300.9" y="484.3" width="0.9" height="15.4" opacity="0.5"/><rect x="303" y="484.3" width="0.9" height="15.4" opacity="0.5"/><rect x="303.9" y="484.3" width="0.9" height="15.4" opacity="0.5"/><rect x="304.7" y="484.3" width="0.9" height="15.4" opacity="0.5"/><rect x="306.7" y="484.3" width="0.9" height="15.4" opacity="0.5"/><rect x="308.8" y="484.3" width="0.9" height="15.4" opacity="0.5"/><rect x="312.1" y="484.3" width="0.9" height="15.4" opacity="0.5"/><rect x="317.9" y="484.3" width="0.9" height="15.4" opacity="0.5"/><rect x="319.8" y="484.3" width="0.9" height="15.4" opacity="0.5"/><rect x="320.3" y="484.3" width="0.9" height="15.4" opacity="0.5"/><rect x="323.5" y="484.3" width="0.9" height="15.4" opacity="0.5"/><rect x="328" y="484.3" width="0.9" height="15.4" opacity="0.5"/><rect x="330.9" y="484.3" width="0.9" height="15.4" opacity="0.5"/><rect x="333.2" y="484.3" width="0.9" height="15.4" opacity="0.5"/><rect x="333.3" y="484.3" width="0.9" height="15.4" opacity="0.5"/><rect x="333.7" y="484.3" width="0.9" height="15.4" opacity="0.5"/><rect x="335.7" y="484.3" width="0.9" height="15.4" opacity="0.5"/><rect x="338.8" y="484.3" width="0.9" height="15.4" opacity="0.5"/><rect x="347.2" y="484.3" width="0.9" height="15.4" opacity="0.5"/><rect x="356.5" y="484.3" width="0.9" height="15.4" opacity="0.5"/><rect x="377.6" y="484.3" width="0.9" height="15.4" opacity="0.5"/><rect x="393.3" y="484.3" width="0.9" height="15.4" opacity="0.5"/><rect x="403" y="484.3" width="0.9" height="15.4" opacity="0.5"/><rect x="403.2" y="484.3" width="0.9" height="15.4" opacity="0.5"/><rect x="403.7" y="484.3" width="0.9" height="15.4" opacity="0.5"/><rect x="406.4" y="484.3" width="0.9" height="15.4" opacity="0.5"/><rect x="407.4" y="484.3" width="0.9" height="15.4" opacity="0.5"/><rect x="409" y="484.3" width="0.9" height="15.4" opacity="0.5"/><rect x="411.1" y="484.3" width="0.9" height="15.4" opacity="0.5"/><rect x="412.9" y="484.3" width="0.9" height="15.4" opacity="0.5"/><rect x="413.4" y="484.3" width="0.9" height="15.4" opacity="0.5"/><rect x="427.3" y="484.3" width="0.9" height="15.4" opacity="0.5"/><rect x="428.7" y="484.3" width="0.9" height="15.4" opacity="0.5"/><rect x="433.9" y="484.3" width="0.9" height="15.4" opacity="0.5"/><rect x="435.9" y="484.3" width="0.9" height="15.4" opacity="0.5"/><rect x="438.5" y="484.3" width="0.9" height="15.4" opacity="0.5"/><rect x="446.3" y="484.3" width="0.9" height="15.4" opacity="0.5"/><rect x="447.3" y="484.3" width="0.9" height="15.4" opacity="0.5"/><rect x="447.4" y="484.3" width="0.9" height="15.4" opacity="0.5"/><rect x="447.6" y="484.3" width="0.9" height="15.4" opacity="0.5"/><rect x="448.4" y="484.3" width="0.9" height="15.4" opacity="0.5"/><rect x="450" y="484.3" width="0.9" height="15.4" opacity="0.5"/><rect x="450.4" y="484.3" width="0.9" height="15.4" opacity="0.5"/><rect x="450.7" y="484.3" width="0.9" height="15.4" opacity="0.5"/><rect x="452.4" y="484.3" width="0.9" height="15.4" opacity="0.5"/><rect x="452.9" y="484.3" width="0.9" height="15.4" opacity="0.5"/><rect x="455.6" y="484.3" width="0.9" height="15.4" opacity="0.5"/><rect x="456.9" y="484.3" width="0.9" height="15.4" opacity="0.5"/><rect x="457.4" y="484.3" width="0.9" height="15.4" opacity="0.5"/><rect x="458.1" y="484.3" width="0.9" height="15.4" opacity="0.5"/><rect x="459" y="484.3" width="0.9" height="15.4" opacity="0.5"/><rect x="459" y="484.3" width="0.9" height="15.4" opacity="0.5"/><rect x="459.2" y="484.3" width="0.9" height="15.4" opacity="0.5"/><rect x="464" y="484.3" width="0.9" height="15.4" opacity="0.5"/><rect x="465.4" y="484.3" width="0.9" height="15.4" opacity="0.5"/><rect x="465.7" y="484.3" width="0.9" height="15.4" opacity="0.5"/><rect x="467.9" y="484.3" width="0.9" height="15.4" opacity="0.5"/><rect x="473" y="484.3" width="0.9" height="15.4" opacity="0.5"/><rect x="473.7" y="484.3" width="0.9" height="15.4" opacity="0.5"/><rect x="476.6" y="484.3" width="0.9" height="15.4" opacity="0.5"/></g>
<path d="M57.3 499.7L57.3 515.8M57.5 499.7L59.7 515.8M61.8 499.7L62.1 515.8M63.6 499.7L64.5 515.8M64.1 499.7L66.9 515.8M66 499.7L69.3 515.8M71.4 499.7L71.7 515.8M71.4 499.7L74.1 515.8M76.2 499.7L76.5 515.8M80.2 499.7L78.9 515.8M80.3 499.7L81.3 515.8M80.9 499.7L83.7 515.8M81.2 499.7L86.1 515.8M81.6 499.7L88.5 515.8M81.6 499.7L90.9 515.8M86.9 499.7L93.3 515.8M89.8 499.7L95.7 515.8M91.5 499.7L98.1 515.8M92.9 499.7L100.4 515.8M93.8 499.7L102.8 515.8M95.5 499.7L105.2 515.8M97.8 499.7L107.6 515.8M98.6 499.7L110 515.8M118.1 499.7L112.4 515.8M118.4 499.7L114.8 515.8M118.6 499.7L117.2 515.8M118.8 499.7L119.6 515.8M126 499.7L122 515.8M126.2 499.7L124.4 515.8M127.6 499.7L126.8 515.8M128.2 499.7L129.2 515.8M128.5 499.7L131.6 515.8M129.5 499.7L134 515.8M129.6 499.7L136.4 515.8M130.8 499.7L138.8 515.8M130.9 499.7L141.2 515.8M131.5 499.7L143.6 515.8M133.7 499.7L146 515.8M133.8 499.7L148.4 515.8M134.8 499.7L150.8 515.8M134.9 499.7L153.2 515.8M135.6 499.7L155.6 515.8M135.8 499.7L158 515.8M140.4 499.7L160.4 515.8M142.6 499.7L162.8 515.8M147.1 499.7L165.2 515.8M147.1 499.7L167.6 515.8M149.6 499.7L170 515.8M151 499.7L172.4 515.8M155.2 499.7L174.8 515.8M155.2 499.7L177.2 515.8M164 499.7L179.6 515.8M165.3 499.7L182 515.8M168 499.7L184.4 515.8M168.5 499.7L186.7 515.8M168.9 499.7L189.1 515.8M178.7 499.7L191.5 515.8M178.9 499.7L193.9 515.8M179.4 499.7L196.3 515.8M179.4 499.7L198.7 515.8M179.5 499.7L201.1 515.8M179.8 499.7L203.5 515.8M180.3 499.7L205.9 515.8M182.9 499.7L208.3 515.8M186.1 499.7L210.7 515.8M187.2 499.7L213.1 515.8M189.6 499.7L215.5 515.8M191.4 499.7L217.9 515.8M196.2 499.7L220.3 515.8M196.2 499.7L222.7 515.8M196.3 499.7L225.1 515.8M196.4 499.7L227.5 515.8M196.5 499.7L229.9 515.8M196.5 499.7L232.3 515.8M196.7 499.7L234.7 515.8M206.7 499.7L237.1 515.8M206.7 499.7L239.5 515.8M206.7 499.7L241.9 515.8M206.9 499.7L244.3 515.8M207.4 499.7L246.7 515.8M207.7 499.7L249.1 515.8M210.1 499.7L251.5 515.8M218.4 499.7L253.9 515.8M218.6 499.7L256.3 515.8M220.3 499.7L258.7 515.8M227.5 499.7L261.1 515.8M228 499.7L263.5 515.8M232.1 499.7L265.9 515.8M232.1 499.7L268.3 515.8M233.1 499.7L270.7 515.8M236.4 499.7L273 515.8M240.4 499.7L275.4 515.8M244.7 499.7L277.8 515.8M247.5 499.7L280.2 515.8M249.2 499.7L282.6 515.8M254.5 499.7L285 515.8M255.3 499.7L287.4 515.8M256.6 499.7L289.8 515.8M260.8 499.7L292.2 515.8M261.4 499.7L294.6 515.8M262.7 499.7L297 515.8M264.4 499.7L299.4 515.8M265.2 499.7L301.8 515.8M265.5 499.7L304.2 515.8M268.1 499.7L306.6 515.8M269.6 499.7L309 515.8M270.9 499.7L311.4 515.8M273.5 499.7L313.8 515.8M276.2 499.7L316.2 515.8M276.9 499.7L318.6 515.8M280.6 499.7L321 515.8M281.3 499.7L323.4 515.8M282.1 499.7L325.8 515.8M285.7 499.7L328.2 515.8M287.3 499.7L330.6 515.8M292 499.7L333 515.8M292.3 499.7L335.4 515.8M296.9 499.7L337.8 515.8M297.4 499.7L340.2 515.8M300.8 499.7L342.6 515.8M301.4 499.7L345 515.8M303.4 499.7L347.4 515.8M304.3 499.7L349.8 515.8M305.1 499.7L352.2 515.8M307.2 499.7L354.6 515.8M309.3 499.7L357 515.8M312.5 499.7L359.3 515.8M318.4 499.7L361.7 515.8M320.3 499.7L364.1 515.8M320.8 499.7L366.5 515.8M324 499.7L368.9 515.8M328.5 499.7L371.3 515.8M331.3 499.7L373.7 515.8M333.6 499.7L376.1 515.8M333.7 499.7L378.5 515.8M334.2 499.7L380.9 515.8M336.2 499.7L383.3 515.8M339.2 499.7L385.7 515.8M347.7 499.7L388.1 515.8M356.9 499.7L390.5 515.8M378.1 499.7L392.9 515.8M393.7 499.7L395.3 515.8M403.5 499.7L397.7 515.8M403.7 499.7L400.1 515.8M404.2 499.7L402.5 515.8M406.8 499.7L404.9 515.8M407.9 499.7L407.3 515.8M409.4 499.7L409.7 515.8M411.5 499.7L412.1 515.8M413.3 499.7L414.5 515.8M413.9 499.7L416.9 515.8M427.8 499.7L419.3 515.8M429.1 499.7L421.7 515.8M434.3 499.7L424.1 515.8M436.3 499.7L426.5 515.8M438.9 499.7L428.9 515.8M446.7 499.7L431.3 515.8M447.8 499.7L433.7 515.8M447.9 499.7L436.1 515.8M448.1 499.7L438.5 515.8M448.9 499.7L440.9 515.8M450.4 499.7L443.3 515.8M450.8 499.7L445.6 515.8M451.2 499.7L448 515.8M452.9 499.7L450.4 515.8M453.4 499.7L452.8 515.8M456 499.7L455.2 515.8M457.4 499.7L457.6 515.8M457.8 499.7L460 515.8M458.5 499.7L462.4 515.8M459.5 499.7L464.8 515.8M459.5 499.7L467.2 515.8M459.7 499.7L469.6 515.8M464.4 499.7L472 515.8M465.9 499.7L474.4 515.8M466.2 499.7L476.8 515.8M468.3 499.7L479.2 515.8M473.4 499.7L481.6 515.8M474.2 499.7L484 515.8M477.1 499.7L486.4 515.8" stroke="#2aa648" stroke-width="0.65" fill="none"/>
<g transform="matrix(1.1986,-1.0967,1.1986,1.0967,56.1,533.4)">
<path d="M0 3h1v1h-1zM0 40h1v1h-1zM0 42h1v1h-1zM0 50h1v1h-1zM0 54h1v3h-1zM0 66h1v1h-1zM0 78h1v1h-1zM0 120h1v1h-1zM0 126h1v1h-1zM0 158h1v1h-1zM1 22h1v1h-1zM1 33h1v2h-1zM1 51h1v1h-1zM1 68h1v1h-1zM1 146h1v1h-1zM1 149h1v1h-1zM1 171h1v1h-1zM1 174h1v2h-1zM2 3h1v1h-1zM2 14h1v2h-1zM2 37h1v2h-1zM2 53h1v1h-1zM2 101h1v2h-1zM2 104h1v1h-1zM2 116h1v1h-1zM2 161h1v1h-1zM2 163h1v2h-1zM3 28h1v1h-1zM3 45h1v1h-1zM3 65h1v1h-1zM4 17h1v2h-1zM4 31h1v1h-1zM5 16h1v1h-1zM7 46h1v1h-1zM8 34h1v1h-1zM8 44h1v1h-1zM8 51h1v1h-1zM8 59h1v1h-1zM8 70h1v1h-1zM8 76h1v1h-1zM8 85h1v1h-1zM8 91h1v1h-1zM8 102h1v1h-1zM8 108h1v1h-1zM8 112h1v1h-1zM8 122h1v1h-1zM8 144h1v1h-1zM8 157h1v1h-1zM8 161h1v1h-1zM9 22h1v1h-1zM9 28h1v1h-1zM9 44h1v2h-1zM9 53h1v1h-1zM9 56h1v1h-1zM9 59h1v1h-1zM9 65h1v1h-1zM9 67h1v1h-1zM9 70h1v2h-1zM9 73h1v1h-1zM9 91h1v1h-1zM9 105h1v1h-1zM9 107h1v1h-1zM9 109h1v1h-1zM9 111h1v1h-1zM9 117h1v1h-1zM9 126h1v1h-1zM9 139h1v1h-1zM9 147h1v1h-1zM9 151h1v1h-1zM9 169h1v2h-1zM10 23h1v2h-1zM10 33h1v1h-1zM10 44h1v1h-1zM10 67h1v2h-1zM10 71h1v1h-1zM10 91h1v1h-1zM10 173h1v1h-1zM11 15h1v1h-1zM11 40h1v1h-1zM11 50h1v1h-1zM13 26h1v1h-1zM13 35h1v1h-1zM13 68h1v2h-1zM13 71h1v1h-1zM13 75h1v1h-1zM14 26h1v1h-1zM14 28h1v1h-1zM14 40h1v1h-1zM14 44h1v1h-1zM14 46h1v3h-1zM14 61h1v1h-1zM14 85h1v2h-1zM14 92h1v1h-1zM14 94h1v1h-1zM14 105h1v3h-1zM14 112h1v1h-1zM14 124h1v1h-1zM14 126h1v1h-1zM14 166h1v1h-1zM16 51h1v1h-1zM16 71h1v1h-1zM17 167h1v1h-1zM17 179h1v1h-1zM18 46h1v1h-1zM18 52h1v1h-1zM19 31h1v1h-1zM19 34h1v1h-1zM19 48h1v1h-1zM20 47h1v1h-1zM20 49h1v1h-1zM20 53h1v1h-1zM20 64h1v2h-1zM20 72h1v1h-1zM20 78h1v1h-1zM20 85h1v1h-1zM20 88h1v1h-1zM20 92h1v1h-1zM20 130h1v2h-1zM20 156h1v3h-1zM20 161h1v1h-1zM21 22h1v1h-1zM21 27h1v2h-1zM21 33h1v1h-1zM21 39h1v1h-1zM21 47h1v1h-1zM21 60h1v2h-1zM21 101h1v1h-1zM21 103h1v1h-1zM21 121h1v2h-1zM21 129h1v1h-1zM21 131h1v1h-1zM21 146h1v1h-1zM21 149h1v1h-1zM21 151h1v1h-1zM21 157h1v1h-1zM21 163h1v1h-1zM21 177h1v1h-1zM22 24h1v1h-1zM24 44h1v1h-1zM25 32h1v1h-1zM26 62h1v1h-1zM26 68h1v1h-1zM26 107h1v1h-1zM26 110h1v1h-1zM26 130h1v1h-1zM26 158h1v1h-1zM27 71h1v1h-1zM29 35h1v2h-1zM29 39h1v1h-1zM29 46h1v2h-1zM29 50h1v2h-1zM29 85h1v3h-1zM29 93h1v1h-1zM29 109h1v1h-1zM29 111h1v1h-1zM29 117h1v1h-1zM29 125h1v3h-1zM29 133h1v1h-1zM29 141h1v1h-1zM29 143h1v1h-1zM29 145h1v1h-1zM29 149h1v1h-1zM29 151h1v1h-1zM29 161h1v4h-1zM29 166h1v3h-1zM30 32h1v1h-1zM30 38h1v1h-1zM30 48h1v1h-1zM30 50h1v1h-1zM30 59h1v1h-1zM30 65h1v2h-1zM30 72h1v2h-1zM30 110h1v1h-1zM30 115h1v1h-1zM30 140h1v7h-1zM30 148h1v1h-1zM30 150h1v1h-1zM30 152h1v1h-1zM30 158h1v2h-1zM30 162h1v1h-1zM30 167h1v1h-1zM30 170h1v2h-1zM30 174h1v1h-1zM32 37h1v1h-1zM32 52h1v1h-1zM32 60h1v2h-1zM32 68h1v2h-1zM32 113h1v2h-1zM32 116h1v1h-1zM32 139h1v1h-1zM32 156h1v1h-1zM32 179h1v1h-1zM33 41h1v1h-1zM33 47h1v2h-1zM33 55h1v1h-1zM33 93h1v1h-1zM33 95h1v1h-1zM33 112h1v2h-1zM33 121h1v1h-1zM33 173h1v1h-1zM33 175h1v1h-1zM36 44h1v1h-1zM42 55h1v1h-1zM42 72h1v2h-1zM42 85h1v1h-1zM42 107h1v1h-1zM42 110h1v1h-1zM42 112h1v2h-1zM42 116h1v1h-1zM42 120h1v1h-1zM42 122h1v1h-1zM42 176h1v1h-1zM43 46h1v1h-1zM48 50h1v1h-1zM48 62h1v1h-1zM48 64h1v1h-1zM48 66h1v1h-1zM48 74h1v1h-1zM48 96h1v1h-1zM48 106h1v1h-1zM48 111h1v2h-1zM48 114h1v2h-1zM48 120h1v2h-1zM48 124h1v1h-1zM48 131h1v1h-1zM48 156h1v1h-1zM48 162h1v1h-1zM48 164h1v3h-1zM48 168h1v1h-1zM48 170h1v1h-1zM48 172h1v3h-1zM48 176h1v1h-1zM48 178h1v1h-1zM49 65h1v2h-1zM49 101h1v1h-1zM49 105h1v1h-1zM49 134h1v1h-1zM49 173h1v1h-1zM49 175h1v1h-1zM50 126h1v1h-1zM50 130h1v1h-1zM50 170h1v1h-1zM50 173h1v1h-1zM52 110h1v1h-1zM52 176h1v1h-1zM52 178h1v1h-1zM53 85h1v1h-1zM53 91h1v1h-1zM53 121h1v1h-1zM53 133h1v1h-1zM53 152h1v1h-1zM53 156h1v1h-1zM53 169h1v2h-1zM54 86h1v3h-1zM54 103h1v1h-1zM54 105h1v2h-1zM54 110h1v1h-1zM54 121h1v1h-1zM54 142h1v4h-1zM54 156h1v1h-1zM54 165h1v6h-1zM54 175h1v1h-1zM55 75h1v1h-1zM55 91h1v1h-1zM55 101h1v1h-1zM55 103h1v1h-1zM55 109h1v1h-1zM57 75h1v1h-1zM57 77h1v1h-1zM57 79h1v1h-1zM57 85h1v2h-1zM57 91h1v1h-1zM57 93h1v1h-1zM57 95h1v2h-1zM57 98h1v1h-1zM57 111h1v1h-1zM57 115h1v1h-1zM57 127h1v1h-1zM57 130h1v1h-1zM57 157h1v1h-1zM57 177h1v3h-1zM58 86h1v1h-1zM58 88h1v1h-1zM58 94h1v1h-1zM58 100h1v1h-1zM58 102h1v1h-1zM58 105h1v2h-1zM58 109h1v1h-1zM58 126h1v1h-1zM58 170h1v1h-1zM58 172h1v1h-1zM59 142h1v1h-1zM59 152h1v1h-1zM59 164h1v1h-1zM59 167h1v1h-1zM63 64h1v2h-1zM63 67h1v3h-1zM63 75h1v1h-1zM63 78h1v2h-1zM63 94h1v1h-1zM63 108h1v1h-1zM63 121h1v1h-1zM63 131h1v1h-1zM63 139h1v1h-1zM63 156h1v1h-1zM63 162h1v2h-1zM63 169h1v1h-1zM63 177h1v1h-1zM63 179h1v1h-1zM68 76h1v1h-1zM68 100h1v1h-1zM68 108h1v1h-1zM68 112h1v1h-1zM68 121h1v1h-1zM68 126h1v1h-1zM68 141h1v1h-1zM68 164h1v1h-1zM68 173h1v1h-1zM70 74h1v1h-1zM71 125h1v1h-1zM71 162h1v1h-1zM72 87h1v1h-1zM72 94h1v2h-1zM72 100h1v1h-1zM72 130h1v1h-1zM72 140h1v1h-1zM72 142h1v1h-1zM72 144h1v1h-1zM72 147h1v1h-1zM72 150h1v1h-1zM72 178h1v1h-1zM73 87h1v1h-1zM73 93h1v1h-1zM73 121h1v1h-1zM73 126h1v1h-1zM73 132h1v1h-1zM73 134h1v1h-1zM73 139h1v1h-1zM73 161h1v1h-1zM73 163h1v4h-1zM73 168h1v1h-1zM73 175h1v1h-1zM75 109h1v1h-1zM75 113h1v1h-1zM75 115h1v1h-1zM75 117h1v1h-1zM75 155h1v2h-1zM77 79h1v1h-1zM77 82h1v1h-1zM77 87h1v2h-1zM77 92h1v1h-1zM77 143h1v1h-1zM77 145h1v1h-1zM77 149h1v1h-1zM77 157h1v1h-1zM79 83h1v1h-1zM79 95h1v1h-1zM79 107h1v2h-1zM79 111h1v1h-1zM79 113h1v1h-1zM79 115h1v1h-1zM79 117h1v1h-1zM79 169h1v1h-1zM80 85h1v1h-1zM82 130h1v2h-1zM82 157h1v1h-1zM84 88h1v1h-1zM84 104h1v1h-1zM84 140h1v1h-1zM84 158h1v1h-1zM84 160h1v1h-1zM84 164h1v2h-1zM84 167h1v1h-1zM84 178h1v1h-1zM89 90h1v1h-1zM89 108h1v1h-1zM89 111h1v1h-1zM89 113h1v1h-1zM89 159h1v1h-1zM89 163h1v1h-1zM90 152h1v1h-1zM91 160h1v1h-1zM93 176h1v1h-1zM93 178h1v1h-1zM94 144h1v1h-1zM95 171h1v1h-1zM96 150h1v1h-1zM96 176h1v1h-1zM101 105h1v1h-1zM101 112h1v1h-1zM101 114h1v1h-1zM101 116h1v1h-1zM101 123h1v1h-1zM101 136h1v1h-1zM101 138h1v2h-1zM101 148h1v1h-1zM104 130h1v1h-1zM104 146h1v1h-1zM104 151h1v2h-1zM104 174h1v1h-1zM105 107h1v1h-1zM105 110h1v1h-1zM105 113h1v1h-1zM105 139h1v1h-1zM105 142h1v1h-1zM105 144h1v1h-1zM105 156h1v1h-1zM109 121h1v1h-1zM109 123h1v5h-1zM109 131h1v4h-1zM109 145h1v1h-1zM109 157h1v2h-1zM109 161h1v1h-1zM109 177h1v1h-1zM109 179h1v1h-1zM119 121h1v1h-1zM119 139h1v1h-1zM119 147h1v1h-1zM119 151h1v1h-1zM119 161h1v1h-1zM119 169h1v2h-1zM119 179h1v1h-1zM120 121h1v2h-1zM120 129h1v1h-1zM120 146h1v1h-1zM120 156h1v3h-1zM120 163h1v1h-1zM120 173h1v1h-1zM120 175h1v1h-1zM121 126h1v1h-1zM123 125h1v1h-1zM123 132h1v1h-1zM123 134h1v1h-1zM123 146h1v2h-1zM123 149h1v4h-1zM123 156h1v1h-1zM123 159h1v2h-1zM123 177h1v1h-1zM125 129h1v1h-1zM125 133h1v2h-1zM125 145h1v1h-1zM125 147h1v1h-1zM125 161h1v1h-1zM125 166h1v1h-1zM127 169h1v1h-1zM127 176h1v2h-1zM128 132h1v1h-1zM128 134h1v1h-1zM128 160h1v1h-1zM128 164h1v2h-1zM128 167h1v2h-1zM128 171h1v1h-1zM128 173h1v2h-1zM129 139h1v1h-1zM129 146h1v2h-1zM129 151h1v1h-1zM129 156h1v1h-1zM129 163h1v1h-1zM130 132h1v1h-1zM130 134h1v1h-1zM130 136h1v2h-1zM130 148h1v1h-1zM130 156h1v1h-1zM130 158h1v1h-1zM130 161h1v3h-1zM130 171h1v1h-1zM130 174h1v2h-1zM130 178h1v2h-1zM131 139h1v1h-1zM131 141h1v2h-1zM131 145h1v1h-1zM131 169h1v1h-1zM131 177h1v3h-1zM132 134h1v1h-1zM132 142h1v1h-1zM132 146h1v1h-1zM132 148h1v1h-1zM132 150h1v1h-1zM132 152h1v1h-1zM132 164h1v1h-1zM133 134h1v1h-1zM133 139h1v1h-1zM133 143h1v1h-1zM133 157h1v1h-1zM133 167h1v1h-1zM133 173h1v1h-1zM136 166h1v1h-1zM137 161h1v1h-1zM137 164h1v1h-1zM140 149h1v1h-1zM140 159h1v2h-1zM140 174h1v1h-1zM140 176h1v1h-1zM141 166h1v1h-1zM141 171h1v3h-1zM144 160h1v1h-1zM145 151h1v1h-1zM146 152h1v1h-1zM146 160h1v1h-1zM146 171h1v2h-1zM146 176h1v1h-1zM150 156h1v1h-1zM150 164h1v3h-1zM150 176h1v1h-1zM150 178h1v1h-1zM151 161h1v1h-1zM151 166h1v1h-1zM152 170h1v1h-1zM155 159h1v1h-1zM160 162h1v1h-1zM160 179h1v1h-1zM161 166h1v1h-1zM162 163h1v1h-1zM162 166h1v2h-1zM164 166h1v3h-1zM164 170h1v1h-1zM164 176h1v1h-1zM164 179h1v1h-1zM168 171h1v1h-1zM168 173h1v2h-1zM168 176h1v1h-1zM171 175h1v1h-1zM172 174h1v1h-1zM175 179h1v1h-1zM178 179h1v1h-1z" fill="#fff3a6"/>
<path d="M0 2h1v1h-1zM0 4h1v1h-1zM0 16h1v1h-1zM0 21h1v1h-1zM0 31h1v2h-1zM0 34h1v1h-1zM0 39h1v1h-1zM0 41h1v1h-1zM0 44h1v1h-1zM0 53h1v1h-1zM0 62h1v1h-1zM0 64h1v2h-1zM0 72h1v1h-1zM0 85h1v1h-1zM0 91h1v2h-1zM0 96h1v1h-1zM0 100h1v1h-1zM0 102h1v1h-1zM0 106h1v1h-1zM0 112h1v1h-1zM0 124h1v1h-1zM0 130h1v1h-1zM0 132h1v3h-1zM0 156h1v1h-1zM0 162h1v1h-1zM0 168h1v1h-1zM0 170h1v1h-1zM0 176h1v1h-1zM0 178h1v2h-1zM1 27h1v2h-1zM1 32h1v1h-1zM1 35h1v1h-1zM1 53h1v1h-1zM1 61h1v1h-1zM1 63h1v1h-1zM1 67h1v1h-1zM1 70h1v1h-1zM1 85h1v1h-1zM1 91h1v1h-1zM1 107h1v2h-1zM1 111h1v1h-1zM1 115h1v1h-1zM1 125h1v3h-1zM1 150h1v1h-1zM1 152h1v1h-1zM1 157h1v1h-1zM2 4h1v1h-1zM2 11h1v2h-1zM2 41h1v1h-1zM2 88h1v1h-1zM2 100h1v1h-1zM2 110h1v1h-1zM2 147h1v1h-1zM2 152h1v1h-1zM2 158h1v1h-1zM2 165h1v2h-1zM3 19h1v2h-1zM3 24h1v1h-1zM3 66h1v1h-1zM3 101h1v1h-1zM3 173h1v1h-1zM4 52h1v1h-1zM5 8h1v1h-1zM5 32h1v1h-1zM5 46h1v1h-1zM5 51h1v2h-1zM5 65h1v1h-1zM5 86h1v1h-1zM5 91h1v1h-1zM5 93h1v2h-1zM5 126h1v1h-1zM5 141h1v1h-1zM5 143h1v1h-1zM5 161h1v1h-1zM5 175h1v1h-1zM6 8h1v3h-1zM6 19h1v1h-1zM6 33h1v1h-1zM6 38h1v1h-1zM6 40h1v1h-1zM6 52h1v1h-1zM6 64h1v1h-1zM6 66h1v1h-1zM6 70h1v1h-1zM6 87h1v2h-1zM6 120h1v2h-1zM6 124h1v1h-1zM6 134h1v1h-1zM6 161h1v2h-1zM6 173h1v2h-1zM7 16h1v1h-1zM8 10h1v1h-1zM8 13h1v1h-1zM8 16h1v1h-1zM8 22h1v1h-1zM8 28h1v1h-1zM8 30h1v1h-1zM8 40h1v1h-1zM8 43h1v1h-1zM8 46h1v1h-1zM8 50h1v1h-1zM8 52h1v1h-1zM8 66h1v1h-1zM8 68h1v1h-1zM8 78h1v1h-1zM8 92h1v1h-1zM8 96h1v1h-1zM8 105h1v3h-1zM8 110h1v1h-1zM8 114h1v1h-1zM8 116h1v1h-1zM8 120h1v1h-1zM8 126h1v2h-1zM8 140h1v1h-1zM8 142h1v2h-1zM8 149h1v4h-1zM8 158h1v1h-1zM8 162h1v1h-1zM8 176h1v1h-1zM9 27h1v1h-1zM9 33h1v1h-1zM9 37h1v1h-1zM9 39h1v1h-1zM9 42h1v1h-1zM9 47h1v5h-1zM9 54h1v1h-1zM9 77h1v1h-1zM9 79h1v1h-1zM9 87h1v1h-1zM9 96h1v1h-1zM9 101h1v3h-1zM9 110h1v1h-1zM9 113h1v1h-1zM9 121h1v1h-1zM9 127h1v1h-1zM9 129h1v2h-1zM9 133h1v1h-1zM9 161h1v1h-1zM9 163h1v1h-1zM9 166h1v1h-1zM9 168h1v1h-1zM9 172h1v1h-1zM9 174h1v1h-1zM9 179h1v1h-1zM10 17h1v1h-1zM10 20h1v1h-1zM10 22h1v1h-1zM10 28h1v1h-1zM10 31h1v2h-1zM10 36h1v1h-1zM10 45h1v1h-1zM10 50h1v1h-1zM10 54h1v1h-1zM10 69h1v2h-1zM10 77h1v3h-1zM10 86h1v1h-1zM10 96h1v1h-1zM10 100h1v1h-1zM10 106h1v1h-1zM10 128h1v1h-1zM10 157h1v2h-1zM10 160h1v1h-1zM10 167h1v2h-1zM10 172h1v1h-1zM10 175h1v1h-1zM11 132h1v3h-1zM11 140h1v3h-1zM11 144h1v2h-1zM12 50h1v1h-1zM12 134h1v1h-1zM13 47h1v1h-1zM13 49h1v1h-1zM13 53h1v1h-1zM13 67h1v1h-1zM13 74h1v1h-1zM13 76h1v1h-1zM13 79h1v1h-1zM13 85h1v1h-1zM13 94h1v1h-1zM13 96h1v1h-1zM13 129h1v3h-1zM13 145h1v1h-1zM13 158h1v1h-1zM13 171h1v1h-1zM13 173h1v1h-1zM14 16h1v1h-1zM14 18h1v3h-1zM14 23h1v1h-1zM14 30h1v1h-1zM14 34h1v1h-1zM14 36h1v1h-1zM14 49h1v1h-1zM14 52h1v1h-1zM14 60h1v1h-1zM14 64h1v3h-1zM14 100h1v4h-1zM14 109h1v2h-1zM14 116h1v1h-1zM14 120h1v1h-1zM14 122h1v1h-1zM14 127h1v1h-1zM14 130h1v2h-1zM14 146h1v1h-1zM14 150h1v1h-1zM14 152h1v1h-1zM14 156h1v1h-1zM14 160h1v1h-1zM14 164h1v1h-1zM14 167h1v2h-1zM14 176h1v1h-1zM14 178h1v1h-1zM15 21h1v1h-1zM15 52h1v2h-1zM15 79h1v1h-1zM15 171h1v1h-1zM15 173h1v1h-1zM15 175h1v1h-1zM16 29h1v1h-1zM16 32h1v1h-1zM16 47h1v2h-1zM16 68h1v2h-1zM16 78h1v1h-1zM16 110h1v1h-1zM16 117h1v1h-1zM16 126h1v1h-1zM16 172h1v2h-1zM17 25h1v2h-1zM17 34h1v1h-1zM17 51h1v1h-1zM17 79h1v1h-1zM17 85h1v1h-1zM17 123h1v1h-1zM17 126h1v1h-1zM17 147h1v1h-1zM17 149h1v1h-1zM17 153h1v1h-1zM17 157h1v1h-1zM17 163h1v1h-1zM17 165h1v1h-1zM17 171h1v1h-1zM17 173h1v1h-1zM20 30h1v1h-1zM20 39h1v1h-1zM20 44h1v1h-1zM20 48h1v1h-1zM20 50h1v1h-1zM20 61h1v1h-1zM20 63h1v1h-1zM20 66h1v1h-1zM20 68h1v1h-1zM20 70h1v1h-1zM20 96h1v1h-1zM20 102h1v1h-1zM20 104h1v1h-1zM20 108h1v1h-1zM20 110h1v1h-1zM20 118h1v2h-1zM20 124h1v1h-1zM20 134h1v1h-1zM20 140h1v1h-1zM20 145h1v1h-1zM20 163h1v2h-1zM20 166h1v1h-1zM20 168h1v1h-1zM20 174h1v1h-1zM21 31h1v1h-1zM21 37h1v1h-1zM21 43h1v1h-1zM21 53h1v1h-1zM21 55h1v1h-1zM21 59h1v1h-1zM21 63h1v1h-1zM21 72h1v3h-1zM21 85h1v1h-1zM21 87h1v1h-1zM21 91h1v1h-1zM21 105h1v1h-1zM21 120h1v1h-1zM21 124h1v1h-1zM21 139h1v1h-1zM21 144h1v1h-1zM21 147h1v1h-1zM21 159h1v1h-1zM21 161h1v1h-1zM21 170h1v2h-1zM21 173h1v1h-1zM21 175h1v1h-1zM21 179h1v1h-1zM23 63h1v1h-1zM24 36h1v1h-1zM25 36h1v1h-1zM25 159h1v1h-1zM26 30h1v1h-1zM26 35h1v1h-1zM26 40h1v1h-1zM26 66h1v1h-1zM26 69h1v1h-1zM26 71h1v1h-1zM26 100h1v1h-1zM26 106h1v1h-1zM26 108h1v1h-1zM26 112h1v3h-1zM26 116h1v1h-1zM26 124h1v1h-1zM26 128h1v1h-1zM26 132h1v1h-1zM26 134h1v1h-1zM26 140h1v2h-1zM26 145h1v1h-1zM26 159h1v1h-1zM26 164h1v1h-1zM26 166h1v1h-1zM26 168h1v1h-1zM26 171h1v1h-1zM26 175h1v1h-1zM27 32h1v1h-1zM27 39h1v1h-1zM27 53h1v1h-1zM27 67h1v3h-1zM27 79h1v1h-1zM27 92h1v1h-1zM27 128h1v1h-1zM27 130h1v1h-1zM27 161h1v1h-1zM27 175h1v1h-1zM28 29h1v1h-1zM28 132h1v1h-1zM29 31h1v1h-1zM29 37h1v1h-1zM29 40h1v1h-1zM29 43h1v1h-1zM29 49h1v1h-1zM29 65h1v1h-1zM29 73h1v1h-1zM29 75h1v1h-1zM29 91h1v1h-1zM29 95h1v1h-1zM29 121h1v1h-1zM29 123h1v1h-1zM29 128h1v2h-1zM29 179h1v1h-1zM30 35h1v1h-1zM30 46h1v1h-1zM30 54h1v1h-1zM30 56h1v1h-1zM30 62h1v1h-1zM30 64h1v1h-1zM30 68h1v1h-1zM30 76h1v1h-1zM30 85h1v3h-1zM30 89h1v2h-1zM30 106h1v1h-1zM30 108h1v1h-1zM30 111h1v2h-1zM30 116h1v2h-1zM30 124h1v1h-1zM30 157h1v1h-1zM30 160h1v1h-1zM30 164h1v1h-1zM30 172h1v1h-1zM30 177h1v2h-1zM31 100h1v1h-1zM31 177h1v1h-1zM32 38h1v1h-1zM32 56h1v1h-1zM32 64h1v4h-1zM32 70h1v3h-1zM32 94h1v1h-1zM32 96h1v1h-1zM32 101h1v2h-1zM32 104h1v1h-1zM32 106h1v1h-1zM32 108h1v1h-1zM32 110h1v1h-1zM32 112h1v1h-1zM32 126h1v1h-1zM32 128h1v1h-1zM32 140h1v1h-1zM32 142h1v1h-1zM32 144h1v1h-1zM32 146h1v1h-1zM32 152h1v1h-1zM32 165h1v1h-1zM32 168h1v1h-1zM32 170h1v1h-1zM32 177h1v1h-1zM33 39h1v1h-1zM33 42h1v1h-1zM33 53h1v1h-1zM33 71h1v1h-1zM33 74h1v2h-1zM33 79h1v1h-1zM33 91h1v1h-1zM33 107h1v1h-1zM33 111h1v1h-1zM33 115h1v1h-1zM33 117h1v1h-1zM33 139h1v1h-1zM33 141h1v1h-1zM33 146h1v2h-1zM33 150h1v2h-1zM33 159h1v1h-1zM33 165h1v1h-1zM33 167h1v1h-1zM33 177h1v1h-1zM33 179h1v1h-1zM34 36h1v1h-1zM38 43h1v1h-1zM38 64h1v3h-1zM38 127h1v1h-1zM38 160h1v1h-1zM39 42h1v2h-1zM39 46h1v1h-1zM39 78h1v2h-1zM39 129h1v1h-1zM39 168h1v1h-1zM40 88h1v1h-1zM40 128h1v1h-1zM40 162h1v1h-1zM40 164h1v2h-1zM40 172h1v1h-1zM41 102h1v2h-1zM42 47h1v1h-1zM42 51h1v1h-1zM42 56h1v2h-1zM42 59h1v1h-1zM42 62h1v1h-1zM42 64h1v3h-1zM42 86h1v1h-1zM42 94h1v1h-1zM42 96h1v1h-1zM42 100h1v1h-1zM42 106h1v1h-1zM42 108h1v2h-1zM42 111h1v1h-1zM42 115h1v1h-1zM42 128h1v1h-1zM42 134h1v1h-1zM42 146h1v1h-1zM42 152h1v1h-1zM42 163h1v1h-1zM42 177h1v3h-1zM43 48h1v1h-1zM43 61h1v1h-1zM43 63h1v2h-1zM43 66h1v1h-1zM43 75h1v1h-1zM43 88h1v1h-1zM43 127h1v1h-1zM43 131h1v1h-1zM43 159h1v1h-1zM43 163h1v1h-1zM43 173h1v2h-1zM44 104h1v1h-1zM44 120h1v1h-1zM48 60h1v1h-1zM48 63h1v1h-1zM48 78h1v1h-1zM48 92h1v1h-1zM48 94h1v1h-1zM48 104h1v1h-1zM48 108h1v1h-1zM48 110h1v1h-1zM48 116h1v1h-1zM48 128h1v1h-1zM48 130h1v1h-1zM48 132h1v1h-1zM48 144h1v1h-1zM48 146h1v1h-1zM48 150h1v1h-1zM48 157h1v2h-1zM49 53h1v1h-1zM49 64h1v1h-1zM49 69h1v3h-1zM49 74h1v4h-1zM49 79h1v1h-1zM49 93h1v1h-1zM49 103h1v1h-1zM49 114h1v1h-1zM49 116h1v1h-1zM49 127h1v1h-1zM49 131h1v1h-1zM49 133h1v1h-1zM49 157h1v1h-1zM49 161h1v1h-1zM49 163h1v1h-1zM49 172h1v1h-1zM49 174h1v1h-1zM50 78h1v2h-1zM50 122h1v1h-1zM50 128h1v1h-1zM50 158h1v1h-1zM50 162h1v1h-1zM50 171h1v2h-1zM52 61h1v3h-1zM52 68h1v1h-1zM52 78h1v1h-1zM52 100h1v1h-1zM52 106h1v1h-1zM52 108h1v1h-1zM52 114h1v1h-1zM52 116h1v1h-1zM52 120h1v1h-1zM52 124h1v2h-1zM52 127h1v1h-1zM52 145h1v2h-1zM52 156h1v3h-1zM52 160h1v1h-1zM52 171h1v1h-1zM52 173h1v3h-1zM52 179h1v1h-1zM53 55h1v1h-1zM53 74h1v1h-1zM53 102h1v1h-1zM53 105h1v1h-1zM53 129h1v1h-1zM53 139h1v1h-1zM53 143h1v2h-1zM53 149h1v1h-1zM53 151h1v1h-1zM53 165h1v1h-1zM53 167h1v1h-1zM53 176h1v3h-1zM54 68h1v1h-1zM54 70h1v1h-1zM54 94h1v2h-1zM54 100h1v1h-1zM54 102h1v1h-1zM54 104h1v1h-1zM54 108h1v1h-1zM54 116h1v1h-1zM54 120h1v1h-1zM54 122h1v1h-1zM54 124h1v1h-1zM54 130h1v1h-1zM54 148h1v1h-1zM54 150h1v3h-1zM54 159h1v2h-1zM54 174h1v1h-1zM54 176h1v1h-1zM54 178h1v1h-1zM55 60h1v1h-1zM55 68h1v2h-1zM55 85h1v2h-1zM55 105h1v1h-1zM55 111h1v1h-1zM55 131h1v1h-1zM55 139h1v2h-1zM55 142h1v4h-1zM55 152h1v1h-1zM55 158h1v2h-1zM55 162h1v2h-1zM56 126h1v1h-1zM57 63h1v1h-1zM57 78h1v1h-1zM57 99h1v1h-1zM57 109h1v1h-1zM57 113h1v1h-1zM57 117h1v1h-1zM57 120h1v2h-1zM57 125h1v1h-1zM57 129h1v1h-1zM57 139h1v1h-1zM57 142h1v1h-1zM57 145h1v1h-1zM57 147h1v1h-1zM57 149h1v4h-1zM57 164h1v1h-1zM57 166h1v4h-1zM58 63h1v1h-1zM58 96h1v1h-1zM58 101h1v1h-1zM58 104h1v1h-1zM58 108h1v1h-1zM58 110h1v1h-1zM58 112h1v1h-1zM58 114h1v1h-1zM58 116h1v1h-1zM58 123h1v2h-1zM58 128h1v1h-1zM58 130h1v3h-1zM58 140h1v1h-1zM58 144h1v1h-1zM58 174h1v1h-1zM59 75h1v1h-1zM59 91h1v1h-1zM59 107h1v1h-1zM59 111h1v1h-1zM59 114h1v4h-1zM59 140h1v2h-1zM59 144h1v4h-1zM59 150h1v2h-1zM59 163h1v1h-1zM59 165h1v2h-1zM59 169h1v1h-1zM59 173h1v1h-1zM60 101h1v1h-1zM60 104h1v1h-1zM63 66h1v1h-1zM63 70h1v2h-1zM63 77h1v1h-1zM63 87h1v1h-1zM63 91h1v1h-1zM63 105h1v2h-1zM63 109h1v1h-1zM63 111h1v1h-1zM63 114h1v1h-1zM63 117h1v1h-1zM63 133h1v1h-1zM63 145h1v1h-1zM63 160h1v2h-1zM63 165h1v1h-1zM63 167h1v1h-1zM64 68h1v1h-1zM64 70h1v1h-1zM64 92h1v1h-1zM64 94h1v1h-1zM64 102h1v4h-1zM64 108h1v1h-1zM64 110h1v1h-1zM64 114h1v1h-1zM64 116h1v1h-1zM64 121h1v1h-1zM64 130h1v1h-1zM64 133h1v1h-1zM65 91h1v1h-1zM65 160h1v1h-1zM68 74h1v2h-1zM68 106h1v1h-1zM68 110h1v1h-1zM68 114h1v1h-1zM68 116h1v1h-1zM68 120h1v1h-1zM68 122h1v1h-1zM68 124h1v2h-1zM68 140h1v1h-1zM68 142h1v4h-1zM68 147h1v1h-1zM68 152h1v1h-1zM68 166h1v1h-1zM68 168h1v1h-1zM68 172h1v1h-1zM68 174h1v2h-1zM71 100h1v3h-1zM71 107h1v1h-1zM71 111h1v1h-1zM71 117h1v1h-1zM71 127h1v1h-1zM71 145h1v1h-1zM71 161h1v1h-1zM71 163h1v1h-1zM72 73h1v1h-1zM72 86h1v1h-1zM72 88h1v1h-1zM72 102h1v1h-1zM72 109h1v1h-1zM72 114h1v1h-1zM72 123h1v2h-1zM72 126h1v2h-1zM72 132h1v1h-1zM72 139h1v1h-1zM72 146h1v1h-1zM72 151h1v2h-1zM72 158h1v2h-1zM72 164h1v1h-1zM72 168h1v1h-1zM72 171h1v1h-1zM72 173h1v1h-1zM72 176h1v1h-1zM73 124h1v1h-1zM73 144h1v1h-1zM73 147h1v1h-1zM73 156h1v1h-1zM73 167h1v1h-1zM73 171h1v1h-1zM73 173h1v1h-1zM75 107h1v1h-1zM75 111h1v1h-1zM77 126h1v2h-1zM77 131h1v1h-1zM77 139h1v1h-1zM77 141h1v1h-1zM77 151h1v2h-1zM77 159h1v1h-1zM77 169h1v2h-1zM77 173h1v1h-1zM78 126h1v1h-1zM78 130h1v1h-1zM78 155h1v2h-1zM78 162h1v1h-1zM79 86h1v1h-1zM79 88h1v1h-1zM79 93h1v2h-1zM79 96h1v1h-1zM79 106h1v1h-1zM79 109h1v2h-1zM79 112h1v1h-1zM79 114h1v1h-1zM79 124h1v1h-1zM79 155h1v1h-1zM79 161h1v1h-1zM79 167h1v1h-1zM79 176h1v1h-1zM82 158h1v1h-1zM83 95h1v1h-1zM83 131h1v1h-1zM83 151h1v1h-1zM83 171h1v2h-1zM84 102h1v1h-1zM84 105h1v2h-1zM84 108h1v1h-1zM84 113h1v5h-1zM84 126h1v3h-1zM84 141h1v1h-1zM84 143h1v1h-1zM84 159h1v1h-1zM84 166h1v1h-1zM84 168h1v1h-1zM84 170h1v1h-1zM84 172h1v2h-1zM84 175h1v2h-1zM86 149h1v1h-1zM88 125h1v1h-1zM88 127h1v1h-1zM89 106h1v1h-1zM89 110h1v1h-1zM89 115h1v3h-1zM89 121h1v1h-1zM89 133h1v2h-1zM89 141h1v1h-1zM89 143h1v1h-1zM89 147h1v1h-1zM89 149h1v2h-1zM89 161h1v1h-1zM90 91h1v2h-1zM90 122h1v1h-1zM90 132h1v1h-1zM90 146h1v1h-1zM90 164h1v3h-1zM90 169h1v1h-1zM90 174h1v2h-1zM91 121h1v1h-1zM91 123h1v1h-1zM91 125h1v1h-1zM91 140h1v1h-1zM91 142h1v2h-1zM91 145h1v1h-1zM91 159h1v1h-1zM91 163h1v1h-1zM94 150h1v2h-1zM94 161h1v3h-1zM94 170h1v1h-1zM94 172h1v1h-1zM95 101h1v2h-1zM95 105h1v1h-1zM95 127h1v2h-1zM95 175h1v1h-1zM96 141h1v1h-1zM96 143h1v1h-1zM96 145h1v2h-1zM96 148h1v1h-1zM96 177h1v3h-1zM100 130h1v1h-1zM100 166h1v1h-1zM101 106h1v2h-1zM101 109h1v3h-1zM101 113h1v1h-1zM101 115h1v1h-1zM101 124h1v1h-1zM101 131h1v1h-1zM101 137h1v1h-1zM101 146h1v1h-1zM101 149h1v2h-1zM101 152h1v1h-1zM101 157h1v1h-1zM102 152h1v1h-1zM102 164h1v1h-1zM102 166h1v1h-1zM104 124h1v1h-1zM104 140h1v1h-1zM104 142h1v1h-1zM104 144h1v1h-1zM104 148h1v1h-1zM104 150h1v1h-1zM104 156h1v1h-1zM104 159h1v1h-1zM105 106h1v1h-1zM105 109h1v1h-1zM105 115h1v1h-1zM105 117h1v1h-1zM105 125h1v2h-1zM105 133h1v1h-1zM105 147h1v1h-1zM105 157h1v1h-1zM105 177h1v1h-1zM105 179h1v1h-1zM106 107h1v1h-1zM109 110h1v1h-1zM109 113h1v1h-1zM109 115h1v1h-1zM109 128h1v2h-1zM109 141h1v1h-1zM109 143h1v1h-1zM113 146h1v3h-1zM113 151h1v1h-1zM113 169h1v1h-1zM114 170h1v1h-1zM115 140h1v1h-1zM115 165h1v1h-1zM116 130h1v2h-1zM116 158h1v1h-1zM117 146h1v1h-1zM118 141h1v1h-1zM118 144h1v2h-1zM118 159h1v2h-1zM118 162h1v3h-1zM118 166h1v1h-1zM118 178h1v1h-1zM119 124h1v1h-1zM119 133h1v1h-1zM119 141h1v1h-1zM119 145h1v1h-1zM119 149h1v1h-1zM119 157h1v2h-1zM119 163h1v1h-1zM119 171h1v1h-1zM120 131h1v3h-1zM120 139h1v1h-1zM120 150h1v1h-1zM120 162h1v1h-1zM120 172h1v1h-1zM120 178h1v2h-1zM121 128h1v1h-1zM122 124h1v2h-1zM123 129h1v1h-1zM123 133h1v1h-1zM123 148h1v1h-1zM123 158h1v1h-1zM123 163h1v1h-1zM123 165h1v1h-1zM123 167h1v1h-1zM123 169h1v3h-1zM123 173h1v1h-1zM123 175h1v1h-1zM123 179h1v1h-1zM124 127h1v1h-1zM124 174h1v1h-1zM125 131h1v1h-1zM125 143h1v1h-1zM125 149h1v1h-1zM125 151h1v2h-1zM125 163h1v2h-1zM125 167h1v2h-1zM125 171h1v1h-1zM125 177h1v1h-1zM125 179h1v1h-1zM126 128h1v1h-1zM126 133h1v2h-1zM126 164h1v2h-1zM127 128h1v2h-1zM127 139h1v1h-1zM127 146h1v2h-1zM127 149h1v1h-1zM127 151h1v1h-1zM127 160h1v1h-1zM127 178h1v2h-1zM128 156h1v1h-1zM128 158h1v1h-1zM128 166h1v1h-1zM128 176h1v1h-1zM128 178h1v2h-1zM129 131h1v1h-1zM129 133h1v1h-1zM129 149h1v1h-1zM129 179h1v1h-1zM130 138h1v1h-1zM130 141h1v1h-1zM130 144h1v1h-1zM130 146h1v1h-1zM130 150h1v1h-1zM130 152h1v1h-1zM130 160h1v1h-1zM130 164h1v5h-1zM130 173h1v1h-1zM131 162h1v1h-1zM131 167h1v1h-1zM131 172h1v1h-1zM132 139h1v3h-1zM132 144h1v1h-1zM132 160h1v1h-1zM132 170h1v1h-1zM132 177h1v2h-1zM133 141h1v1h-1zM133 144h1v1h-1zM133 164h1v2h-1zM133 171h1v1h-1zM133 177h1v1h-1zM137 148h1v1h-1zM137 159h1v1h-1zM138 159h1v1h-1zM139 159h1v1h-1zM139 163h1v1h-1zM139 166h1v2h-1zM139 179h1v1h-1zM140 158h1v1h-1zM140 178h1v1h-1zM141 149h1v1h-1zM141 151h1v1h-1zM141 157h1v1h-1zM141 164h1v2h-1zM141 167h1v1h-1zM141 174h1v2h-1zM144 147h1v1h-1zM144 149h1v1h-1zM144 165h1v1h-1zM144 178h1v1h-1zM145 168h1v1h-1zM146 150h1v2h-1zM146 155h1v1h-1zM146 159h1v1h-1zM146 162h1v2h-1zM146 169h1v1h-1zM146 174h1v1h-1zM148 166h1v1h-1zM148 169h1v1h-1zM148 171h1v1h-1zM148 174h1v1h-1zM149 158h1v1h-1zM150 152h1v1h-1zM150 162h1v1h-1zM151 163h1v1h-1zM151 169h1v2h-1zM151 173h1v1h-1zM151 175h1v1h-1zM152 156h1v1h-1zM152 169h1v1h-1zM153 161h1v1h-1zM160 161h1v1h-1zM160 164h1v4h-1zM160 171h1v2h-1zM160 176h1v2h-1zM162 168h1v1h-1zM162 172h1v3h-1zM162 176h1v2h-1zM163 169h1v1h-1zM164 172h1v1h-1zM164 177h1v1h-1zM168 172h1v1h-1zM168 178h1v1h-1zM169 170h1v2h-1zM169 173h1v1h-1zM169 175h1v1h-1zM171 172h1v3h-1zM172 178h1v1h-1zM175 176h1v2h-1zM176 177h1v1h-1z" fill="#ffe14a"/>
<path d="M0 18h1v3h-1zM0 35h1v2h-1zM0 49h1v1h-1zM0 68h1v1h-1zM0 86h1v1h-1zM0 104h1v1h-1zM0 108h1v1h-1zM0 116h1v1h-1zM0 160h1v1h-1zM0 165h1v1h-1zM0 177h1v1h-1zM1 19h1v1h-1zM1 21h1v1h-1zM1 45h1v1h-1zM1 49h1v1h-1zM1 65h1v1h-1zM1 69h1v1h-1zM1 93h1v1h-1zM1 96h1v1h-1zM1 103h1v1h-1zM1 105h1v1h-1zM1 109h1v1h-1zM1 113h1v1h-1zM1 121h1v1h-1zM1 165h1v1h-1zM2 6h1v1h-1zM2 13h1v1h-1zM2 26h1v2h-1zM2 29h1v1h-1zM2 31h1v1h-1zM2 42h1v1h-1zM2 44h1v1h-1zM2 57h1v1h-1zM2 63h1v1h-1zM2 92h1v1h-1zM2 112h1v1h-1zM2 142h1v1h-1zM2 151h1v1h-1zM2 154h1v1h-1zM2 176h1v1h-1zM2 178h1v1h-1zM3 17h1v1h-1zM3 64h1v1h-1zM4 20h1v1h-1zM4 30h1v1h-1zM5 10h1v1h-1zM5 30h1v2h-1zM5 59h1v1h-1zM5 64h1v1h-1zM5 66h1v1h-1zM5 123h1v1h-1zM5 125h1v1h-1zM5 139h1v1h-1zM5 165h1v1h-1zM5 171h1v1h-1zM5 174h1v1h-1zM6 7h1v1h-1zM6 17h1v2h-1zM6 27h1v1h-1zM6 32h1v1h-1zM6 34h1v1h-1zM6 50h1v2h-1zM6 68h1v1h-1zM6 85h1v2h-1zM6 92h1v1h-1zM6 94h1v1h-1zM6 106h1v1h-1zM6 110h1v1h-1zM6 114h1v2h-1zM6 129h1v1h-1zM6 133h1v1h-1zM6 150h1v1h-1zM6 171h1v2h-1zM6 175h1v1h-1zM6 179h1v1h-1zM7 17h1v1h-1zM7 59h1v1h-1zM7 74h1v1h-1zM8 29h1v1h-1zM8 45h1v1h-1zM8 48h1v1h-1zM8 54h1v1h-1zM8 56h1v1h-1zM8 128h1v1h-1zM8 130h1v1h-1zM8 147h1v1h-1zM8 166h1v1h-1zM8 170h1v1h-1zM8 174h1v1h-1zM8 178h1v1h-1zM9 20h1v1h-1zM9 26h1v1h-1zM9 32h1v1h-1zM9 104h1v1h-1zM9 159h1v1h-1zM9 165h1v1h-1zM9 167h1v1h-1zM9 177h1v1h-1zM10 21h1v1h-1zM10 30h1v1h-1zM10 72h1v1h-1zM10 92h1v1h-1zM10 101h1v1h-1zM10 110h1v1h-1zM10 112h1v1h-1zM10 122h1v1h-1zM10 150h1v1h-1zM10 162h1v1h-1zM10 166h1v1h-1zM11 25h1v1h-1zM11 27h1v1h-1zM11 37h1v1h-1zM11 47h1v1h-1zM13 40h1v2h-1zM13 46h1v1h-1zM13 70h1v1h-1zM13 77h1v1h-1zM13 87h1v1h-1zM13 159h1v1h-1zM13 179h1v1h-1zM14 32h1v1h-1zM14 50h1v1h-1zM14 74h1v1h-1zM14 78h1v2h-1zM14 128h1v1h-1zM14 140h1v1h-1zM14 142h1v1h-1zM14 148h1v1h-1zM15 39h1v1h-1zM15 134h1v1h-1zM15 137h1v1h-1zM15 159h1v1h-1zM16 34h1v1h-1zM16 49h1v1h-1zM16 56h1v1h-1zM16 67h1v1h-1zM16 70h1v1h-1zM16 77h1v1h-1zM16 106h1v1h-1zM16 113h1v1h-1zM16 125h1v1h-1zM16 146h1v1h-1zM16 152h1v1h-1zM16 159h1v1h-1zM16 175h1v1h-1zM17 20h1v1h-1zM17 23h1v1h-1zM17 27h1v1h-1zM17 29h1v1h-1zM17 33h1v1h-1zM17 47h1v2h-1zM17 54h1v1h-1zM17 56h1v1h-1zM17 73h1v1h-1zM17 77h1v1h-1zM17 91h1v1h-1zM17 95h1v1h-1zM17 104h1v2h-1zM17 125h1v1h-1zM17 151h1v1h-1zM17 158h1v1h-1zM17 161h1v1h-1zM17 175h1v1h-1zM19 47h1v1h-1zM20 54h1v1h-1zM20 67h1v1h-1zM20 93h1v1h-1zM20 103h1v1h-1zM20 114h1v1h-1zM20 116h1v1h-1zM20 122h1v1h-1zM20 132h1v1h-1zM20 146h1v1h-1zM20 150h1v1h-1zM20 152h1v1h-1zM20 162h1v1h-1zM20 172h1v1h-1zM21 29h1v2h-1zM21 45h1v1h-1zM21 68h1v1h-1zM21 70h1v1h-1zM21 76h1v1h-1zM22 39h1v1h-1zM22 88h1v1h-1zM22 140h1v1h-1zM22 142h1v1h-1zM22 170h1v1h-1zM24 29h1v1h-1zM24 173h1v2h-1zM25 31h1v1h-1zM26 28h1v1h-1zM26 33h1v2h-1zM26 41h1v1h-1zM26 45h1v1h-1zM26 48h1v1h-1zM26 52h1v1h-1zM26 101h1v1h-1zM26 121h1v2h-1zM26 142h1v2h-1zM26 160h1v3h-1zM26 169h1v2h-1zM27 29h1v1h-1zM27 33h1v1h-1zM27 60h1v1h-1zM27 65h1v1h-1zM27 74h1v1h-1zM27 77h1v1h-1zM27 91h1v1h-1zM27 126h1v2h-1zM27 129h1v1h-1zM27 131h1v1h-1zM27 157h1v1h-1zM27 160h1v1h-1zM27 162h1v2h-1zM28 46h1v1h-1zM28 72h1v1h-1zM28 147h1v1h-1zM28 151h1v2h-1zM28 174h1v1h-1zM29 45h1v1h-1zM29 48h1v1h-1zM29 67h1v1h-1zM29 70h1v1h-1zM29 139h1v1h-1zM29 157h1v1h-1zM30 36h1v1h-1zM30 40h1v2h-1zM30 55h1v1h-1zM30 78h1v1h-1zM30 96h1v1h-1zM30 100h1v1h-1zM30 165h1v2h-1zM30 168h1v1h-1zM30 176h1v1h-1zM30 179h1v1h-1zM31 39h1v2h-1zM31 43h1v1h-1zM31 45h1v2h-1zM31 64h1v1h-1zM31 66h1v1h-1zM31 69h1v2h-1zM31 102h1v1h-1zM32 34h1v1h-1zM32 48h1v1h-1zM32 93h1v1h-1zM32 120h1v1h-1zM32 127h1v1h-1zM32 132h1v1h-1zM32 150h1v1h-1zM32 166h1v1h-1zM32 176h1v1h-1zM32 178h1v1h-1zM33 35h1v1h-1zM33 37h1v1h-1zM33 59h1v1h-1zM33 63h1v1h-1zM33 72h1v2h-1zM33 76h1v1h-1zM33 104h1v1h-1zM33 133h1v1h-1zM33 144h1v2h-1zM33 148h1v1h-1zM33 152h1v1h-1zM33 160h1v1h-1zM33 178h1v1h-1zM34 144h1v1h-1zM34 158h1v1h-1zM38 45h1v1h-1zM38 63h1v1h-1zM38 70h1v1h-1zM38 88h1v1h-1zM38 159h1v1h-1zM38 173h1v1h-1zM39 44h1v1h-1zM39 51h1v1h-1zM39 131h1v1h-1zM39 139h1v2h-1zM39 142h1v2h-1zM39 163h1v1h-1zM39 167h1v1h-1zM39 169h1v1h-1zM39 179h1v1h-1zM40 48h1v1h-1zM41 50h1v1h-1zM41 79h1v1h-1zM41 85h1v1h-1zM41 104h1v1h-1zM41 132h1v2h-1zM41 163h1v1h-1zM42 46h1v1h-1zM42 50h1v1h-1zM42 63h1v1h-1zM42 87h1v2h-1zM42 126h1v1h-1zM42 130h1v1h-1zM42 132h1v1h-1zM42 139h1v2h-1zM42 142h1v1h-1zM42 148h1v1h-1zM42 162h1v1h-1zM42 165h1v1h-1zM42 167h1v1h-1zM43 51h1v1h-1zM43 69h1v1h-1zM43 86h1v2h-1zM43 125h1v2h-1zM43 130h1v1h-1zM43 175h1v1h-1zM44 50h1v2h-1zM44 68h1v1h-1zM44 159h1v1h-1zM44 170h1v1h-1zM44 172h1v1h-1zM45 51h1v1h-1zM45 73h1v1h-1zM45 77h1v2h-1zM46 77h1v3h-1zM46 176h1v1h-1zM47 167h1v1h-1zM48 102h1v2h-1zM48 134h1v1h-1zM48 140h1v1h-1zM48 148h1v1h-1zM48 152h1v1h-1zM49 51h1v1h-1zM49 54h1v1h-1zM49 63h1v1h-1zM49 67h1v1h-1zM49 107h1v1h-1zM49 110h1v2h-1zM49 121h1v1h-1zM49 160h1v1h-1zM49 162h1v1h-1zM49 167h1v1h-1zM49 169h1v2h-1zM49 176h1v1h-1zM49 178h1v1h-1zM50 52h1v1h-1zM50 88h1v1h-1zM50 92h1v1h-1zM50 121h1v1h-1zM50 169h1v1h-1zM50 174h1v2h-1zM50 179h1v1h-1zM51 93h1v1h-1zM51 129h1v1h-1zM51 172h1v1h-1zM51 174h1v1h-1zM52 60h1v1h-1zM52 70h1v2h-1zM52 121h1v2h-1zM52 126h1v1h-1zM52 140h1v1h-1zM52 142h1v1h-1zM52 150h1v1h-1zM52 162h1v1h-1zM52 172h1v1h-1zM53 63h1v1h-1zM53 76h1v1h-1zM53 101h1v1h-1zM53 104h1v1h-1zM53 145h1v1h-1zM53 147h1v1h-1zM53 158h1v1h-1zM54 56h1v1h-1zM54 133h1v2h-1zM54 172h1v2h-1zM55 64h1v1h-1zM55 70h1v1h-1zM55 88h1v1h-1zM55 117h1v1h-1zM55 132h1v1h-1zM55 141h1v1h-1zM55 146h1v1h-1zM55 148h1v1h-1zM55 150h1v2h-1zM55 157h1v1h-1zM55 176h1v1h-1zM56 63h1v1h-1zM56 158h1v1h-1zM57 69h1v1h-1zM57 128h1v1h-1zM57 141h1v1h-1zM57 146h1v1h-1zM57 161h1v1h-1zM57 163h1v1h-1zM57 165h1v1h-1zM58 142h1v1h-1zM58 176h1v1h-1zM59 63h1v1h-1zM59 65h1v1h-1zM59 67h1v1h-1zM59 93h1v1h-1zM59 100h1v1h-1zM59 112h1v1h-1zM59 123h1v1h-1zM59 131h1v1h-1zM59 170h1v1h-1zM59 172h1v1h-1zM59 174h1v2h-1zM62 76h1v1h-1zM62 88h1v1h-1zM62 130h1v1h-1zM62 139h1v1h-1zM62 157h1v2h-1zM63 93h1v1h-1zM63 95h1v1h-1zM63 143h1v1h-1zM64 79h1v1h-1zM64 88h1v1h-1zM64 95h1v1h-1zM64 106h1v1h-1zM64 112h1v2h-1zM64 118h1v1h-1zM64 132h1v1h-1zM64 134h1v1h-1zM64 152h1v1h-1zM64 158h1v1h-1zM65 68h1v1h-1zM65 71h1v1h-1zM65 92h1v1h-1zM65 159h1v1h-1zM67 102h1v1h-1zM67 129h1v1h-1zM67 140h1v1h-1zM67 168h1v1h-1zM68 127h1v2h-1zM68 130h1v1h-1zM68 149h1v1h-1zM68 151h1v1h-1zM68 156h1v1h-1zM68 159h1v1h-1zM68 162h1v2h-1zM68 167h1v1h-1zM70 168h1v1h-1zM71 72h1v1h-1zM71 103h1v1h-1zM71 105h1v2h-1zM71 120h1v1h-1zM71 171h1v3h-1zM71 175h1v1h-1zM71 177h1v1h-1zM71 179h1v1h-1zM72 91h1v1h-1zM72 120h1v1h-1zM72 122h1v1h-1zM72 148h1v1h-1zM72 155h1v2h-1zM72 160h1v1h-1zM72 166h1v1h-1zM73 95h1v1h-1zM73 123h1v1h-1zM73 125h1v1h-1zM73 127h1v2h-1zM73 143h1v1h-1zM73 145h1v1h-1zM73 149h1v1h-1zM73 152h1v1h-1zM73 155h1v1h-1zM74 85h1v1h-1zM74 104h1v1h-1zM74 139h1v1h-1zM74 148h1v1h-1zM74 158h1v1h-1zM77 132h1v1h-1zM77 161h1v1h-1zM77 166h1v2h-1zM77 172h1v1h-1zM77 175h1v1h-1zM77 178h1v1h-1zM78 96h1v1h-1zM78 127h1v3h-1zM78 140h1v1h-1zM78 142h1v1h-1zM78 144h1v1h-1zM79 87h1v1h-1zM79 123h1v1h-1zM79 125h1v1h-1zM79 127h1v1h-1zM79 133h1v1h-1zM79 139h1v1h-1zM79 142h1v1h-1zM79 165h1v1h-1zM82 84h1v1h-1zM83 87h1v1h-1zM83 93h1v2h-1zM83 154h1v1h-1zM83 175h1v1h-1zM84 87h1v1h-1zM84 92h1v1h-1zM84 103h1v1h-1zM84 109h1v2h-1zM84 112h1v1h-1zM84 144h1v2h-1zM84 148h1v1h-1zM84 162h1v1h-1zM84 171h1v1h-1zM84 174h1v1h-1zM85 132h1v1h-1zM88 120h1v1h-1zM88 161h1v1h-1zM89 107h1v1h-1zM89 109h1v1h-1zM89 112h1v1h-1zM89 114h1v1h-1zM89 122h1v1h-1zM89 132h1v1h-1zM89 145h1v1h-1zM89 165h1v1h-1zM89 171h1v1h-1zM89 177h1v1h-1zM89 179h1v1h-1zM90 112h1v1h-1zM90 114h1v1h-1zM90 128h1v1h-1zM90 144h1v1h-1zM90 158h1v1h-1zM90 167h1v1h-1zM90 170h1v1h-1zM91 122h1v1h-1zM91 126h1v2h-1zM91 161h1v1h-1zM92 112h1v1h-1zM92 116h1v1h-1zM94 95h1v1h-1zM94 124h1v1h-1zM94 128h1v2h-1zM94 132h1v1h-1zM94 142h1v1h-1zM94 156h1v1h-1zM94 169h1v1h-1zM94 175h1v1h-1zM95 120h1v1h-1zM95 125h1v1h-1zM95 129h1v3h-1zM95 157h1v1h-1zM95 159h1v2h-1zM95 162h1v1h-1zM95 164h1v2h-1zM95 169h1v1h-1zM95 172h1v2h-1zM95 176h1v2h-1zM96 144h1v1h-1zM96 164h1v1h-1zM96 166h1v1h-1zM100 113h1v1h-1zM100 128h1v1h-1zM100 146h1v1h-1zM100 165h1v1h-1zM101 133h1v1h-1zM101 151h1v1h-1zM101 161h1v1h-1zM101 165h1v1h-1zM101 167h1v1h-1zM101 169h1v1h-1zM101 171h1v1h-1zM101 175h1v2h-1zM102 126h1v1h-1zM102 162h1v1h-1zM103 169h1v1h-1zM104 126h1v2h-1zM104 160h1v1h-1zM104 163h1v1h-1zM105 121h1v1h-1zM105 123h1v1h-1zM105 127h1v1h-1zM105 131h1v1h-1zM107 131h1v2h-1zM107 159h1v1h-1zM109 116h1v1h-1zM109 167h1v1h-1zM110 171h1v1h-1zM113 117h1v1h-1zM113 126h1v1h-1zM113 149h1v2h-1zM113 152h1v1h-1zM113 170h1v1h-1zM114 126h1v1h-1zM114 146h1v1h-1zM114 151h1v2h-1zM114 160h1v1h-1zM114 168h1v1h-1zM114 179h1v1h-1zM115 116h1v1h-1zM115 124h1v1h-1zM115 131h1v1h-1zM115 141h1v2h-1zM115 146h1v1h-1zM115 153h1v1h-1zM115 156h1v1h-1zM116 144h1v1h-1zM116 160h1v1h-1zM117 120h1v1h-1zM117 139h1v1h-1zM117 151h1v1h-1zM117 158h1v1h-1zM118 132h1v1h-1zM118 134h1v1h-1zM118 140h1v1h-1zM118 143h1v1h-1zM118 168h1v1h-1zM119 131h1v1h-1zM119 142h1v1h-1zM119 144h1v1h-1zM119 167h1v1h-1zM119 172h1v2h-1zM119 175h1v1h-1zM120 126h1v1h-1zM120 130h1v1h-1zM120 148h1v1h-1zM120 160h1v1h-1zM120 177h1v1h-1zM123 128h1v1h-1zM123 131h1v1h-1zM124 144h1v1h-1zM124 152h1v1h-1zM124 170h1v1h-1zM124 172h1v2h-1zM125 148h1v1h-1zM125 172h1v1h-1zM125 174h1v1h-1zM127 133h1v1h-1zM127 153h1v1h-1zM127 159h1v1h-1zM128 130h1v1h-1zM128 142h1v1h-1zM128 152h1v1h-1zM129 157h1v1h-1zM129 169h1v1h-1zM129 172h1v1h-1zM129 178h1v1h-1zM130 142h1v1h-1zM130 159h1v1h-1zM131 163h1v1h-1zM134 152h1v1h-1zM138 160h1v1h-1zM139 157h1v1h-1zM139 177h1v1h-1zM140 144h1v1h-1zM140 157h1v1h-1zM141 143h1v1h-1zM141 145h1v1h-1zM142 176h1v1h-1zM143 165h1v1h-1zM143 168h1v1h-1zM144 145h1v1h-1zM144 148h1v1h-1zM144 150h1v1h-1zM144 152h1v1h-1zM144 166h1v1h-1zM144 171h1v1h-1zM144 174h1v1h-1zM144 176h1v1h-1zM145 158h1v1h-1zM145 179h1v1h-1zM146 156h1v1h-1zM146 164h1v1h-1zM146 167h1v1h-1zM146 178h1v1h-1zM147 165h1v1h-1zM148 163h1v1h-1zM148 168h1v1h-1zM149 172h1v1h-1zM150 174h1v1h-1zM151 157h1v1h-1zM152 157h1v1h-1zM152 160h1v1h-1zM155 161h1v1h-1zM157 165h1v1h-1zM158 162h1v1h-1zM159 165h1v3h-1zM159 177h1v1h-1zM160 163h1v1h-1zM160 170h1v1h-1zM162 165h1v1h-1zM162 175h1v1h-1zM162 179h1v1h-1zM163 165h1v1h-1zM164 174h1v1h-1zM164 178h1v1h-1zM167 170h1v1h-1zM167 175h1v1h-1zM169 177h1v3h-1zM176 178h1v2h-1z" fill="#fdc02e"/>
<path d="M0 47h1v1h-1zM0 59h1v1h-1zM0 88h1v1h-1zM0 164h1v1h-1zM0 167h1v1h-1zM1 36h1v1h-1zM1 43h1v2h-1zM1 46h1v1h-1zM1 101h1v2h-1zM1 112h1v1h-1zM1 117h1v1h-1zM1 167h1v1h-1zM2 8h1v1h-1zM2 10h1v1h-1zM2 43h1v1h-1zM2 56h1v1h-1zM2 74h1v1h-1zM2 124h1v1h-1zM3 21h1v1h-1zM4 48h1v1h-1zM5 7h1v1h-1zM5 17h1v1h-1zM5 22h1v1h-1zM5 28h1v2h-1zM5 33h1v1h-1zM5 35h1v1h-1zM5 53h1v1h-1zM5 68h1v2h-1zM5 85h1v1h-1zM5 95h1v1h-1zM5 127h1v1h-1zM5 129h1v1h-1zM5 144h1v2h-1zM5 167h1v1h-1zM5 169h1v1h-1zM5 173h1v1h-1zM6 48h1v1h-1zM6 53h1v1h-1zM6 61h1v1h-1zM6 113h1v1h-1zM6 128h1v1h-1zM6 164h1v1h-1zM6 168h1v1h-1zM7 18h1v2h-1zM7 39h1v2h-1zM7 75h1v1h-1zM7 87h1v1h-1zM7 139h1v1h-1zM7 143h1v1h-1zM7 171h1v1h-1zM7 173h1v2h-1zM8 31h1v1h-1zM8 36h1v2h-1zM8 49h1v1h-1zM8 53h1v1h-1zM8 63h1v2h-1zM8 88h1v1h-1zM8 94h1v2h-1zM8 124h1v1h-1zM8 132h1v1h-1zM9 19h1v1h-1zM9 23h1v1h-1zM9 131h1v1h-1zM10 29h1v1h-1zM10 52h1v1h-1zM10 94h1v1h-1zM10 103h1v3h-1zM10 108h1v1h-1zM10 120h1v2h-1zM10 139h1v1h-1zM10 148h1v1h-1zM10 156h1v1h-1zM11 33h1v1h-1zM11 51h1v1h-1zM13 86h1v1h-1zM13 120h1v2h-1zM13 128h1v1h-1zM13 141h1v1h-1zM13 149h1v1h-1zM13 175h1v1h-1zM14 29h1v1h-1zM14 31h1v1h-1zM14 62h1v1h-1zM14 73h1v1h-1zM14 96h1v1h-1zM14 144h1v1h-1zM15 17h1v1h-1zM15 35h1v1h-1zM15 62h1v2h-1zM15 86h1v1h-1zM15 100h1v1h-1zM15 104h1v2h-1zM15 117h1v1h-1zM15 125h1v1h-1zM15 139h1v1h-1zM15 161h1v2h-1zM15 176h1v2h-1zM16 24h1v1h-1zM16 38h1v1h-1zM16 50h1v1h-1zM16 54h1v2h-1zM16 92h1v2h-1zM16 102h1v3h-1zM16 109h1v1h-1zM16 112h1v1h-1zM16 127h1v1h-1zM16 139h1v1h-1zM16 170h1v1h-1zM16 174h1v1h-1zM16 179h1v1h-1zM17 19h1v1h-1zM17 21h1v1h-1zM17 31h1v2h-1zM17 50h1v1h-1zM17 55h1v1h-1zM17 63h1v2h-1zM17 88h1v1h-1zM17 92h1v2h-1zM17 103h1v1h-1zM17 108h1v1h-1zM17 117h1v1h-1zM17 127h1v1h-1zM17 140h1v1h-1zM17 156h1v1h-1zM18 134h1v1h-1zM20 32h1v1h-1zM20 34h1v1h-1zM20 41h1v1h-1zM20 56h1v1h-1zM20 62h1v1h-1zM20 71h1v1h-1zM20 94h1v1h-1zM20 100h1v1h-1zM20 106h1v1h-1zM20 120h1v1h-1zM20 142h1v1h-1zM20 147h1v2h-1zM20 165h1v1h-1zM20 167h1v1h-1zM21 65h1v1h-1zM21 143h1v1h-1zM21 145h1v1h-1zM21 169h1v1h-1zM22 40h1v1h-1zM22 56h1v1h-1zM22 60h1v1h-1zM22 74h1v1h-1zM22 92h1v1h-1zM23 25h1v1h-1zM24 38h1v1h-1zM26 27h1v1h-1zM26 42h1v1h-1zM26 53h1v1h-1zM26 78h1v1h-1zM26 88h1v1h-1zM26 91h1v2h-1zM26 102h1v1h-1zM26 120h1v1h-1zM26 125h1v2h-1zM26 146h1v1h-1zM26 149h1v1h-1zM26 156h1v1h-1zM26 163h1v1h-1zM27 36h1v1h-1zM27 55h1v1h-1zM27 61h1v1h-1zM27 95h1v1h-1zM27 145h1v1h-1zM27 159h1v1h-1zM27 177h1v1h-1zM28 45h1v1h-1zM28 68h1v1h-1zM28 87h1v1h-1zM28 126h1v1h-1zM28 134h1v1h-1zM28 136h1v1h-1zM28 146h1v1h-1zM28 148h1v1h-1zM28 157h1v1h-1zM28 171h1v1h-1zM28 173h1v1h-1zM29 96h1v1h-1zM30 52h1v1h-1zM31 51h1v1h-1zM31 59h1v1h-1zM31 65h1v1h-1zM31 73h1v1h-1zM31 104h1v2h-1zM31 157h1v1h-1zM31 176h1v1h-1zM32 33h1v1h-1zM32 41h1v1h-1zM32 95h1v1h-1zM32 125h1v1h-1zM32 134h1v1h-1zM33 65h1v1h-1zM33 68h1v1h-1zM33 70h1v1h-1zM33 105h1v1h-1zM33 143h1v1h-1zM33 157h1v1h-1zM33 169h1v1h-1zM34 48h1v1h-1zM34 54h1v2h-1zM34 96h1v1h-1zM34 141h1v1h-1zM34 157h1v1h-1zM34 176h1v2h-1zM35 40h1v1h-1zM37 115h1v1h-1zM37 157h1v1h-1zM38 42h1v1h-1zM38 86h1v1h-1zM38 92h1v1h-1zM38 150h1v1h-1zM39 41h1v1h-1zM39 47h1v1h-1zM39 49h1v1h-1zM39 53h1v1h-1zM39 91h1v1h-1zM39 111h1v1h-1zM39 115h1v1h-1zM39 125h1v1h-1zM39 127h1v1h-1zM39 145h1v1h-1zM39 157h1v4h-1zM39 162h1v1h-1zM39 164h1v1h-1zM40 49h1v1h-1zM40 96h1v1h-1zM40 124h1v1h-1zM40 173h1v2h-1zM41 63h1v1h-1zM41 76h1v2h-1zM41 113h1v1h-1zM41 134h1v1h-1zM41 161h1v1h-1zM41 165h1v1h-1zM41 167h1v1h-1zM42 48h1v1h-1zM42 60h1v1h-1zM42 150h1v2h-1zM43 45h1v1h-1zM43 65h1v1h-1zM43 67h1v1h-1zM43 82h1v1h-1zM43 93h1v3h-1zM43 100h1v1h-1zM43 161h1v1h-1zM43 169h1v3h-1zM44 46h1v1h-1zM44 70h1v1h-1zM44 96h1v1h-1zM44 134h1v1h-1zM44 160h1v1h-1zM45 49h1v1h-1zM45 72h1v1h-1zM45 79h1v1h-1zM45 87h1v1h-1zM45 103h1v1h-1zM45 140h1v1h-1zM45 144h1v1h-1zM45 169h1v1h-1zM45 176h1v1h-1zM46 52h1v1h-1zM46 178h1v1h-1zM47 93h1v1h-1zM47 172h1v2h-1zM48 101h1v1h-1zM48 139h1v1h-1zM48 142h1v1h-1zM49 60h1v2h-1zM49 85h1v1h-1zM49 87h1v1h-1zM49 91h1v1h-1zM49 106h1v1h-1zM49 108h1v1h-1zM49 113h1v1h-1zM49 115h1v1h-1zM49 125h1v1h-1zM49 164h1v2h-1zM50 86h1v1h-1zM50 94h1v1h-1zM50 96h1v1h-1zM50 105h1v1h-1zM50 120h1v1h-1zM50 149h1v1h-1zM50 163h1v1h-1zM51 102h1v1h-1zM51 168h1v1h-1zM51 171h1v1h-1zM51 175h1v3h-1zM52 64h1v1h-1zM52 88h1v1h-1zM52 96h1v1h-1zM52 144h1v1h-1zM52 165h1v1h-1zM52 170h1v1h-1zM53 75h1v1h-1zM53 98h1v1h-1zM53 131h1v1h-1zM53 159h1v1h-1zM54 93h1v1h-1zM54 132h1v1h-1zM55 67h1v1h-1zM55 71h1v1h-1zM55 123h1v1h-1zM55 149h1v1h-1zM55 177h1v1h-1zM55 179h1v1h-1zM56 130h1v1h-1zM57 67h1v1h-1zM57 71h1v1h-1zM57 133h1v1h-1zM57 140h1v1h-1zM59 95h1v1h-1zM59 110h1v1h-1zM59 113h1v1h-1zM59 128h1v1h-1zM59 139h1v1h-1zM60 105h1v1h-1zM60 146h1v1h-1zM62 126h1v1h-1zM62 131h1v1h-1zM62 174h1v1h-1zM63 89h1v2h-1zM63 92h1v1h-1zM63 125h1v2h-1zM63 129h1v1h-1zM63 144h1v1h-1zM63 157h1v1h-1zM64 77h1v2h-1zM64 91h1v1h-1zM64 120h1v1h-1zM64 149h1v1h-1zM64 155h1v1h-1zM64 159h1v1h-1zM65 69h1v2h-1zM65 72h1v1h-1zM65 105h1v1h-1zM65 111h1v1h-1zM65 113h1v1h-1zM65 121h1v1h-1zM65 140h1v1h-1zM65 156h1v1h-1zM65 158h1v1h-1zM65 164h1v1h-1zM65 166h1v1h-1zM66 168h1v1h-1zM67 103h1v1h-1zM67 139h1v1h-1zM67 162h1v1h-1zM67 167h1v1h-1zM68 146h1v1h-1zM71 109h1v1h-1zM71 115h1v1h-1zM71 124h1v1h-1zM71 140h1v1h-1zM71 143h1v2h-1zM71 169h1v1h-1zM71 174h1v1h-1zM72 92h1v1h-1zM72 169h1v2h-1zM72 172h1v1h-1zM72 175h1v1h-1zM73 100h1v1h-1zM73 140h1v1h-1zM73 146h1v1h-1zM73 177h1v1h-1zM74 92h1v1h-1zM74 157h1v1h-1zM74 162h1v1h-1zM74 164h1v1h-1zM74 166h1v1h-1zM74 168h1v1h-1zM74 170h1v1h-1zM76 82h1v1h-1zM77 134h1v1h-1zM77 162h1v1h-1zM77 165h1v1h-1zM77 171h1v1h-1zM77 179h1v1h-1zM78 124h1v1h-1zM78 169h1v1h-1zM78 173h1v1h-1zM78 175h1v1h-1zM79 130h1v2h-1zM79 162h1v1h-1zM83 147h1v4h-1zM83 152h1v2h-1zM83 155h1v1h-1zM83 165h1v1h-1zM83 167h1v1h-1zM84 91h1v1h-1zM84 93h1v1h-1zM84 95h1v1h-1zM84 120h1v1h-1zM84 122h1v1h-1zM84 133h1v2h-1zM84 146h1v1h-1zM84 150h1v1h-1zM84 152h1v1h-1zM85 134h1v1h-1zM87 131h1v1h-1zM87 171h1v1h-1zM87 175h1v1h-1zM88 122h1v2h-1zM88 126h1v1h-1zM88 146h1v1h-1zM88 150h1v1h-1zM89 120h1v1h-1zM89 125h1v1h-1zM89 151h1v1h-1zM90 106h1v1h-1zM90 108h1v1h-1zM90 120h1v1h-1zM90 133h1v2h-1zM90 139h1v1h-1zM90 142h1v1h-1zM90 156h1v1h-1zM90 168h1v1h-1zM91 131h1v1h-1zM91 141h1v1h-1zM91 144h1v1h-1zM91 152h1v1h-1zM91 164h1v1h-1zM91 168h1v1h-1zM92 108h1v1h-1zM92 110h1v1h-1zM94 103h1v2h-1zM94 121h1v1h-1zM94 126h1v1h-1zM94 146h1v1h-1zM94 179h1v1h-1zM95 96h1v1h-1zM95 103h1v1h-1zM95 147h1v1h-1zM95 149h1v1h-1zM95 166h1v1h-1zM95 168h1v1h-1zM95 179h1v1h-1zM96 120h1v1h-1zM97 133h1v1h-1zM100 106h1v1h-1zM100 111h1v2h-1zM100 131h1v1h-1zM100 140h1v1h-1zM100 150h1v1h-1zM100 156h1v1h-1zM100 158h1v1h-1zM100 168h1v1h-1zM100 179h1v1h-1zM101 127h1v1h-1zM101 134h1v1h-1zM101 178h1v1h-1zM102 120h1v1h-1zM102 122h1v1h-1zM102 128h1v1h-1zM102 146h1v1h-1zM102 148h1v1h-1zM102 150h1v1h-1zM102 163h1v1h-1zM103 133h1v1h-1zM103 139h1v1h-1zM103 146h1v1h-1zM103 175h1v1h-1zM103 177h1v1h-1zM105 129h1v1h-1zM105 152h1v1h-1zM105 158h1v1h-1zM105 165h1v1h-1zM106 144h1v1h-1zM107 134h1v1h-1zM108 132h1v1h-1zM109 112h1v1h-1zM109 114h1v1h-1zM109 168h1v1h-1zM110 143h1v1h-1zM111 128h1v2h-1zM111 132h1v3h-1zM111 152h1v1h-1zM111 164h1v1h-1zM111 175h1v1h-1zM112 173h1v2h-1zM113 142h1v2h-1zM114 133h1v1h-1zM114 143h1v1h-1zM114 148h1v2h-1zM114 164h1v1h-1zM114 166h1v1h-1zM114 176h1v1h-1zM115 123h1v1h-1zM115 128h1v2h-1zM115 151h1v1h-1zM116 122h1v2h-1zM116 142h1v1h-1zM116 157h1v1h-1zM117 145h1v1h-1zM117 149h1v1h-1zM117 152h1v1h-1zM117 157h1v1h-1zM118 150h1v1h-1zM118 156h1v1h-1zM119 159h1v1h-1zM120 170h1v1h-1zM120 176h1v1h-1zM124 146h1v1h-1zM124 149h1v2h-1zM124 171h1v1h-1zM125 173h1v1h-1zM126 132h1v1h-1zM126 166h1v1h-1zM127 131h1v1h-1zM128 144h1v1h-1zM128 146h1v1h-1zM128 150h1v1h-1zM128 162h1v1h-1zM129 165h1v1h-1zM129 170h1v2h-1zM129 177h1v1h-1zM131 159h1v2h-1zM133 169h1v1h-1zM133 179h1v1h-1zM136 150h1v1h-1zM136 160h1v1h-1zM138 152h1v1h-1zM138 164h1v1h-1zM139 154h1v1h-1zM139 169h1v1h-1zM140 152h1v1h-1zM140 156h1v1h-1zM140 169h1v1h-1zM141 147h1v1h-1zM142 161h1v1h-1zM142 172h1v1h-1zM143 149h1v1h-1zM143 151h1v1h-1zM143 156h1v2h-1zM143 164h1v1h-1zM143 166h1v1h-1zM143 171h1v1h-1zM143 173h1v1h-1zM143 179h1v1h-1zM144 146h1v1h-1zM144 151h1v1h-1zM144 155h1v1h-1zM144 161h1v1h-1zM144 164h1v1h-1zM144 173h1v1h-1zM144 175h1v1h-1zM145 163h1v1h-1zM145 167h1v1h-1zM145 177h1v2h-1zM146 161h1v1h-1zM146 168h1v1h-1zM147 167h1v1h-1zM148 150h1v1h-1zM148 165h1v1h-1zM148 175h1v1h-1zM149 151h1v1h-1zM149 159h1v1h-1zM151 171h1v1h-1zM152 161h1v2h-1zM152 164h1v1h-1zM152 176h1v2h-1zM153 165h1v1h-1zM154 159h1v1h-1zM155 160h1v1h-1zM155 162h1v2h-1zM156 170h1v1h-1zM157 159h1v1h-1zM158 173h1v1h-1zM159 168h1v1h-1zM159 170h1v1h-1zM161 169h1v1h-1zM162 171h1v1h-1zM163 164h1v1h-1zM163 167h1v1h-1zM164 165h1v1h-1zM166 167h1v1h-1zM167 169h1v1h-1zM167 172h1v2h-1zM167 179h1v1h-1z" fill="#fb8e1f"/>
<path d="M0 52h1v1h-1zM0 166h1v1h-1zM1 5h1v1h-1zM1 30h1v1h-1zM2 7h1v1h-1zM2 28h1v1h-1zM2 30h1v1h-1zM2 45h1v1h-1zM2 55h1v1h-1zM2 64h1v1h-1zM2 122h1v1h-1zM2 129h1v2h-1zM2 146h1v1h-1zM2 149h1v2h-1zM3 93h1v1h-1zM4 146h1v1h-1zM4 152h1v1h-1zM5 14h1v1h-1zM5 26h1v1h-1zM5 43h1v1h-1zM5 45h1v1h-1zM5 55h1v1h-1zM5 67h1v1h-1zM5 88h1v1h-1zM5 109h1v1h-1zM5 149h1v2h-1zM5 159h1v1h-1zM5 177h1v1h-1zM6 102h1v1h-1zM6 107h1v2h-1zM6 111h1v1h-1zM6 146h1v1h-1zM6 166h1v1h-1zM6 169h1v1h-1zM7 21h1v1h-1zM7 63h1v1h-1zM7 100h1v1h-1zM7 107h1v1h-1zM7 113h1v1h-1zM7 123h1v1h-1zM7 141h1v1h-1zM7 149h1v1h-1zM7 152h1v1h-1zM8 32h1v1h-1zM8 39h1v1h-1zM8 41h1v1h-1zM8 47h1v1h-1zM8 86h1v1h-1zM8 93h1v1h-1zM8 134h1v1h-1zM8 164h1v1h-1zM8 167h1v2h-1zM9 40h1v1h-1zM9 176h1v1h-1zM10 26h1v1h-1zM10 56h1v1h-1zM10 88h1v1h-1zM10 114h1v1h-1zM10 116h1v1h-1zM10 130h1v1h-1zM10 147h1v1h-1zM10 149h1v1h-1zM10 151h1v2h-1zM11 32h1v1h-1zM13 14h1v1h-1zM13 54h1v1h-1zM13 65h1v1h-1zM13 73h1v1h-1zM13 109h1v1h-1zM13 117h1v1h-1zM13 127h1v1h-1zM13 133h1v1h-1zM13 143h1v1h-1zM13 160h1v1h-1zM13 165h1v1h-1zM13 177h1v1h-1zM14 63h1v1h-1zM15 19h1v1h-1zM15 49h1v1h-1zM15 51h1v1h-1zM15 103h1v1h-1zM15 111h1v1h-1zM15 120h1v1h-1zM15 130h1v2h-1zM15 135h1v1h-1zM15 146h1v1h-1zM15 151h1v1h-1zM15 156h1v2h-1zM15 163h1v1h-1zM15 174h1v1h-1zM16 36h1v1h-1zM16 42h1v2h-1zM16 79h1v1h-1zM16 94h1v1h-1zM16 108h1v1h-1zM16 150h1v1h-1zM16 158h1v1h-1zM16 177h1v2h-1zM17 41h1v2h-1zM17 49h1v1h-1zM17 59h1v1h-1zM17 100h1v2h-1zM17 139h1v1h-1zM17 143h1v3h-1zM18 47h1v1h-1zM20 95h1v1h-1zM20 179h1v1h-1zM21 67h1v1h-1zM21 69h1v1h-1zM21 142h1v1h-1zM22 52h1v1h-1zM22 54h1v1h-1zM22 61h1v1h-1zM22 66h1v1h-1zM22 123h1v1h-1zM22 128h1v1h-1zM22 144h1v1h-1zM22 156h1v1h-1zM23 45h1v1h-1zM24 37h1v1h-1zM24 172h1v1h-1zM26 56h1v1h-1zM26 72h1v2h-1zM26 147h1v2h-1zM26 173h1v1h-1zM27 93h1v1h-1zM27 125h1v1h-1zM27 140h1v2h-1zM27 143h1v1h-1zM27 167h1v1h-1zM28 42h1v1h-1zM28 44h1v1h-1zM28 65h1v1h-1zM28 139h1v2h-1zM28 155h1v1h-1zM28 158h1v1h-1zM28 160h1v1h-1zM28 172h1v1h-1zM28 175h1v1h-1zM28 178h1v1h-1zM31 37h1v1h-1zM31 67h1v1h-1zM31 75h1v1h-1zM31 132h1v2h-1zM31 143h1v1h-1zM31 156h1v1h-1zM31 169h1v1h-1zM31 179h1v1h-1zM32 88h1v1h-1zM32 92h1v1h-1zM32 122h1v1h-1zM32 160h1v1h-1zM32 172h1v1h-1zM32 174h1v1h-1zM33 38h1v1h-1zM33 69h1v1h-1zM33 77h1v1h-1zM33 101h1v1h-1zM33 155h1v1h-1zM34 37h1v1h-1zM34 52h1v1h-1zM34 56h1v1h-1zM34 60h1v1h-1zM34 95h1v1h-1zM34 100h1v1h-1zM34 112h1v1h-1zM34 139h1v2h-1zM34 142h1v1h-1zM34 163h1v1h-1zM34 178h1v1h-1zM37 45h1v1h-1zM37 52h1v1h-1zM37 63h1v1h-1zM37 111h1v1h-1zM38 44h1v1h-1zM38 46h1v1h-1zM38 62h1v1h-1zM38 68h1v1h-1zM38 87h1v1h-1zM38 126h1v1h-1zM38 170h1v1h-1zM38 175h1v1h-1zM38 178h1v1h-1zM39 67h1v1h-1zM39 69h1v3h-1zM39 77h1v1h-1zM39 87h1v1h-1zM39 96h1v1h-1zM39 116h1v1h-1zM39 123h1v1h-1zM39 126h1v1h-1zM39 147h1v1h-1zM39 151h1v1h-1zM39 161h1v1h-1zM39 170h1v1h-1zM39 177h1v2h-1zM40 54h1v1h-1zM40 56h1v1h-1zM40 65h1v1h-1zM40 69h1v1h-1zM40 86h1v1h-1zM40 94h1v2h-1zM40 100h1v1h-1zM40 103h1v1h-1zM40 129h1v1h-1zM40 148h1v1h-1zM40 169h1v3h-1zM41 55h1v1h-1zM41 62h1v1h-1zM41 65h1v1h-1zM41 109h1v1h-1zM41 117h1v1h-1zM41 173h1v1h-1zM42 164h1v1h-1zM42 169h1v2h-1zM43 53h1v1h-1zM43 70h1v1h-1zM43 76h1v1h-1zM43 85h1v1h-1zM43 92h1v1h-1zM43 157h1v1h-1zM44 69h1v1h-1zM44 76h1v1h-1zM44 78h1v1h-1zM44 92h1v1h-1zM44 101h1v2h-1zM44 114h1v1h-1zM44 121h1v1h-1zM44 142h1v1h-1zM44 144h1v1h-1zM44 166h1v1h-1zM45 50h1v1h-1zM45 75h1v1h-1zM45 91h1v1h-1zM45 159h1v2h-1zM45 179h1v1h-1zM46 49h1v1h-1zM46 144h1v1h-1zM46 164h1v1h-1zM46 166h1v1h-1zM47 61h1v1h-1zM47 95h1v1h-1zM47 175h1v1h-1zM47 179h1v1h-1zM48 105h1v1h-1zM49 55h1v1h-1zM49 94h1v1h-1zM49 96h1v1h-1zM49 112h1v1h-1zM49 117h1v1h-1zM49 120h1v1h-1zM49 159h1v1h-1zM49 166h1v1h-1zM49 177h1v1h-1zM50 66h1v1h-1zM50 95h1v1h-1zM50 124h1v1h-1zM50 132h1v1h-1zM50 146h1v1h-1zM50 148h1v1h-1zM50 167h1v1h-1zM51 74h1v1h-1zM51 76h1v1h-1zM51 95h1v1h-1zM51 105h1v1h-1zM51 139h1v1h-1zM51 164h1v1h-1zM51 173h1v1h-1zM52 66h1v1h-1zM52 167h1v1h-1zM53 100h1v1h-1zM53 141h1v1h-1zM53 157h1v1h-1zM55 59h1v1h-1zM55 61h1v1h-1zM55 65h1v2h-1zM58 177h1v1h-1zM59 69h1v1h-1zM59 88h1v1h-1zM59 109h1v1h-1zM59 158h1v1h-1zM59 171h1v1h-1zM60 103h1v1h-1zM60 147h1v1h-1zM62 128h1v1h-1zM62 156h1v1h-1zM63 123h1v1h-1zM63 127h1v1h-1zM64 65h1v1h-1zM64 86h1v1h-1zM64 100h1v1h-1zM64 126h1v1h-1zM64 139h1v1h-1zM65 73h1v1h-1zM65 81h1v1h-1zM65 116h1v1h-1zM65 131h1v1h-1zM65 152h1v1h-1zM65 167h1v1h-1zM65 169h1v1h-1zM66 100h1v1h-1zM66 126h1v1h-1zM66 130h1v1h-1zM66 140h1v1h-1zM66 144h1v1h-1zM66 162h1v1h-1zM66 164h1v1h-1zM67 87h1v1h-1zM67 105h1v1h-1zM67 115h1v1h-1zM67 156h1v1h-1zM67 169h1v1h-1zM68 94h1v1h-1zM68 160h1v1h-1zM68 169h1v1h-1zM70 130h1v1h-1zM71 91h1v1h-1zM71 113h1v1h-1zM71 121h1v1h-1zM71 129h1v1h-1zM71 131h1v1h-1zM71 158h1v1h-1zM72 174h1v1h-1zM73 141h1v2h-1zM73 148h1v1h-1zM73 150h1v2h-1zM74 91h1v1h-1zM74 120h1v1h-1zM74 122h1v1h-1zM74 146h1v1h-1zM74 150h1v1h-1zM74 152h1v1h-1zM74 172h1v1h-1zM74 178h1v1h-1zM77 85h1v1h-1zM77 105h1v1h-1zM77 133h1v1h-1zM77 168h1v1h-1zM78 110h1v1h-1zM78 149h1v1h-1zM78 160h1v1h-1zM78 168h1v1h-1zM79 141h1v1h-1zM79 149h1v1h-1zM79 163h1v1h-1zM79 171h1v1h-1zM79 175h1v1h-1zM83 117h1v1h-1zM83 128h1v1h-1zM83 146h1v1h-1zM83 173h1v2h-1zM84 94h1v1h-1zM84 124h1v1h-1zM85 133h1v1h-1zM86 152h1v1h-1zM87 93h1v1h-1zM87 95h1v1h-1zM87 129h1v1h-1zM87 133h1v1h-1zM87 147h1v1h-1zM87 174h1v1h-1zM87 179h1v1h-1zM88 152h1v1h-1zM88 160h1v1h-1zM88 174h1v1h-1zM90 110h1v1h-1zM90 126h1v1h-1zM91 165h1v1h-1zM91 170h1v1h-1zM92 113h1v1h-1zM94 102h1v1h-1zM94 123h1v1h-1zM94 125h1v1h-1zM94 127h1v1h-1zM94 134h1v1h-1zM94 147h1v2h-1zM94 152h1v1h-1zM94 178h1v1h-1zM95 121h1v1h-1zM95 152h1v1h-1zM95 167h1v1h-1zM96 122h1v1h-1zM96 162h1v1h-1zM96 168h1v1h-1zM100 109h1v2h-1zM100 114h1v2h-1zM100 141h1v1h-1zM100 145h1v1h-1zM100 152h1v1h-1zM100 164h1v1h-1zM100 176h1v1h-1zM101 163h1v1h-1zM101 173h1v1h-1zM101 177h1v1h-1zM102 134h1v1h-1zM102 140h1v1h-1zM103 121h1v1h-1zM103 131h1v1h-1zM103 152h1v1h-1zM103 161h1v1h-1zM103 174h1v1h-1zM104 162h1v1h-1zM105 124h1v1h-1zM105 148h1v1h-1zM105 151h1v1h-1zM105 161h1v1h-1zM105 167h1v1h-1zM106 110h1v1h-1zM106 126h1v1h-1zM106 142h1v2h-1zM106 156h1v1h-1zM106 162h1v1h-1zM106 174h1v1h-1zM108 123h1v2h-1zM110 124h1v1h-1zM110 130h1v1h-1zM110 144h1v1h-1zM110 148h1v1h-1zM111 112h1v1h-1zM111 115h1v3h-1zM111 156h1v1h-1zM112 145h1v1h-1zM112 169h1v1h-1zM113 131h1v1h-1zM114 120h1v1h-1zM114 124h1v1h-1zM114 142h1v1h-1zM114 144h1v1h-1zM114 150h1v1h-1zM114 157h1v1h-1zM114 174h1v1h-1zM114 177h1v1h-1zM115 147h1v3h-1zM116 179h1v1h-1zM117 123h1v2h-1zM117 147h1v1h-1zM117 169h1v1h-1zM118 129h1v1h-1zM118 139h1v1h-1zM118 147h1v1h-1zM118 169h1v1h-1zM120 159h1v1h-1zM123 157h1v1h-1zM124 128h1v1h-1zM124 132h1v1h-1zM124 159h1v1h-1zM124 175h1v1h-1zM124 178h1v1h-1zM125 170h1v1h-1zM126 131h1v1h-1zM126 139h1v1h-1zM126 147h1v1h-1zM126 157h1v1h-1zM126 168h1v1h-1zM126 174h1v1h-1zM126 176h1v1h-1zM127 157h1v1h-1zM128 148h1v1h-1zM129 173h1v1h-1zM129 175h1v1h-1zM131 161h1v1h-1zM134 146h1v1h-1zM135 158h1v1h-1zM136 152h1v1h-1zM138 166h1v1h-1zM139 141h1v1h-1zM139 165h1v1h-1zM140 142h1v1h-1zM140 163h1v1h-1zM142 147h1v1h-1zM142 162h1v1h-1zM142 171h1v1h-1zM142 174h1v1h-1zM143 175h1v1h-1zM143 178h1v1h-1zM144 168h1v1h-1zM145 161h1v1h-1zM145 164h1v2h-1zM146 170h1v1h-1zM148 156h1v1h-1zM148 162h1v1h-1zM148 173h1v1h-1zM148 178h1v1h-1zM149 175h1v1h-1zM149 179h1v1h-1zM150 158h1v1h-1zM150 172h1v1h-1zM151 167h1v1h-1zM151 179h1v1h-1zM152 165h1v1h-1zM152 178h1v1h-1zM154 156h1v1h-1zM156 162h1v1h-1zM156 167h1v1h-1zM157 158h1v1h-1zM158 159h1v1h-1zM158 168h1v1h-1zM158 172h1v1h-1zM158 174h1v1h-1zM159 162h1v1h-1zM159 169h1v1h-1zM159 176h1v1h-1zM160 168h1v1h-1zM162 178h1v1h-1zM167 171h1v1h-1zM167 174h1v1h-1zM169 176h1v1h-1zM172 176h1v1h-1z" fill="#f6521a"/>
<path d="M0 33h1v1h-1zM0 48h1v1h-1zM1 7h1v1h-1zM1 25h1v1h-1zM1 31h1v1h-1zM1 38h1v1h-1zM1 47h1v2h-1zM1 73h1v1h-1zM1 94h1v2h-1zM1 133h1v1h-1zM2 21h1v2h-1zM2 40h1v1h-1zM2 48h1v1h-1zM2 52h1v1h-1zM2 54h1v1h-1zM2 73h1v1h-1zM2 75h1v2h-1zM2 78h1v1h-1zM2 96h1v1h-1zM2 120h1v2h-1zM2 153h1v1h-1zM3 33h1v1h-1zM3 47h1v2h-1zM3 95h1v1h-1zM4 13h1v1h-1zM4 16h1v1h-1zM4 33h1v1h-1zM4 36h1v1h-1zM4 44h1v1h-1zM4 51h1v1h-1zM4 148h1v1h-1zM4 150h1v1h-1zM5 13h1v1h-1zM5 18h1v1h-1zM5 27h1v1h-1zM5 34h1v1h-1zM5 41h1v2h-1zM5 100h1v2h-1zM5 103h1v1h-1zM5 105h1v1h-1zM5 121h1v1h-1zM5 133h1v2h-1zM5 146h1v1h-1zM5 152h1v1h-1zM5 170h1v1h-1zM5 179h1v1h-1zM6 15h1v2h-1zM6 20h1v1h-1zM6 30h1v1h-1zM6 54h1v1h-1zM6 56h1v1h-1zM6 72h1v1h-1zM6 74h1v1h-1zM6 103h1v2h-1zM6 109h1v1h-1zM6 112h1v1h-1zM6 117h1v1h-1zM6 127h1v1h-1zM6 147h1v1h-1zM6 152h1v1h-1zM6 159h1v1h-1zM7 11h1v3h-1zM7 15h1v1h-1zM7 22h1v1h-1zM7 25h1v4h-1zM7 30h1v2h-1zM7 34h1v2h-1zM7 41h1v1h-1zM7 43h1v1h-1zM7 45h1v1h-1zM7 50h1v2h-1zM7 53h1v1h-1zM7 55h1v2h-1zM7 60h1v2h-1zM7 64h1v3h-1zM7 68h1v1h-1zM7 70h1v2h-1zM7 85h1v2h-1zM7 91h1v1h-1zM7 96h1v1h-1zM7 101h1v1h-1zM7 103h1v1h-1zM7 105h1v1h-1zM7 109h1v4h-1zM7 114h1v4h-1zM7 129h1v1h-1zM7 132h1v3h-1zM7 145h1v1h-1zM7 159h1v2h-1zM7 164h1v6h-1zM7 172h1v1h-1zM7 175h1v1h-1zM7 177h1v3h-1zM8 15h1v1h-1zM8 38h1v1h-1zM8 62h1v1h-1zM8 133h1v1h-1zM9 10h1v1h-1zM9 34h1v1h-1zM9 38h1v1h-1zM10 14h1v1h-1zM10 19h1v1h-1zM10 47h1v1h-1zM10 49h1v1h-1zM10 63h1v1h-1zM10 93h1v1h-1zM10 102h1v1h-1zM11 20h1v1h-1zM11 22h1v2h-1zM11 38h1v1h-1zM12 13h1v1h-1zM12 41h1v1h-1zM12 48h1v1h-1zM12 51h1v1h-1zM13 16h1v1h-1zM13 18h1v1h-1zM13 37h1v1h-1zM13 39h1v1h-1zM13 43h1v1h-1zM13 45h1v1h-1zM13 48h1v1h-1zM13 52h1v1h-1zM13 55h1v2h-1zM13 61h1v4h-1zM13 92h1v1h-1zM13 95h1v1h-1zM13 101h1v1h-1zM13 125h1v1h-1zM13 139h1v1h-1zM13 161h1v1h-1zM13 163h1v2h-1zM13 166h1v3h-1zM14 21h1v2h-1zM14 38h1v2h-1zM14 42h1v1h-1zM14 45h1v1h-1zM15 16h1v1h-1zM15 32h1v2h-1zM15 37h1v1h-1zM15 41h1v1h-1zM15 47h1v1h-1zM15 59h1v3h-1zM15 65h1v2h-1zM15 72h1v1h-1zM15 74h1v2h-1zM15 77h1v2h-1zM15 87h1v2h-1zM15 91h1v2h-1zM15 95h1v1h-1zM15 101h1v1h-1zM15 108h1v2h-1zM15 114h1v1h-1zM15 121h1v1h-1zM15 123h1v2h-1zM15 126h1v2h-1zM15 133h1v1h-1zM15 147h1v1h-1zM15 149h1v1h-1zM15 153h1v1h-1zM15 164h1v2h-1zM15 167h1v2h-1zM16 22h1v1h-1zM16 26h1v1h-1zM16 37h1v1h-1zM16 44h1v1h-1zM16 62h1v2h-1zM16 72h1v2h-1zM16 101h1v1h-1zM16 105h1v1h-1zM16 140h1v1h-1zM16 142h1v1h-1zM16 144h1v2h-1zM16 148h1v1h-1zM16 160h1v1h-1zM16 164h1v1h-1zM16 166h1v1h-1zM16 168h1v1h-1zM16 176h1v1h-1zM17 35h1v1h-1zM17 43h1v2h-1zM17 53h1v1h-1zM17 62h1v1h-1zM17 65h1v1h-1zM17 75h1v1h-1zM17 87h1v1h-1zM17 107h1v1h-1zM17 109h1v1h-1zM17 111h1v1h-1zM17 113h1v1h-1zM17 115h1v1h-1zM17 130h1v2h-1zM17 133h1v2h-1zM17 141h1v1h-1zM17 159h1v1h-1zM18 45h1v1h-1zM18 55h1v2h-1zM18 132h1v1h-1zM19 30h1v1h-1zM19 40h1v1h-1zM19 51h1v2h-1zM20 21h1v1h-1zM20 40h1v1h-1zM20 52h1v1h-1zM20 139h1v1h-1zM21 26h1v1h-1zM21 48h1v2h-1zM21 51h1v1h-1zM22 26h1v1h-1zM22 28h1v3h-1zM22 32h1v7h-1zM22 41h1v1h-1zM22 46h1v3h-1zM22 62h1v3h-1zM22 68h1v3h-1zM22 75h1v1h-1zM22 85h1v2h-1zM22 94h1v1h-1zM22 102h1v4h-1zM22 120h1v1h-1zM22 122h1v1h-1zM22 124h1v1h-1zM22 130h1v1h-1zM22 134h1v1h-1zM22 160h1v1h-1zM22 164h1v1h-1zM22 166h1v1h-1zM22 168h1v1h-1zM23 26h1v1h-1zM23 36h1v1h-1zM23 41h1v1h-1zM24 26h1v1h-1zM24 49h1v1h-1zM24 52h1v1h-1zM24 126h1v1h-1zM26 31h1v1h-1zM26 44h1v1h-1zM26 46h1v1h-1zM26 50h1v1h-1zM26 54h1v1h-1zM26 79h1v1h-1zM26 86h1v2h-1zM26 103h1v1h-1zM26 105h1v1h-1zM26 150h1v1h-1zM26 152h1v1h-1zM26 176h1v1h-1zM26 178h1v1h-1zM27 30h1v1h-1zM27 35h1v1h-1zM27 38h1v1h-1zM27 47h1v3h-1zM27 51h1v1h-1zM27 54h1v1h-1zM27 73h1v1h-1zM27 142h1v1h-1zM27 165h1v1h-1zM27 171h1v1h-1zM27 179h1v1h-1zM28 32h1v1h-1zM28 34h1v1h-1zM28 39h1v3h-1zM28 48h1v1h-1zM28 50h1v3h-1zM28 54h1v1h-1zM28 56h1v1h-1zM28 59h1v6h-1zM28 66h1v2h-1zM28 69h1v3h-1zM28 74h1v1h-1zM28 76h1v1h-1zM28 82h1v1h-1zM28 86h1v1h-1zM28 88h1v1h-1zM28 94h1v1h-1zM28 96h1v1h-1zM28 100h1v1h-1zM28 108h1v1h-1zM28 110h1v1h-1zM28 112h1v5h-1zM28 120h1v3h-1zM28 128h1v1h-1zM28 130h1v1h-1zM28 135h1v1h-1zM28 137h1v2h-1zM28 141h1v5h-1zM28 150h1v1h-1zM28 156h1v1h-1zM28 170h1v1h-1zM28 176h1v2h-1zM29 41h1v1h-1zM30 31h1v1h-1zM30 34h1v1h-1zM30 39h1v1h-1zM31 47h1v4h-1zM31 52h1v2h-1zM31 55h1v1h-1zM31 61h1v1h-1zM31 63h1v1h-1zM31 68h1v1h-1zM31 77h1v3h-1zM31 85h1v1h-1zM31 91h1v1h-1zM31 93h1v3h-1zM31 101h1v1h-1zM31 121h1v1h-1zM31 124h1v1h-1zM31 127h1v1h-1zM31 140h1v2h-1zM31 145h1v1h-1zM31 161h1v3h-1zM31 171h1v1h-1zM31 173h1v1h-1zM31 175h1v1h-1zM32 47h1v1h-1zM32 62h1v1h-1zM32 124h1v1h-1zM32 133h1v1h-1zM33 67h1v1h-1zM33 85h1v1h-1zM33 103h1v1h-1zM34 38h1v4h-1zM34 43h1v4h-1zM34 50h1v2h-1zM34 59h1v1h-1zM34 61h1v3h-1zM34 70h1v1h-1zM34 72h1v5h-1zM34 91h1v2h-1zM34 94h1v1h-1zM34 101h1v4h-1zM34 106h1v1h-1zM34 108h1v1h-1zM34 110h1v1h-1zM34 114h1v1h-1zM34 120h1v1h-1zM34 122h1v1h-1zM34 126h1v2h-1zM34 134h1v1h-1zM34 145h1v1h-1zM34 152h1v1h-1zM34 156h1v1h-1zM34 159h1v4h-1zM34 165h1v2h-1zM34 168h1v1h-1zM34 172h1v1h-1zM34 174h1v1h-1zM34 179h1v1h-1zM35 37h1v1h-1zM36 46h1v1h-1zM36 86h1v3h-1zM37 39h1v3h-1zM37 43h1v2h-1zM37 47h1v1h-1zM37 49h1v3h-1zM37 55h1v2h-1zM37 59h1v3h-1zM37 73h1v1h-1zM37 75h1v1h-1zM37 77h1v1h-1zM37 79h1v1h-1zM37 86h1v3h-1zM37 92h1v2h-1zM37 95h1v2h-1zM37 107h1v1h-1zM37 109h1v2h-1zM37 113h1v2h-1zM37 117h1v1h-1zM37 120h1v4h-1zM37 129h1v1h-1zM37 133h1v2h-1zM37 141h1v1h-1zM37 143h1v1h-1zM37 145h1v8h-1zM37 161h1v1h-1zM37 163h1v1h-1zM37 169h1v1h-1zM37 171h1v1h-1zM37 173h1v1h-1zM37 175h1v1h-1zM37 179h1v1h-1zM38 39h1v2h-1zM38 50h1v4h-1zM38 101h1v4h-1zM38 123h1v1h-1zM38 128h1v3h-1zM38 140h1v7h-1zM38 148h1v1h-1zM38 152h1v1h-1zM38 164h1v6h-1zM38 171h1v2h-1zM38 174h1v1h-1zM38 176h1v2h-1zM38 179h1v1h-1zM39 54h1v3h-1zM39 59h1v1h-1zM39 61h1v6h-1zM39 73h1v1h-1zM39 86h1v1h-1zM39 88h1v1h-1zM39 93h1v1h-1zM39 95h1v1h-1zM39 97h1v1h-1zM39 107h1v1h-1zM39 109h1v1h-1zM39 117h1v1h-1zM39 121h1v1h-1zM39 133h1v1h-1zM39 141h1v1h-1zM39 149h1v1h-1zM40 46h1v1h-1zM40 51h1v1h-1zM40 55h1v1h-1zM40 66h1v1h-1zM40 68h1v1h-1zM40 74h1v1h-1zM40 76h1v1h-1zM40 78h1v1h-1zM40 85h1v1h-1zM40 91h1v2h-1zM40 101h1v2h-1zM40 104h1v2h-1zM40 126h1v1h-1zM40 139h1v2h-1zM40 142h1v1h-1zM40 144h1v1h-1zM40 146h1v2h-1zM40 149h1v4h-1zM40 156h1v1h-1zM40 158h1v1h-1zM40 176h1v1h-1zM40 178h1v1h-1zM41 47h1v1h-1zM41 49h1v1h-1zM41 51h1v1h-1zM41 53h1v1h-1zM41 59h1v1h-1zM41 64h1v1h-1zM41 66h1v2h-1zM41 69h1v1h-1zM41 71h1v1h-1zM41 74h1v1h-1zM41 91h1v1h-1zM41 93h1v1h-1zM41 95h1v2h-1zM41 108h1v1h-1zM41 123h1v1h-1zM41 125h1v1h-1zM41 127h1v1h-1zM41 129h1v1h-1zM41 139h1v1h-1zM41 158h1v1h-1zM41 169h1v4h-1zM41 179h1v1h-1zM42 45h1v1h-1zM42 144h1v1h-1zM42 166h1v1h-1zM42 168h1v1h-1zM43 47h1v1h-1zM43 49h1v1h-1zM43 52h1v1h-1zM43 55h1v1h-1zM43 72h1v2h-1zM43 77h1v2h-1zM43 121h1v1h-1zM43 124h1v1h-1zM43 128h1v1h-1zM43 132h1v3h-1zM43 139h1v1h-1zM43 165h1v1h-1zM43 167h1v1h-1zM43 177h1v1h-1zM43 179h1v1h-1zM44 45h1v1h-1zM44 49h1v1h-1zM44 52h1v1h-1zM44 58h1v3h-1zM44 64h1v1h-1zM44 66h1v1h-1zM44 72h1v1h-1zM44 74h1v1h-1zM44 100h1v1h-1zM44 124h1v5h-1zM44 140h1v1h-1zM44 146h1v1h-1zM44 149h1v2h-1zM44 156h1v1h-1zM44 158h1v1h-1zM44 161h1v1h-1zM44 163h1v2h-1zM44 167h1v2h-1zM45 46h1v2h-1zM45 53h1v3h-1zM45 59h1v3h-1zM45 63h1v1h-1zM45 65h1v3h-1zM45 69h1v1h-1zM45 71h1v1h-1zM45 83h1v3h-1zM45 93h1v1h-1zM45 95h1v1h-1zM45 101h1v2h-1zM45 104h1v2h-1zM45 107h1v3h-1zM45 111h1v1h-1zM45 113h1v1h-1zM45 115h1v1h-1zM45 117h1v1h-1zM45 123h1v1h-1zM45 131h1v1h-1zM45 133h1v2h-1zM45 141h1v2h-1zM45 145h1v8h-1zM45 161h1v1h-1zM45 163h1v6h-1zM45 171h1v5h-1zM46 62h1v1h-1zM46 74h1v2h-1zM46 86h1v1h-1zM46 91h1v2h-1zM46 94h1v3h-1zM46 98h1v1h-1zM46 100h1v1h-1zM46 125h1v1h-1zM46 128h1v1h-1zM46 132h1v3h-1zM46 141h1v3h-1zM46 145h1v1h-1zM46 148h1v1h-1zM46 150h1v3h-1zM46 157h1v2h-1zM46 168h1v1h-1zM47 53h1v1h-1zM47 55h1v1h-1zM47 64h1v1h-1zM47 66h1v6h-1zM47 73h1v1h-1zM47 75h1v1h-1zM47 87h1v2h-1zM47 91h1v1h-1zM47 101h1v1h-1zM47 103h1v1h-1zM47 105h1v1h-1zM47 125h1v1h-1zM47 127h1v1h-1zM47 129h1v1h-1zM47 142h1v4h-1zM47 149h1v1h-1zM47 157h1v1h-1zM47 159h1v2h-1zM47 165h1v1h-1zM47 169h1v3h-1zM47 177h1v1h-1zM49 50h1v1h-1zM49 56h1v1h-1zM49 62h1v1h-1zM49 95h1v1h-1zM49 122h1v1h-1zM49 124h1v1h-1zM49 128h1v1h-1zM49 139h1v1h-1zM49 155h1v1h-1zM49 179h1v1h-1zM50 64h1v1h-1zM50 93h1v1h-1zM50 101h1v2h-1zM50 104h1v1h-1zM50 134h1v1h-1zM50 147h1v1h-1zM50 151h1v4h-1zM50 165h1v1h-1zM50 168h1v1h-1zM51 52h1v2h-1zM51 59h1v1h-1zM51 61h1v1h-1zM51 63h1v1h-1zM51 73h1v1h-1zM51 75h1v1h-1zM51 85h1v1h-1zM51 91h1v2h-1zM51 94h1v1h-1zM51 96h1v1h-1zM51 103h1v1h-1zM51 107h1v1h-1zM51 109h1v3h-1zM51 113h1v2h-1zM51 117h1v1h-1zM51 121h1v1h-1zM51 123h1v1h-1zM51 127h1v1h-1zM51 133h1v1h-1zM51 140h1v6h-1zM51 147h1v3h-1zM51 151h1v1h-1zM51 157h1v3h-1zM51 161h1v1h-1zM51 163h1v1h-1zM51 165h1v1h-1zM51 167h1v1h-1zM51 169h1v1h-1zM52 65h1v1h-1zM52 166h1v1h-1zM55 134h1v1h-1zM55 178h1v1h-1zM56 72h1v2h-1zM56 94h1v2h-1zM56 100h1v1h-1zM56 120h1v1h-1zM56 122h1v1h-1zM56 132h1v3h-1zM56 146h1v1h-1zM56 150h1v1h-1zM56 174h1v2h-1zM56 179h1v1h-1zM58 179h1v1h-1zM59 87h1v1h-1zM59 124h1v1h-1zM59 129h1v2h-1zM60 148h1v1h-1zM60 150h1v3h-1zM62 72h1v1h-1zM62 86h1v1h-1zM62 93h1v5h-1zM62 102h1v5h-1zM62 108h1v1h-1zM62 110h1v1h-1zM62 112h1v1h-1zM62 114h1v1h-1zM62 116h1v1h-1zM62 118h1v1h-1zM62 120h1v5h-1zM62 132h1v3h-1zM62 140h1v6h-1zM62 164h1v1h-1zM62 166h1v1h-1zM62 168h1v1h-1zM64 66h1v1h-1zM64 73h1v1h-1zM64 96h1v1h-1zM64 128h1v2h-1zM64 142h1v3h-1zM64 162h1v1h-1zM64 164h1v5h-1zM65 67h1v1h-1zM65 82h1v1h-1zM65 101h1v1h-1zM65 103h1v2h-1zM65 109h1v1h-1zM65 115h1v1h-1zM65 117h1v1h-1zM65 123h1v2h-1zM65 130h1v1h-1zM65 132h1v2h-1zM65 141h1v1h-1zM65 143h1v3h-1zM65 165h1v1h-1zM65 168h1v1h-1zM65 176h1v4h-1zM66 67h1v4h-1zM66 77h1v3h-1zM66 86h1v1h-1zM66 88h1v1h-1zM66 96h1v1h-1zM66 101h1v5h-1zM66 108h1v1h-1zM66 110h1v1h-1zM66 112h1v1h-1zM66 114h1v1h-1zM66 116h1v1h-1zM66 120h1v1h-1zM66 122h1v1h-1zM66 124h1v1h-1zM66 128h1v1h-1zM66 132h1v1h-1zM66 134h1v1h-1zM66 142h1v1h-1zM66 146h1v1h-1zM66 148h1v1h-1zM66 150h1v3h-1zM66 156h1v1h-1zM66 158h1v1h-1zM66 163h1v1h-1zM66 166h1v1h-1zM66 172h1v1h-1zM66 174h1v1h-1zM67 69h1v1h-1zM67 71h1v1h-1zM67 74h1v4h-1zM67 79h1v1h-1zM67 91h1v1h-1zM67 95h1v1h-1zM67 100h1v2h-1zM67 106h1v5h-1zM67 112h1v3h-1zM67 116h1v2h-1zM67 123h1v1h-1zM67 125h1v1h-1zM67 127h1v2h-1zM67 133h1v1h-1zM67 141h1v1h-1zM67 143h1v1h-1zM67 145h1v2h-1zM67 148h1v4h-1zM67 157h1v4h-1zM67 163h1v1h-1zM67 166h1v1h-1zM67 173h1v1h-1zM67 176h1v4h-1zM70 166h1v2h-1zM71 86h1v2h-1zM71 123h1v1h-1zM71 133h1v1h-1zM71 157h1v1h-1zM74 96h1v1h-1zM74 124h1v1h-1zM74 130h1v1h-1zM74 140h1v3h-1zM74 144h1v1h-1zM74 156h1v1h-1zM74 161h1v1h-1zM74 165h1v1h-1zM74 169h1v1h-1zM74 171h1v1h-1zM74 173h1v1h-1zM74 175h1v2h-1zM74 179h1v1h-1zM77 164h1v1h-1zM78 84h1v1h-1zM78 106h1v3h-1zM78 112h1v1h-1zM78 114h1v1h-1zM78 116h1v1h-1zM78 120h1v3h-1zM78 139h1v1h-1zM78 147h1v2h-1zM78 150h1v3h-1zM78 158h1v1h-1zM78 164h1v1h-1zM78 166h1v1h-1zM78 170h1v1h-1zM78 172h1v1h-1zM78 178h1v1h-1zM79 84h1v1h-1zM79 120h1v3h-1zM79 143h1v2h-1zM83 111h1v1h-1zM83 123h1v1h-1zM83 129h1v1h-1zM83 133h1v1h-1zM83 139h1v1h-1zM83 177h1v1h-1zM83 179h1v1h-1zM84 86h1v1h-1zM84 132h1v1h-1zM84 138h1v2h-1zM84 169h1v1h-1zM87 117h1v1h-1zM87 121h1v1h-1zM87 128h1v1h-1zM87 141h1v3h-1zM87 145h1v1h-1zM87 149h1v1h-1zM87 151h1v1h-1zM87 157h1v1h-1zM87 159h1v1h-1zM87 163h1v1h-1zM87 165h1v1h-1zM87 167h1v1h-1zM87 169h1v1h-1zM87 172h1v2h-1zM87 176h1v3h-1zM88 121h1v1h-1zM88 124h1v1h-1zM88 132h1v1h-1zM88 134h1v1h-1zM88 140h1v1h-1zM88 142h1v1h-1zM88 144h1v2h-1zM88 158h1v1h-1zM88 172h1v1h-1zM89 126h1v2h-1zM89 139h1v1h-1zM89 157h1v2h-1zM89 166h1v2h-1zM89 175h1v1h-1zM90 111h1v1h-1zM90 125h1v1h-1zM90 130h1v1h-1zM90 162h1v1h-1zM91 133h1v1h-1zM91 166h1v2h-1zM92 106h1v1h-1zM92 114h1v1h-1zM94 100h1v1h-1zM94 164h1v1h-1zM94 166h1v1h-1zM94 168h1v1h-1zM94 176h1v1h-1zM95 122h1v1h-1zM95 124h1v1h-1zM95 143h1v3h-1zM95 151h1v1h-1zM95 158h1v1h-1zM95 161h1v1h-1zM100 102h1v1h-1zM100 104h1v1h-1zM100 116h1v1h-1zM100 120h1v3h-1zM100 126h1v1h-1zM100 132h1v1h-1zM100 134h1v1h-1zM100 144h1v1h-1zM100 160h1v3h-1zM100 177h1v1h-1zM101 126h1v1h-1zM101 179h1v1h-1zM102 124h1v1h-1zM102 129h1v2h-1zM102 132h1v1h-1zM102 141h1v5h-1zM103 142h1v2h-1zM103 147h1v1h-1zM103 149h1v3h-1zM103 159h1v1h-1zM103 163h1v1h-1zM103 171h1v1h-1zM103 173h1v1h-1zM103 179h1v1h-1zM105 163h1v1h-1zM106 108h1v1h-1zM106 114h1v1h-1zM106 116h1v1h-1zM106 122h1v2h-1zM106 128h1v1h-1zM106 132h1v3h-1zM106 140h1v2h-1zM106 145h1v4h-1zM106 150h1v2h-1zM106 160h1v1h-1zM106 164h1v1h-1zM106 166h1v2h-1zM106 170h1v3h-1zM106 176h1v1h-1zM106 178h1v1h-1zM107 121h1v1h-1zM107 128h1v2h-1zM107 133h1v1h-1zM107 161h1v1h-1zM107 163h1v1h-1zM107 165h1v1h-1zM107 167h1v1h-1zM107 170h1v2h-1zM107 173h1v1h-1zM107 177h1v1h-1zM107 179h1v1h-1zM108 109h1v9h-1zM108 126h1v4h-1zM108 133h1v2h-1zM108 142h1v1h-1zM108 144h1v1h-1zM108 146h1v1h-1zM108 148h1v1h-1zM108 150h1v1h-1zM108 152h1v1h-1zM108 156h1v2h-1zM108 159h1v1h-1zM108 164h1v3h-1zM108 168h1v1h-1zM108 176h1v3h-1zM110 120h1v1h-1zM110 122h1v1h-1zM110 126h1v1h-1zM110 132h1v3h-1zM110 140h1v1h-1zM110 142h1v1h-1zM110 146h1v1h-1zM110 150h1v3h-1zM110 157h1v2h-1zM110 164h1v1h-1zM110 166h1v1h-1zM110 168h1v3h-1zM110 172h1v1h-1zM110 174h1v1h-1zM110 176h1v1h-1zM110 178h1v1h-1zM111 113h1v2h-1zM111 124h1v2h-1zM111 127h1v1h-1zM111 131h1v1h-1zM111 139h1v3h-1zM111 143h1v2h-1zM111 146h1v6h-1zM111 159h1v1h-1zM111 161h1v1h-1zM111 163h1v1h-1zM111 166h1v4h-1zM111 171h1v1h-1zM111 173h1v2h-1zM111 176h1v3h-1zM112 114h1v1h-1zM112 117h1v1h-1zM112 122h1v1h-1zM112 124h1v1h-1zM112 126h1v1h-1zM112 128h1v2h-1zM112 132h1v1h-1zM112 134h1v1h-1zM112 139h1v2h-1zM112 142h1v1h-1zM112 146h1v1h-1zM112 148h1v1h-1zM112 152h1v1h-1zM112 164h1v1h-1zM112 166h1v1h-1zM112 168h1v1h-1zM112 172h1v1h-1zM112 176h1v1h-1zM112 178h1v1h-1zM113 114h1v3h-1zM113 123h1v3h-1zM113 128h1v3h-1zM113 132h1v3h-1zM113 144h1v1h-1zM113 156h1v1h-1zM113 161h1v1h-1zM113 163h1v1h-1zM114 122h1v1h-1zM114 140h1v2h-1zM114 147h1v1h-1zM114 158h1v1h-1zM114 161h1v1h-1zM114 163h1v1h-1zM114 178h1v1h-1zM115 117h1v1h-1zM115 120h1v3h-1zM115 125h1v1h-1zM115 127h1v1h-1zM115 144h1v2h-1zM115 150h1v1h-1zM115 152h1v1h-1zM115 159h1v2h-1zM115 171h1v1h-1zM115 173h1v3h-1zM116 120h1v2h-1zM116 124h1v1h-1zM116 152h1v1h-1zM116 161h1v3h-1zM116 176h1v1h-1zM116 178h1v1h-1zM117 125h1v3h-1zM117 129h1v1h-1zM117 131h1v1h-1zM117 141h1v1h-1zM117 143h1v1h-1zM117 161h1v1h-1zM117 163h1v1h-1zM117 167h1v1h-1zM117 177h1v3h-1zM118 120h1v1h-1zM118 122h1v1h-1zM118 128h1v1h-1zM118 146h1v1h-1zM118 148h1v2h-1zM118 152h1v1h-1zM118 170h1v1h-1zM119 123h1v1h-1zM120 127h1v2h-1zM123 126h1v1h-1zM124 126h1v1h-1zM124 130h1v1h-1zM124 134h1v1h-1zM124 142h1v1h-1zM124 156h1v1h-1zM124 160h1v3h-1zM124 164h1v1h-1zM124 166h1v1h-1zM124 168h1v1h-1zM124 176h1v1h-1zM125 169h1v1h-1zM126 130h1v1h-1zM126 140h1v1h-1zM126 142h1v1h-1zM126 144h1v3h-1zM126 148h1v1h-1zM126 150h1v1h-1zM126 152h1v1h-1zM126 158h1v1h-1zM126 160h1v1h-1zM126 169h1v2h-1zM126 172h1v1h-1zM126 178h1v1h-1zM127 134h1v1h-1zM134 142h1v2h-1zM134 150h1v1h-1zM134 156h1v4h-1zM134 162h1v2h-1zM134 172h1v1h-1zM134 174h1v1h-1zM134 176h1v4h-1zM135 157h1v1h-1zM136 144h1v1h-1zM136 149h1v1h-1zM136 154h1v1h-1zM136 156h1v1h-1zM136 162h1v1h-1zM136 170h1v1h-1zM137 160h1v1h-1zM137 168h1v1h-1zM138 146h1v1h-1zM138 148h1v1h-1zM138 150h1v1h-1zM139 142h1v2h-1zM139 145h1v1h-1zM139 170h1v1h-1zM141 146h1v1h-1zM141 152h1v1h-1zM141 156h1v1h-1zM141 159h1v1h-1zM141 168h1v1h-1zM142 144h1v1h-1zM142 146h1v1h-1zM142 148h1v2h-1zM142 151h1v3h-1zM142 156h1v5h-1zM142 164h1v5h-1zM143 145h1v1h-1zM143 162h1v1h-1zM143 170h1v1h-1zM143 176h1v2h-1zM144 156h1v1h-1zM144 162h1v1h-1zM144 170h1v1h-1zM145 146h1v4h-1zM145 157h1v1h-1zM145 169h1v1h-1zM145 171h1v1h-1zM145 173h1v3h-1zM146 147h1v1h-1zM146 154h1v1h-1zM146 158h1v1h-1zM146 166h1v1h-1zM147 155h1v1h-1zM147 169h1v1h-1zM147 176h1v2h-1zM147 179h1v1h-1zM148 158h1v1h-1zM148 160h1v1h-1zM148 176h1v2h-1zM148 179h1v1h-1zM149 152h1v1h-1zM149 162h1v1h-1zM149 164h1v6h-1zM149 173h1v2h-1zM150 157h1v1h-1zM150 168h1v1h-1zM151 158h1v1h-1zM151 164h1v2h-1zM152 158h1v1h-1zM152 163h1v1h-1zM152 166h1v2h-1zM154 163h1v1h-1zM155 167h1v1h-1zM156 157h1v4h-1zM156 164h1v3h-1zM156 168h1v2h-1zM156 176h1v1h-1zM156 178h1v2h-1zM157 160h1v5h-1zM157 167h1v2h-1zM157 174h1v2h-1zM158 160h1v1h-1zM158 164h1v1h-1zM158 166h1v1h-1zM158 169h1v3h-1zM158 175h1v5h-1zM159 161h1v1h-1zM159 163h1v1h-1zM159 174h1v1h-1zM159 179h1v1h-1zM161 163h1v1h-1zM161 167h1v1h-1zM161 177h1v1h-1zM161 179h1v1h-1zM162 170h1v1h-1zM163 177h1v1h-1zM163 179h1v1h-1zM165 167h1v4h-1zM165 175h1v4h-1zM173 176h1v1h-1zM174 176h1v2h-1zM174 179h1v1h-1zM177 179h1v1h-1z" fill="#ee1a18"/>
<path d="M0 0L0 53L53 53" fill="none" stroke="#666" stroke-width="0.45"/>
<path d="M63 63L63 69L69 69" fill="none" stroke="#666" stroke-width="0.45"/>
<path d="M70 70L70 75L75 75" fill="none" stroke="#666" stroke-width="0.45"/>
<path d="M75 75L75 87L87 87" fill="none" stroke="#666" stroke-width="0.45"/>
<path d="M88 88L88 91L91 91" fill="none" stroke="#666" stroke-width="0.45"/>
<path d="M95 95L95 98L98 98" fill="none" stroke="#666" stroke-width="0.45"/>
<path d="M105 105L105 110L110 110" fill="none" stroke="#666" stroke-width="0.45"/>
<path d="M112 112L112 115L115 115" fill="none" stroke="#666" stroke-width="0.45"/>
<path d="M115 115L115 131L131 131" fill="none" stroke="#666" stroke-width="0.45"/>
<path d="M136 136L136 171L171 171" fill="none" stroke="#666" stroke-width="0.45"/>
</g>
<line x1="56.1" y1="533.4" x2="487.6" y2="533.4" stroke="#999" stroke-width="0.6"/>
<rect x="345.2" y="721" width="14.8" height="10" fill="#ffffff"/>
<rect x="359.7" y="721" width="14.8" height="10" fill="#fffbd8"/>
<rect x="374.2" y="721" width="14.8" height="10" fill="#fff3a8"/>
<rect x="388.7" y="721" width="14.8" height="10" fill="#ffee84"/>
<rect x="403.2" y="721" width="14.8" height="10" fill="#ffe85c"/>
<rect x="417.7" y="721" width="14.8" height="10" fill="#ffe030"/>
<rect x="432.3" y="721" width="14.8" height="10" fill="#fbbf2c"/>
<rect x="446.8" y="721" width="14.8" height="10" fill="#f99a24"/>
<rect x="461.3" y="721" width="14.8" height="10" fill="#f7701e"/>
<rect x="475.8" y="721" width="14.8" height="10" fill="#f24416"/>
<rect x="490.3" y="721" width="14.8" height="10" fill="#ee1410"/>
<rect x="345.2" y="721" width="159.6" height="10" fill="none" stroke="#666" stroke-width="0.6"/>
<text x="384" y="711.4" font-family="'DejaVu Sans', Verdana, sans-serif" font-size="8.6" textLength="68" lengthAdjust="spacingAndGlyphs" fill="#222">R^2 Color Key</text>
<text x="345.2" y="740.4" font-family="'DejaVu Sans', Verdana, sans-serif" font-size="9.2" fill="#222">0.0</text>
<text x="498" y="740.4" text-anchor="end" font-family="'DejaVu Sans', Verdana, sans-serif" font-size="9.2" fill="#222">1.0</text>
<text x="522.6" y="747.1" class="serif" font-weight="bold" font-size="14.2" textLength="16.8" lengthAdjust="spacingAndGlyphs">(c)</text>
</svg></body></html>
